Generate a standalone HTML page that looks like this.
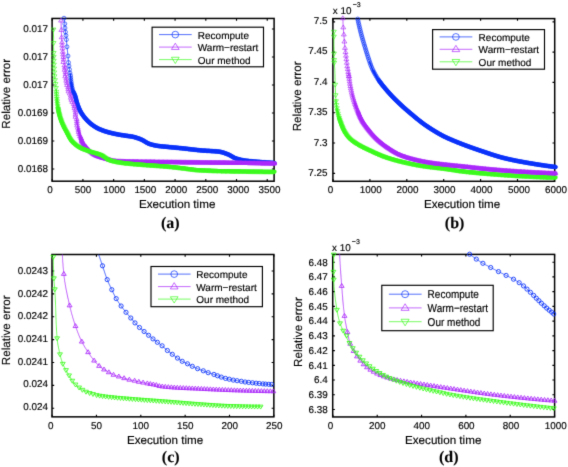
<!DOCTYPE html>
<html><head><meta charset="utf-8"><title>Figure</title>
<style>html,body{margin:0;padding:0;background:#fff}svg{display:block}text{font-family:"Liberation Sans",sans-serif;fill:#000;stroke:#000;stroke-width:0.15px;text-rendering:geometricPrecision}</style>
</head><body>
<svg width="568" height="467" viewBox="0 0 568 467">
<defs><filter id="soft" x="0" y="0" width="1" height="1" color-interpolation-filters="sRGB"><feConvolveMatrix order="3" kernelMatrix="0.0113 0.0838 0.0113 0.0838 0.619 0.0838 0.0113 0.0838 0.0113" edgeMode="duplicate" preserveAlpha="true"/></filter></defs>
<g filter="url(#soft)">
<rect width="568" height="467" fill="#fff"/>
<rect x="52.1" y="18.45" width="222.00000000000003" height="162.75" fill="none" stroke="#000" stroke-width="1.5"/>
<path d="M52.2 181.2v-2.2M52.2 18.45v2.2M82.92 181.2v-2.2M82.92 18.45v2.2M113.64 181.2v-2.2M113.64 18.45v2.2M144.36 181.2v-2.2M144.36 18.45v2.2M175.08 181.2v-2.2M175.08 18.45v2.2M205.8 181.2v-2.2M205.8 18.45v2.2M236.52 181.2v-2.2M236.52 18.45v2.2M267.24 181.2v-2.2M267.24 18.45v2.2M52.1 29h2.2M274.1 29h-2.2M52.1 57h2.2M274.1 57h-2.2M52.1 85h2.2M274.1 85h-2.2M52.1 113h2.2M274.1 113h-2.2M52.1 141h2.2M274.1 141h-2.2M52.1 169h2.2M274.1 169h-2.2" stroke="#000" stroke-width="1.15" fill="none"/>
<text x="49.90" y="193.30" font-size="9.9" text-anchor="middle">0</text>
<text x="82.92" y="193.30" font-size="9.9" text-anchor="middle">500</text>
<text x="114.34" y="193.30" font-size="9.9" text-anchor="middle">1000</text>
<text x="145.36" y="193.30" font-size="9.9" text-anchor="middle">1500</text>
<text x="176.28" y="193.30" font-size="9.9" text-anchor="middle">2000</text>
<text x="207.30" y="193.30" font-size="9.9" text-anchor="middle">2500</text>
<text x="238.32" y="193.30" font-size="9.9" text-anchor="middle">3000</text>
<text x="269.44" y="193.30" font-size="9.9" text-anchor="middle">3500</text>
<text x="48.0" y="32.1" font-size="9.9" text-anchor="end">0.017</text>
<text x="48.0" y="60.1" font-size="9.9" text-anchor="end">0.017</text>
<text x="48.0" y="88.1" font-size="9.9" text-anchor="end">0.017</text>
<text x="48.0" y="116.1" font-size="9.9" text-anchor="end">0.0169</text>
<text x="48.0" y="144.1" font-size="9.9" text-anchor="end">0.0169</text>
<text x="48.0" y="172.1" font-size="9.9" text-anchor="end">0.0168</text>
<path d="M64.0 18.2L64.2 19.2L64.4 20.2L64.5 21.2L64.6 22.2L64.8 23.2L64.8 24.2L64.9 25.2L64.9 26.2L65.0 27.2L65.0 28.2L65.1 29.2L65.2 30.2L65.4 31.2L65.5 32.2L65.7 33.2L65.8 34.2L66.0 35.2L66.1 36.2L66.2 37.2L66.3 38.2L66.4 39.2L66.5 40.2L66.5 41.2L66.6 42.2L66.7 43.2L66.8 44.2L66.9 45.2L66.9 46.3L67.0 47.3L67.1 48.3L67.3 49.3L67.4 50.3L67.5 51.3L67.6 52.3L67.7 53.3L67.8 54.3L67.9 55.3L68.0 56.3L68.1 57.3L68.2 58.3L68.2 59.3L68.3 60.3L68.4 61.3L68.5 62.3L68.6 63.3L68.7 64.3L68.9 65.3L69.0 66.3L69.2 67.3L69.3 68.3L69.5 69.3L69.6 70.3L69.7 71.3L69.9 72.3L70.1 73.3L70.3 74.3L70.5 75.3L70.6 76.2L70.7 77.3L70.8 78.3L70.8 79.3L70.9 80.3L71.1 81.3L71.2 82.3L71.3 83.3L71.5 84.3L71.7 85.3L71.8 86.3L72.0 87.3L72.2 88.3L72.5 89.2L72.7 90.2L73.0 91.1L73.4 92.0L73.9 93.0L74.3 93.9L74.7 94.8L75.1 95.7L75.4 96.7L75.6 97.7L75.9 98.7L76.1 99.6L76.4 100.6L76.6 101.6L76.9 102.6L77.2 103.5L77.5 104.5L77.8 105.4L78.2 106.4L78.6 107.3L79.0 108.3L79.4 109.2L79.8 110.1L80.2 111.0L80.7 111.9L81.2 112.7L81.8 113.6L82.3 114.5L82.9 115.3L83.5 116.1L84.1 116.9L84.7 117.7L85.4 118.4L86.1 119.2L86.7 120.0L87.4 120.7L88.2 121.4L88.9 122.1L89.7 122.8L90.4 123.4L91.2 124.1L92.0 124.7L92.8 125.3L93.6 125.9L94.5 126.4L95.3 127.0L96.2 127.5L97.1 128.0L98.0 128.5L98.9 128.9L99.8 129.3L100.7 129.7L101.6 130.0L102.6 130.4L103.5 130.7L104.5 131.1L105.5 131.4L106.4 131.7L107.4 132.0L108.4 132.3L109.4 132.5L110.3 132.8L111.3 133.0L112.3 133.3L113.3 133.5L114.2 133.7L115.2 133.9L116.2 134.1L117.2 134.3L118.2 134.5L119.2 134.7L120.2 134.8L121.2 135.0L122.2 135.2L123.2 135.3L124.2 135.5L125.2 135.6L126.2 135.7L127.2 135.9L128.2 136.0L129.2 136.2L130.2 136.3L131.2 136.5L132.2 136.6L133.1 136.8L134.1 137.1L135.1 137.3L136.1 137.6L137.0 137.9L138.0 138.3L138.9 138.6L139.9 139.0L140.8 139.3L141.7 139.7L142.6 140.2L143.5 140.7L144.4 141.2L145.3 141.8L146.1 142.3L147.0 142.8L147.9 143.3L148.8 143.7L149.7 144.0L150.7 144.3L151.6 144.6L152.6 144.8L153.6 145.1L154.6 145.3L155.6 145.5L156.6 145.7L157.6 145.9L158.6 146.0L159.6 146.1L160.6 146.2L161.6 146.3L162.6 146.4L163.6 146.5L164.6 146.6L165.6 146.7L166.6 146.8L167.6 146.9L168.6 147.0L169.6 147.1L170.6 147.2L171.6 147.3L172.6 147.4L173.6 147.5L174.6 147.6L175.6 147.7L176.6 147.8L177.6 147.9L178.6 148.0L179.6 148.1L180.7 148.2L181.7 148.3L182.7 148.4L183.7 148.5L184.7 148.6L185.7 148.7L186.7 148.8L187.7 148.9L188.7 149.0L189.7 149.2L190.7 149.3L191.7 149.4L192.7 149.5L193.7 149.6L194.7 149.7L195.7 149.8L196.7 150.0L197.7 150.1L198.7 150.2L199.7 150.3L200.7 150.4L201.7 150.4L202.7 150.5L203.7 150.6L204.7 150.7L205.7 150.7L206.7 150.8L207.7 150.9L208.8 150.9L209.8 151.0L210.8 151.0L211.8 151.1L212.8 151.1L213.8 151.2L214.8 151.3L215.8 151.4L216.8 151.4L217.8 151.5L218.8 151.7L219.8 151.8L220.8 152.0L221.7 152.2L222.7 152.5L223.7 152.8L224.7 153.1L225.6 153.5L226.6 153.8L227.5 154.2L228.4 154.5L229.3 155.0L230.2 155.5L231.1 156.0L232.0 156.5L232.9 157.0L233.8 157.5L234.7 157.9L235.6 158.3L236.5 158.6L237.5 158.9L238.4 159.2L239.4 159.5L240.4 159.7L241.4 159.9L242.4 160.1L243.4 160.3L244.4 160.5L245.4 160.6L246.4 160.8L247.4 160.9L248.4 161.0L249.4 161.1L250.4 161.2L251.4 161.3L252.4 161.4L253.4 161.5L254.4 161.6L255.4 161.6L256.4 161.7L257.4 161.8L258.4 161.9L259.4 162.0L260.4 162.0L261.4 162.1L262.4 162.2L263.4 162.3L264.4 162.3L265.4 162.4L266.5 162.5L267.5 162.6L268.5 162.6L269.5 162.7L270.5 162.8L271.5 162.8L272.5 162.9L273.5 162.9L274.5 163.0" fill="none" stroke="#0a32fa" stroke-width="0.75"/>
<path d="M70.2 74.1L70.3 74.4L70.4 74.8L70.4 75.1L70.5 75.5L70.5 75.8L70.6 76.1L70.6 76.5L70.6 76.8L70.7 77.2L70.7 77.5L70.7 77.9L70.7 78.2L70.8 78.6L70.8 78.9L70.8 79.3L70.9 79.6L70.9 80.0L70.9 80.3L71.0 80.6L71.0 81.0L71.1 81.3L71.1 81.7L71.2 82.0L71.2 82.4L71.3 82.7L71.3 83.1L71.4 83.4L71.4 83.8L71.5 84.1L71.5 84.5L71.6 84.8L71.6 85.1L71.7 85.5L71.7 85.8L71.8 86.2L71.9 86.5L71.9 86.9L72.0 87.2L72.1 87.5L72.1 87.9L72.2 88.2L72.3 88.6L72.4 88.9L72.5 89.2L72.5 89.6L72.6 89.9L72.7 90.2L72.8 90.5L72.9 90.9L73.1 91.2L73.2 91.5L73.3 91.8L73.5 92.1L73.6 92.5L73.8 92.8L74.0 93.1L74.1 93.4L74.3 93.7L74.4 94.0" fill="none" stroke="#0a32fa" stroke-width="1.26" stroke-linecap="round" stroke-linejoin="round"/>
<path d="M71.3 83.1L71.3 83.3L71.4 83.5L71.4 83.7L71.4 83.9L71.5 84.0L71.5 84.2L71.5 84.4L71.5 84.6L71.6 84.8L71.6 85.0L71.6 85.2L71.7 85.4L71.7 85.6L71.7 85.8L71.8 86.0L71.8 86.2L71.8 86.4L71.9 86.6L71.9 86.7L72.0 86.9L72.0 87.1L72.0 87.3L72.1 87.5L72.1 87.7L72.1 87.9L72.2 88.1L72.2 88.3L72.3 88.4L72.3 88.6L72.4 88.8L72.4 89.0L72.4 89.2L72.5 89.4L72.5 89.6L72.6 89.7L72.6 89.9L72.7 90.1L72.7 90.3L72.8 90.5L72.9 90.7L72.9 90.8L73.0 91.0L73.1 91.2L73.2 91.4L73.2 91.6L73.3 91.7L73.4 91.9L73.5 92.1L73.6 92.3L73.6 92.4L73.7 92.6L73.8 92.8L73.9 93.0L74.0 93.1L74.1 93.3L74.2 93.5L74.2 93.7L74.3 93.9L74.4 94.0" fill="none" stroke="#0a32fa" stroke-width="2.60" stroke-linecap="round" stroke-linejoin="round"/>
<path d="M73.4 92.0L73.7 92.5L73.9 93.1L74.2 93.6L74.4 94.1L74.7 94.6L74.9 95.1L75.1 95.7L75.2 96.2L75.4 96.8L75.5 97.3L75.7 97.9L75.8 98.4L76.0 99.0L76.1 99.5L76.2 100.1L76.4 100.6L76.5 101.2L76.7 101.7L76.8 102.3L77.0 102.8L77.1 103.4L77.3 103.9L77.5 104.4L77.7 105.0L77.9 105.5L78.1 106.1L78.3 106.6L78.5 107.1L78.7 107.6L78.9 108.2L79.1 108.7L79.4 109.2L79.6 109.7L79.9 110.2L80.1 110.7L80.4 111.2L80.6 111.7L80.9 112.2L81.2 112.7L81.5 113.2L81.8 113.7L82.1 114.2L82.5 114.6L82.8 115.1L83.1 115.6L83.5 116.0L83.8 116.5L84.2 116.9L84.5 117.4L84.9 117.8L85.2 118.2L85.6 118.7L86.0 119.1L86.4 119.5L86.7 119.9L87.1 120.4L87.5 120.8L87.9 121.2L88.4 121.6L88.8 122.0L89.2 122.4L89.6 122.7L90.0 123.1L90.5 123.5L90.9 123.8L91.4 124.2L91.8 124.5L92.3 124.9L92.7 125.2L93.2 125.5L93.6 125.9L94.1 126.2L94.6 126.5L95.1 126.8L95.6 127.1L96.1 127.4L96.6 127.7L97.1 128.0L97.6 128.2L98.1 128.5L98.6 128.7L99.1 129.0L99.6 129.2L100.1 129.4L100.6 129.6L101.2 129.8L101.7 130.1L102.2 130.3L102.7 130.5L103.3 130.6L103.8 130.8L104.4 131.0L104.9 131.2L105.5 131.4L106.0 131.6L106.6 131.7L107.1 131.9L107.6 132.1L108.2 132.2L108.7 132.4L109.3 132.5L109.8 132.7L110.4 132.8L110.9 132.9L111.5 133.1L112.0 133.2L112.6 133.3L113.1 133.5L113.7 133.6L114.3 133.7L114.8 133.8L115.4 133.9L115.9 134.0L116.5 134.2L117.1 134.3L117.6 134.4L118.2 134.5L118.7 134.6L119.3 134.7L119.9 134.8L120.4 134.9L121.0 135.0L121.5 135.1L122.1 135.1L122.7 135.2L123.2 135.3L123.8 135.4L124.3 135.5L124.9 135.6L125.5 135.6L126.0 135.7L126.6 135.8L127.2 135.9L127.7 136.0L128.3 136.1L128.8 136.1L129.4 136.2L130.0 136.3L130.5 136.4L131.1 136.5L131.7 136.5L132.2 136.6L132.8 136.8L133.3 136.9L133.9 137.0L134.4 137.1L135.0 137.3L135.5 137.5L136.1 137.6L136.6 137.8L137.2 138.0L137.7 138.2L138.2 138.3L138.8 138.5L139.3 138.7L139.8 138.9L140.4 139.2L140.9 139.4L141.4 139.6L141.9 139.8L142.4 140.1L142.9 140.3L143.4 140.6L143.9 140.9L144.4 141.2L144.9 141.5L145.4 141.9L145.9 142.2L146.4 142.5L146.9 142.7L147.4 143.0L147.9 143.3L148.4 143.5L148.9 143.7L149.4 143.9L149.9 144.1L150.5 144.2L151.0 144.4L151.6 144.6L152.1 144.7L152.7 144.9L153.2 145.0L153.8 145.1L154.3 145.2L154.9 145.4L155.5 145.5L156.0 145.6L156.6 145.7L157.2 145.8L157.7 145.9L158.3 146.0L158.8 146.0L159.4 146.1L160.0 146.2L160.5 146.2L161.1 146.3L161.7 146.4L162.2 146.4L162.8 146.5L163.4 146.5L163.9 146.6L164.5 146.6L165.1 146.7L165.6 146.7L166.2 146.8L166.8 146.8L167.3 146.9L167.9 146.9L168.5 147.0L169.0 147.1L169.6 147.1L170.2 147.2L170.7 147.2L171.3 147.3L171.9 147.3L172.4 147.4L173.0 147.4L173.6 147.5L174.1 147.5L174.7 147.6L175.2 147.6L175.8 147.7L176.4 147.7L176.9 147.8L177.5 147.9L178.1 147.9L178.6 148.0L179.2 148.0L179.8 148.1L180.3 148.1L180.9 148.2L181.5 148.2L182.0 148.3L182.6 148.4L183.2 148.4L183.7 148.5L184.3 148.5L184.9 148.6L185.4 148.7L186.0 148.7L186.6 148.8L187.1 148.9L187.7 148.9L188.3 149.0L188.8 149.1L189.4 149.1L189.9 149.2L190.5 149.3L191.1 149.3L191.6 149.4L192.2 149.5L192.8 149.5L193.3 149.6L193.9 149.6L194.5 149.7L195.0 149.8L195.6 149.8L196.2 149.9L196.7 150.0L197.3 150.0L197.9 150.1L198.4 150.1L199.0 150.2L199.6 150.2L200.1 150.3L200.7 150.4L201.2 150.4L201.8 150.5L202.4 150.5L202.9 150.6L203.5 150.6L204.1 150.6L204.7 150.7L205.2 150.7L205.8 150.7L206.4 150.8L206.9 150.8L207.5 150.8L208.1 150.9L208.6 150.9L209.2 150.9L209.8 151.0L210.4 151.0L210.9 151.0L211.5 151.1L212.1 151.1L212.6 151.1L213.2 151.2L213.8 151.2L214.3 151.2L214.9 151.3L215.5 151.3L216.0 151.4L216.6 151.4L217.2 151.5L217.7 151.5L218.3 151.6L218.8 151.7L219.4 151.7L219.9 151.8L220.5 151.9L221.0 152.0L221.6 152.2L222.2 152.3L222.7 152.5L223.3 152.6L223.8 152.8L224.3 153.0L224.9 153.2L225.4 153.4L226.0 153.6L226.5 153.8L227.0 154.0L227.6 154.2L228.1 154.4L228.6 154.6L229.1 154.9L229.6 155.1L230.1 155.4L230.6 155.7L231.1 156.0L231.6 156.3L232.1 156.6L232.6 156.8L233.1 157.1L233.6 157.4L234.1 157.7L234.6 157.9L235.1 158.1L235.7 158.3L236.2 158.5L236.7 158.7L237.3 158.9L237.8 159.0L238.3 159.2L238.9 159.3L239.4 159.5L240.0 159.6L240.6 159.8L241.1 159.9L241.7 160.0L242.2 160.1L242.8 160.2L243.4 160.3L243.9 160.4L244.5 160.5L245.0 160.6L245.6 160.7L246.2 160.7L246.7 160.8L247.3 160.9L247.8 160.9L248.4 161.0L249.0 161.1L249.5 161.1L250.1 161.2L250.7 161.2L251.2 161.3L251.8 161.3L252.4 161.4L252.9 161.4L253.5 161.5L254.1 161.5L254.6 161.6L255.2 161.6L255.8 161.7L256.4 161.7L256.9 161.8L257.5 161.8L258.1 161.8L258.6 161.9L259.2 161.9L259.8 162.0L260.3 162.0L260.9 162.1L261.5 162.1L262.0 162.2L262.6 162.2L263.2 162.2L263.7 162.3L264.3 162.3L264.9 162.4L265.4 162.4L266.0 162.5L266.6 162.5L267.1 162.5L267.7 162.6L268.3 162.6L268.8 162.7L269.4 162.7L270.0 162.7L270.5 162.8L271.1 162.8L271.7 162.8L272.2 162.9L272.8 162.9L273.4 162.9L273.9 163.0L274.5 163.0" fill="none" stroke="#0a32fa" stroke-width="4.20" stroke-linecap="round" stroke-linejoin="round"/>
<g fill="none" stroke="#0a32fa" stroke-width="0.65">
<circle cx="64.00" cy="18.20" r="1.95"/>
<circle cx="64.80" cy="23.80" r="1.95"/>
<circle cx="65.00" cy="28.00" r="1.95"/>
<circle cx="65.50" cy="32.00" r="1.95"/>
<circle cx="66.00" cy="35.50" r="1.95"/>
<circle cx="66.40" cy="39.60" r="1.95"/>
<circle cx="67.00" cy="46.80" r="1.95"/>
<circle cx="68.00" cy="56.00" r="1.95"/>
<circle cx="68.50" cy="62.50" r="1.95"/>
<circle cx="69.00" cy="66.00" r="1.95"/>
<circle cx="69.50" cy="69.50" r="1.95"/>
<circle cx="70.00" cy="73.00" r="1.95"/>
<circle cx="70.50" cy="75.50" r="1.95"/>
<circle cx="70.71" cy="77.79" r="1.95"/>
<circle cx="70.89" cy="79.78" r="1.95"/>
<circle cx="71.13" cy="81.77" r="1.95"/>
<circle cx="71.41" cy="83.76" r="1.95"/>
<circle cx="71.73" cy="85.75" r="1.95"/>
<circle cx="72.11" cy="87.72" r="1.95"/>
<circle cx="72.56" cy="89.64" r="1.95"/>
<circle cx="73.21" cy="91.51" r="1.95"/>
<circle cx="74.07" cy="93.33" r="1.95"/>
<circle cx="74.88" cy="95.17" r="1.95"/>
<circle cx="75.28" cy="96.40" r="1.95"/>
<circle cx="75.63" cy="97.65" r="1.95"/>
<circle cx="75.95" cy="98.92" r="1.95"/>
<circle cx="76.26" cy="100.19" r="1.95"/>
<circle cx="76.58" cy="101.45" r="1.95"/>
<circle cx="76.92" cy="102.70" r="1.95"/>
<circle cx="77.31" cy="103.94" r="1.95"/>
<circle cx="77.74" cy="105.17" r="1.95"/>
<circle cx="78.20" cy="106.39" r="1.95"/>
<circle cx="78.68" cy="107.61" r="1.95"/>
<circle cx="79.20" cy="108.81" r="1.95"/>
<circle cx="79.74" cy="109.98" r="1.95"/>
<circle cx="80.32" cy="111.14" r="1.95"/>
<circle cx="80.94" cy="112.27" r="1.95"/>
<circle cx="81.62" cy="113.38" r="1.95"/>
<circle cx="82.34" cy="114.48" r="1.95"/>
<circle cx="83.09" cy="115.55" r="1.95"/>
<circle cx="83.88" cy="116.59" r="1.95"/>
<circle cx="84.68" cy="117.60" r="1.95"/>
<circle cx="85.51" cy="118.59" r="1.95"/>
<circle cx="86.38" cy="119.56" r="1.95"/>
<circle cx="87.28" cy="120.52" r="1.95"/>
<circle cx="88.21" cy="121.45" r="1.95"/>
<circle cx="89.17" cy="122.34" r="1.95"/>
<circle cx="90.14" cy="123.20" r="1.95"/>
<circle cx="91.14" cy="124.01" r="1.95"/>
<circle cx="92.16" cy="124.80" r="1.95"/>
<circle cx="93.22" cy="125.57" r="1.95"/>
<circle cx="94.30" cy="126.31" r="1.95"/>
<circle cx="95.41" cy="127.02" r="1.95"/>
<circle cx="96.54" cy="127.69" r="1.95"/>
<circle cx="97.68" cy="128.30" r="1.95"/>
<circle cx="98.83" cy="128.85" r="1.95"/>
<circle cx="100.01" cy="129.37" r="1.95"/>
<circle cx="101.20" cy="129.86" r="1.95"/>
<circle cx="102.42" cy="130.33" r="1.95"/>
<circle cx="103.65" cy="130.78" r="1.95"/>
<circle cx="104.89" cy="131.20" r="1.95"/>
<circle cx="106.14" cy="131.60" r="1.95"/>
<circle cx="107.39" cy="131.98" r="1.95"/>
<circle cx="108.65" cy="132.34" r="1.95"/>
<circle cx="109.90" cy="132.67" r="1.95"/>
<circle cx="111.16" cy="132.99" r="1.95"/>
<circle cx="112.42" cy="133.29" r="1.95"/>
<circle cx="113.69" cy="133.58" r="1.95"/>
<circle cx="114.96" cy="133.85" r="1.95"/>
<circle cx="116.24" cy="134.11" r="1.95"/>
<circle cx="117.52" cy="134.35" r="1.95"/>
<circle cx="118.80" cy="134.59" r="1.95"/>
<circle cx="120.08" cy="134.81" r="1.95"/>
<circle cx="121.36" cy="135.03" r="1.95"/>
<circle cx="122.65" cy="135.23" r="1.95"/>
<circle cx="123.93" cy="135.42" r="1.95"/>
<circle cx="125.22" cy="135.61" r="1.95"/>
<circle cx="126.51" cy="135.80" r="1.95"/>
<circle cx="127.79" cy="135.99" r="1.95"/>
<circle cx="129.08" cy="136.16" r="1.95"/>
<circle cx="130.37" cy="136.34" r="1.95"/>
<circle cx="131.66" cy="136.54" r="1.95"/>
<circle cx="132.93" cy="136.79" r="1.95"/>
<circle cx="134.19" cy="137.09" r="1.95"/>
<circle cx="135.45" cy="137.43" r="1.95"/>
<circle cx="136.70" cy="137.82" r="1.95"/>
<circle cx="137.94" cy="138.24" r="1.95"/>
<circle cx="139.16" cy="138.69" r="1.95"/>
<circle cx="140.37" cy="139.15" r="1.95"/>
<circle cx="141.56" cy="139.64" r="1.95"/>
<circle cx="142.72" cy="140.23" r="1.95"/>
<circle cx="143.85" cy="140.89" r="1.95"/>
<circle cx="144.98" cy="141.59" r="1.95"/>
<circle cx="146.10" cy="142.28" r="1.95"/>
<circle cx="147.23" cy="142.94" r="1.95"/>
<circle cx="148.39" cy="143.51" r="1.95"/>
<circle cx="149.58" cy="143.96" r="1.95"/>
<circle cx="150.80" cy="144.34" r="1.95"/>
<circle cx="152.05" cy="144.69" r="1.95"/>
<circle cx="153.32" cy="145.01" r="1.95"/>
<circle cx="154.60" cy="145.30" r="1.95"/>
<circle cx="155.88" cy="145.56" r="1.95"/>
<circle cx="157.17" cy="145.79" r="1.95"/>
<circle cx="158.45" cy="145.98" r="1.95"/>
<circle cx="159.73" cy="146.14" r="1.95"/>
<circle cx="161.02" cy="146.29" r="1.95"/>
<circle cx="162.32" cy="146.42" r="1.95"/>
<circle cx="163.62" cy="146.55" r="1.95"/>
<circle cx="164.91" cy="146.66" r="1.95"/>
<circle cx="166.21" cy="146.78" r="1.95"/>
<circle cx="167.50" cy="146.91" r="1.95"/>
<circle cx="168.80" cy="147.04" r="1.95"/>
<circle cx="170.09" cy="147.16" r="1.95"/>
<circle cx="171.39" cy="147.28" r="1.95"/>
<circle cx="172.68" cy="147.40" r="1.95"/>
<circle cx="173.98" cy="147.52" r="1.95"/>
<circle cx="175.27" cy="147.64" r="1.95"/>
<circle cx="176.56" cy="147.76" r="1.95"/>
<circle cx="177.86" cy="147.88" r="1.95"/>
<circle cx="179.15" cy="148.01" r="1.95"/>
<circle cx="180.45" cy="148.13" r="1.95"/>
<circle cx="181.74" cy="148.27" r="1.95"/>
<circle cx="183.03" cy="148.40" r="1.95"/>
<circle cx="184.33" cy="148.54" r="1.95"/>
<circle cx="185.62" cy="148.69" r="1.95"/>
<circle cx="186.91" cy="148.83" r="1.95"/>
<circle cx="188.20" cy="148.98" r="1.95"/>
<circle cx="189.49" cy="149.13" r="1.95"/>
<circle cx="190.78" cy="149.28" r="1.95"/>
<circle cx="192.08" cy="149.44" r="1.95"/>
<circle cx="193.37" cy="149.58" r="1.95"/>
<circle cx="194.66" cy="149.73" r="1.95"/>
<circle cx="195.95" cy="149.87" r="1.95"/>
<circle cx="197.24" cy="150.01" r="1.95"/>
<circle cx="198.54" cy="150.15" r="1.95"/>
<circle cx="199.83" cy="150.28" r="1.95"/>
<circle cx="201.12" cy="150.40" r="1.95"/>
<circle cx="202.42" cy="150.51" r="1.95"/>
<circle cx="203.72" cy="150.61" r="1.95"/>
<circle cx="205.02" cy="150.70" r="1.95"/>
<circle cx="206.32" cy="150.78" r="1.95"/>
<circle cx="207.63" cy="150.85" r="1.95"/>
<circle cx="208.93" cy="150.92" r="1.95"/>
<circle cx="210.24" cy="150.99" r="1.95"/>
<circle cx="211.54" cy="151.06" r="1.95"/>
<circle cx="212.84" cy="151.14" r="1.95"/>
<circle cx="214.14" cy="151.23" r="1.95"/>
<circle cx="215.44" cy="151.32" r="1.95"/>
<circle cx="216.72" cy="151.43" r="1.95"/>
<circle cx="218.00" cy="151.56" r="1.95"/>
<circle cx="219.27" cy="151.71" r="1.95"/>
<circle cx="220.54" cy="151.92" r="1.95"/>
<circle cx="221.81" cy="152.22" r="1.95"/>
<circle cx="223.07" cy="152.58" r="1.95"/>
<circle cx="224.31" cy="152.99" r="1.95"/>
<circle cx="225.55" cy="153.43" r="1.95"/>
<circle cx="226.78" cy="153.89" r="1.95"/>
<circle cx="227.98" cy="154.35" r="1.95"/>
<circle cx="229.16" cy="154.89" r="1.95"/>
<circle cx="230.31" cy="155.51" r="1.95"/>
<circle cx="231.45" cy="156.17" r="1.95"/>
<circle cx="232.59" cy="156.84" r="1.95"/>
<circle cx="233.73" cy="157.47" r="1.95"/>
<circle cx="234.90" cy="158.03" r="1.95"/>
<circle cx="236.09" cy="158.50" r="1.95"/>
<circle cx="237.31" cy="158.88" r="1.95"/>
<circle cx="238.56" cy="159.24" r="1.95"/>
<circle cx="239.82" cy="159.57" r="1.95"/>
<circle cx="241.10" cy="159.87" r="1.95"/>
<circle cx="242.38" cy="160.14" r="1.95"/>
<circle cx="243.67" cy="160.37" r="1.95"/>
<circle cx="244.94" cy="160.56" r="1.95"/>
<circle cx="246.23" cy="160.73" r="1.95"/>
<circle cx="247.51" cy="160.89" r="1.95"/>
<circle cx="248.80" cy="161.04" r="1.95"/>
<circle cx="250.10" cy="161.17" r="1.95"/>
<circle cx="251.39" cy="161.29" r="1.95"/>
<circle cx="252.69" cy="161.41" r="1.95"/>
<circle cx="253.99" cy="161.52" r="1.95"/>
<circle cx="255.29" cy="161.63" r="1.95"/>
<circle cx="256.59" cy="161.73" r="1.95"/>
<circle cx="257.88" cy="161.83" r="1.95"/>
<circle cx="259.18" cy="161.93" r="1.95"/>
<circle cx="260.48" cy="162.04" r="1.95"/>
<circle cx="261.77" cy="162.14" r="1.95"/>
<circle cx="263.07" cy="162.24" r="1.95"/>
<circle cx="264.37" cy="162.34" r="1.95"/>
<circle cx="265.66" cy="162.43" r="1.95"/>
<circle cx="266.96" cy="162.52" r="1.95"/>
<circle cx="268.26" cy="162.61" r="1.95"/>
<circle cx="269.55" cy="162.70" r="1.95"/>
<circle cx="270.85" cy="162.78" r="1.95"/>
<circle cx="272.15" cy="162.86" r="1.95"/>
<circle cx="273.45" cy="162.94" r="1.95"/>
</g>
<path d="M61.0 20.6L61.0 21.7L61.1 22.8L61.1 23.8L61.1 24.9L61.2 26.0L61.2 27.1L61.2 28.2L61.3 29.2L61.3 30.3L61.3 31.4L61.4 32.5L61.4 33.6L61.5 34.6L61.5 35.7L61.6 36.8L61.6 37.9L61.7 39.0L61.8 40.0L61.9 41.1L62.0 42.2L62.1 43.3L62.1 44.3L62.2 45.4L62.3 46.5L62.4 47.6L62.5 48.6L62.6 49.7L62.7 50.8L62.8 51.9L62.9 52.9L63.0 54.0L63.2 55.1L63.3 56.2L63.4 57.2L63.6 58.3L63.7 59.4L63.8 60.5L63.9 61.5L64.1 62.6L64.2 63.7L64.3 64.8L64.5 65.8L64.6 66.9L64.7 68.0L64.9 69.0L65.0 70.1L65.2 71.2L65.3 72.3L65.4 73.3L65.6 74.4L65.7 75.5L65.9 76.5L66.0 77.6L66.2 78.7L66.4 79.7L66.5 80.8L66.7 81.9L66.9 82.9L67.1 84.0L67.4 85.1L67.6 86.1L67.8 87.2L68.1 88.2L68.4 89.3L68.6 90.3L68.9 91.3L69.3 92.4L69.6 93.4L70.0 94.4L70.3 95.4L70.7 96.5L71.0 97.5L71.4 98.5L71.7 99.5L72.0 100.6L72.3 101.6L72.6 102.6L73.0 103.7L73.3 104.7L73.6 105.8L73.8 106.8L74.1 107.8L74.4 108.9L74.6 109.9L74.9 111.0L75.1 112.0L75.3 113.1L75.5 114.2L75.8 115.2L76.0 116.3L76.2 117.3L76.4 118.4L76.6 119.5L76.7 120.5L76.9 121.6L77.0 122.7L77.2 123.7L77.4 124.8L77.6 125.9L77.8 126.9L78.0 128.0L78.2 129.1L78.4 130.1L78.7 131.2L79.0 132.2L79.2 133.3L79.5 134.3L79.8 135.3L80.1 136.4L80.4 137.4L80.8 138.5L81.1 139.5L81.5 140.5L82.0 141.4L82.5 142.4L83.0 143.3L83.6 144.2L84.3 145.1L84.9 146.0L85.6 146.8L86.3 147.6L87.1 148.4L87.8 149.2L88.5 150.0L89.3 150.8L90.1 151.6L90.9 152.3L91.8 153.0L92.6 153.7L93.5 154.3L94.4 154.8L95.3 155.3L96.3 155.8L97.3 156.2L98.3 156.5L99.3 156.9L100.4 157.2L101.4 157.6L102.5 157.9L103.5 158.1L104.6 158.4L105.6 158.7L106.7 159.0L107.7 159.3L108.8 159.6L109.8 159.9L110.9 160.2L111.9 160.4L113.0 160.6L114.1 160.8L115.1 161.0L116.2 161.1L117.3 161.2L118.3 161.2L119.4 161.3L120.5 161.3L121.5 161.3L122.6 161.4L123.7 161.4L124.7 161.4L125.8 161.5L126.9 161.5L128.0 161.5L129.0 161.6L130.1 161.6L131.2 161.6L132.3 161.6L133.4 161.7L134.4 161.7L135.5 161.7L136.6 161.7L137.7 161.7L138.8 161.8L139.8 161.8L140.9 161.8L142.0 161.8L143.1 161.8L144.2 161.8L145.3 161.8L146.4 161.9L147.4 161.9L148.5 161.9L149.6 161.9L150.7 161.9L151.8 161.9L152.9 161.9L154.0 161.9L155.0 162.0L156.1 162.0L157.2 162.0L158.3 162.0L159.4 162.0L160.5 162.0L161.5 162.0L162.6 162.0L163.7 162.1L164.8 162.1L165.9 162.1L167.0 162.1L168.0 162.1L169.1 162.1L170.2 162.1L171.3 162.2L172.4 162.2L173.4 162.2L174.5 162.2L175.6 162.2L176.7 162.2L177.8 162.2L178.8 162.2L179.9 162.3L181.0 162.3L182.1 162.3L183.2 162.3L184.2 162.3L185.3 162.3L186.4 162.3L187.5 162.3L188.6 162.3L189.6 162.4L190.7 162.4L191.8 162.4L192.9 162.4L194.0 162.4L195.0 162.4L196.1 162.4L197.2 162.4L198.3 162.4L199.4 162.4L200.4 162.5L201.5 162.5L202.6 162.5L203.7 162.5L204.8 162.5L205.8 162.5L206.9 162.5L208.0 162.5L209.1 162.5L210.2 162.6L211.3 162.6L212.3 162.6L213.4 162.6L214.5 162.6L215.6 162.6L216.7 162.6L217.7 162.6L218.8 162.6L219.9 162.7L221.0 162.7L222.1 162.7L223.1 162.7L224.2 162.7L225.3 162.7L226.4 162.7L227.5 162.8L228.5 162.8L229.6 162.8L230.7 162.8L231.8 162.8L232.9 162.8L233.9 162.8L235.0 162.9L236.1 162.9L237.2 162.9L238.3 162.9L239.3 162.9L240.4 162.9L241.5 163.0L242.6 163.0L243.7 163.0L244.7 163.0L245.8 163.0L246.9 163.0L248.0 163.1L249.1 163.1L250.1 163.1L251.2 163.1L252.3 163.1L253.4 163.1L254.5 163.2L255.6 163.2L256.6 163.2L257.7 163.2L258.8 163.2L259.9 163.2L261.0 163.3L262.0 163.3L263.1 163.3L264.2 163.3L265.3 163.3L266.4 163.4L267.4 163.4L268.5 163.4L269.6 163.4L270.7 163.4L271.8 163.4L272.8 163.5L273.9 163.5L275.0 163.5" fill="none" stroke="#aa28fa" stroke-width="0.75"/>
<path d="M76.6 120.0L76.7 120.4L76.8 120.7L76.8 121.1L76.9 121.4L76.9 121.7L77.0 122.1L77.0 122.4L77.1 122.8L77.1 123.1L77.2 123.5L77.2 123.8L77.3 124.2L77.3 124.5L77.4 124.9L77.4 125.2L77.5 125.5L77.6 125.9L77.6 126.2L77.7 126.6L77.8 126.9L77.8 127.3L77.9 127.6L78.0 127.9L78.0 128.3L78.1 128.6L78.2 129.0L78.3 129.3L78.3 129.6L78.4 130.0L78.5 130.3L78.6 130.7L78.7 131.0L78.7 131.3L78.8 131.7L78.9 132.0L79.0 132.4L79.1 132.7L79.2 133.0L79.3 133.4L79.4 133.7L79.4 134.0L79.5 134.4L79.6 134.7L79.7 135.1L79.8 135.4L79.9 135.7L80.0 136.1L80.1 136.4L80.2 136.8L80.3 137.1L80.4 137.4L80.5 137.8L80.6 138.1L80.7 138.4L80.9 138.8L81.0 139.1L81.1 139.4L81.2 139.7L81.3 140.1" fill="none" stroke="#aa28fa" stroke-width="1.26" stroke-linecap="round" stroke-linejoin="round"/>
<path d="M78.2 129.0L78.2 129.2L78.3 129.4L78.3 129.6L78.4 129.8L78.4 130.0L78.5 130.2L78.5 130.4L78.6 130.6L78.6 130.7L78.6 130.9L78.7 131.1L78.7 131.3L78.8 131.5L78.8 131.7L78.9 131.9L78.9 132.1L79.0 132.2L79.0 132.4L79.1 132.6L79.1 132.8L79.2 133.0L79.2 133.2L79.3 133.4L79.3 133.6L79.4 133.7L79.4 133.9L79.5 134.1L79.5 134.3L79.6 134.5L79.6 134.7L79.7 134.9L79.7 135.1L79.8 135.2L79.8 135.4L79.9 135.6L79.9 135.8L80.0 136.0L80.0 136.2L80.1 136.4L80.2 136.6L80.2 136.8L80.3 136.9L80.3 137.1L80.4 137.3L80.4 137.5L80.5 137.7L80.6 137.9L80.6 138.1L80.7 138.2L80.7 138.4L80.8 138.6L80.9 138.8L80.9 139.0L81.0 139.2L81.1 139.3L81.1 139.5L81.2 139.7L81.3 139.9L81.3 140.1" fill="none" stroke="#aa28fa" stroke-width="2.60" stroke-linecap="round" stroke-linejoin="round"/>
<path d="M80.6 138.0L80.8 138.5L80.9 139.0L81.1 139.5L81.3 140.0L81.5 140.4L81.7 140.9L81.9 141.3L82.1 141.8L82.4 142.2L82.6 142.6L82.9 143.1L83.1 143.5L83.4 143.9L83.7 144.4L84.0 144.8L84.3 145.2L84.7 145.6L85.0 146.0L85.3 146.4L85.6 146.8L86.0 147.2L86.3 147.6L86.6 148.0L87.0 148.4L87.3 148.7L87.7 149.1L88.0 149.5L88.4 149.9L88.7 150.2L89.1 150.6L89.5 151.0L89.8 151.3L90.2 151.7L90.6 152.1L91.0 152.4L91.4 152.7L91.8 153.1L92.2 153.4L92.6 153.7L93.0 154.0L93.4 154.3L93.9 154.5L94.3 154.8L94.7 155.0L95.1 155.2L95.6 155.4L96.0 155.7L96.5 155.9L97.0 156.0L97.5 156.2L97.9 156.4L98.4 156.6L98.9 156.8L99.4 156.9L99.9 157.1L100.4 157.2L100.9 157.4L101.4 157.5L101.9 157.7L102.4 157.8L102.9 158.0L103.4 158.1L103.9 158.2L104.3 158.4L104.8 158.5L105.3 158.7L105.8 158.8L106.3 159.0L106.8 159.1L107.3 159.2L107.8 159.4L108.3 159.5L108.8 159.6L109.3 159.8L109.8 159.9L110.3 160.0L110.8 160.2L111.3 160.3L111.8 160.4L112.3 160.5L112.8 160.6L113.3 160.7L113.8 160.8L114.3 160.9L114.8 160.9L115.3 161.0L115.8 161.1L116.3 161.1L116.8 161.2L117.3 161.2L117.8 161.2L118.3 161.2L118.8 161.2L119.3 161.3L119.9 161.3L120.4 161.3L120.9 161.3L121.4 161.3L121.9 161.4L122.4 161.4L122.9 161.4L123.4 161.4L123.9 161.4L124.4 161.4L124.9 161.4L125.4 161.5L125.9 161.5L126.4 161.5L126.9 161.5L127.4 161.5L128.0 161.5L128.5 161.5L129.0 161.6L129.5 161.6L130.0 161.6L130.5 161.6L131.0 161.6L131.5 161.6L132.0 161.6L132.5 161.6L133.0 161.7L133.6 161.7L134.1 161.7L134.6 161.7L135.1 161.7L135.6 161.7L136.1 161.7L136.6 161.7L137.1 161.7L137.6 161.7L138.2 161.7L138.7 161.8L139.2 161.8L139.7 161.8L140.2 161.8L140.7 161.8L141.2 161.8L141.7 161.8L142.2 161.8L142.8 161.8L143.3 161.8L143.8 161.8L144.3 161.8L144.8 161.8L145.3 161.8L145.8 161.9L146.3 161.9L146.9 161.9L147.4 161.9L147.9 161.9L148.4 161.9L148.9 161.9L149.4 161.9L149.9 161.9L150.4 161.9L151.0 161.9L151.5 161.9L152.0 161.9L152.5 161.9L153.0 161.9L153.5 161.9L154.0 161.9L154.5 162.0L155.1 162.0L155.6 162.0L156.1 162.0L156.6 162.0L157.1 162.0L157.6 162.0L158.1 162.0L158.6 162.0L159.2 162.0L159.7 162.0L160.2 162.0L160.7 162.0L161.2 162.0L161.7 162.0L162.2 162.0L162.7 162.0L163.2 162.0L163.8 162.1L164.3 162.1L164.8 162.1L165.3 162.1L165.8 162.1L166.3 162.1L166.8 162.1L167.3 162.1L167.8 162.1L168.4 162.1L168.9 162.1L169.4 162.1L169.9 162.1L170.4 162.1L170.9 162.1L171.4 162.2L171.9 162.2L172.4 162.2L172.9 162.2L173.5 162.2L174.0 162.2L174.5 162.2L175.0 162.2L175.5 162.2L176.0 162.2L176.5 162.2L177.0 162.2L177.5 162.2L178.0 162.2L178.6 162.2L179.1 162.2L179.6 162.2L180.1 162.3L180.6 162.3L181.1 162.3L181.6 162.3L182.1 162.3L182.6 162.3L183.2 162.3L183.7 162.3L184.2 162.3L184.7 162.3L185.2 162.3L185.7 162.3L186.2 162.3L186.7 162.3L187.2 162.3L187.7 162.3L188.3 162.3L188.8 162.3L189.3 162.3L189.8 162.4L190.3 162.4L190.8 162.4L191.3 162.4L191.8 162.4L192.3 162.4L192.8 162.4L193.4 162.4L193.9 162.4L194.4 162.4L194.9 162.4L195.4 162.4L195.9 162.4L196.4 162.4L196.9 162.4L197.4 162.4L197.9 162.4L198.5 162.4L199.0 162.4L199.5 162.4L200.0 162.5L200.5 162.5L201.0 162.5L201.5 162.5L202.0 162.5L202.5 162.5L203.1 162.5L203.6 162.5L204.1 162.5L204.6 162.5L205.1 162.5L205.6 162.5L206.1 162.5L206.6 162.5L207.1 162.5L207.6 162.5L208.2 162.5L208.7 162.5L209.2 162.5L209.7 162.5L210.2 162.6L210.7 162.6L211.2 162.6L211.7 162.6L212.2 162.6L212.7 162.6L213.3 162.6L213.8 162.6L214.3 162.6L214.8 162.6L215.3 162.6L215.8 162.6L216.3 162.6L216.8 162.6L217.3 162.6L217.9 162.6L218.4 162.6L218.9 162.6L219.4 162.7L219.9 162.7L220.4 162.7L220.9 162.7L221.4 162.7L221.9 162.7L222.4 162.7L223.0 162.7L223.5 162.7L224.0 162.7L224.5 162.7L225.0 162.7L225.5 162.7L226.0 162.7L226.5 162.7L227.0 162.8L227.5 162.8L228.1 162.8L228.6 162.8L229.1 162.8L229.6 162.8L230.1 162.8L230.6 162.8L231.1 162.8L231.6 162.8L232.1 162.8L232.6 162.8L233.2 162.8L233.7 162.8L234.2 162.8L234.7 162.9L235.2 162.9L235.7 162.9L236.2 162.9L236.7 162.9L237.2 162.9L237.8 162.9L238.3 162.9L238.8 162.9L239.3 162.9L239.8 162.9L240.3 162.9L240.8 162.9L241.3 163.0L241.8 163.0L242.3 163.0L242.9 163.0L243.4 163.0L243.9 163.0L244.4 163.0L244.9 163.0L245.4 163.0L245.9 163.0L246.4 163.0L246.9 163.0L247.4 163.0L248.0 163.1L248.5 163.1L249.0 163.1L249.5 163.1L250.0 163.1L250.5 163.1L251.0 163.1L251.5 163.1L252.0 163.1L252.5 163.1L253.1 163.1L253.6 163.1L254.1 163.1L254.6 163.2L255.1 163.2L255.6 163.2L256.1 163.2L256.6 163.2L257.1 163.2L257.7 163.2L258.2 163.2L258.7 163.2L259.2 163.2L259.7 163.2L260.2 163.2L260.7 163.3L261.2 163.3L261.7 163.3L262.2 163.3L262.8 163.3L263.3 163.3L263.8 163.3L264.3 163.3L264.8 163.3L265.3 163.3L265.8 163.3L266.3 163.3L266.8 163.4L267.3 163.4L267.9 163.4L268.4 163.4L268.9 163.4L269.4 163.4L269.9 163.4L270.4 163.4L270.9 163.4L271.4 163.4L271.9 163.4L272.4 163.5L273.0 163.5L273.5 163.5L274.0 163.5L274.5 163.5L275.0 163.5" fill="none" stroke="#aa28fa" stroke-width="4.20" stroke-linecap="round" stroke-linejoin="round"/>
<g fill="none" stroke="#aa28fa" stroke-width="0.65">
<path d="M58.59 22.06L63.41 22.06L61.00 18.13Z"/>
<path d="M58.88 31.46L63.71 31.46L61.30 27.53Z"/>
<path d="M59.19 38.76L64.02 38.76L61.60 34.83Z"/>
<path d="M59.59 43.86L64.42 43.86L62.00 39.93Z"/>
<path d="M59.79 46.86L64.62 46.86L62.20 42.93Z"/>
<path d="M60.09 49.86L64.92 49.86L62.50 45.93Z"/>
<path d="M60.38 53.26L65.22 53.26L62.80 49.33Z"/>
<path d="M60.69 55.96L65.52 55.96L63.10 52.03Z"/>
<path d="M60.98 58.46L65.81 58.46L63.40 54.53Z"/>
<path d="M61.29 60.96L66.12 60.96L63.70 57.03Z"/>
<path d="M60.93 63.46L65.76 63.46L63.34 59.53Z"/>
<path d="M61.95 66.90L66.78 66.90L64.36 62.97Z"/>
<path d="M62.49 69.08L67.32 69.08L64.90 65.16Z"/>
<path d="M62.25 71.27L67.08 71.27L64.66 67.34Z"/>
<path d="M63.09 73.45L67.92 73.45L65.51 69.52Z"/>
<path d="M63.26 75.63L68.09 75.63L65.67 71.70Z"/>
<path d="M62.76 77.81L67.59 77.81L65.17 73.88Z"/>
<path d="M63.83 79.99L68.66 79.99L66.24 76.06Z"/>
<path d="M63.77 82.16L68.60 82.16L66.18 78.23Z"/>
<path d="M64.39 84.32L69.22 84.32L66.80 80.39Z"/>
<path d="M64.65 86.48L69.48 86.48L67.06 82.55Z"/>
<path d="M65.70 88.63L70.53 88.63L68.12 84.70Z"/>
<path d="M65.87 90.76L70.70 90.76L68.29 86.83Z"/>
<path d="M66.07 92.87L70.90 92.87L68.48 88.95Z"/>
<path d="M67.30 94.96L72.13 94.96L69.72 91.03Z"/>
<path d="M68.37 97.04L73.20 97.04L70.78 93.11Z"/>
<path d="M68.41 99.13L73.24 99.13L70.83 95.20Z"/>
<path d="M68.95 101.23L73.78 101.23L71.37 97.30Z"/>
<path d="M69.84 103.33L74.67 103.33L72.25 99.40Z"/>
<path d="M71.24 105.44L76.07 105.44L73.66 101.51Z"/>
<path d="M71.90 107.55L76.73 107.55L74.32 103.62Z"/>
<path d="M72.03 109.68L76.86 109.68L74.45 105.75Z"/>
<path d="M72.87 111.82L77.70 111.82L75.28 107.89Z"/>
<path d="M73.27 113.96L78.10 113.96L75.68 110.04Z"/>
<path d="M73.07 116.12L77.90 116.12L75.48 112.19Z"/>
<path d="M73.09 118.28L77.92 118.28L75.51 114.35Z"/>
<path d="M74.27 120.44L79.10 120.44L76.69 116.51Z"/>
<path d="M74.49 122.61L79.32 122.61L76.90 118.69Z"/>
<path d="M74.54 124.79L79.37 124.79L76.95 120.86Z"/>
<path d="M74.70 126.96L79.53 126.96L77.11 123.03Z"/>
<path d="M75.37 129.12L80.20 129.12L77.78 125.19Z"/>
<path d="M75.92 131.27L80.75 131.27L78.33 127.35Z"/>
<path d="M76.16 133.41L80.99 133.41L78.57 129.49Z"/>
<path d="M76.75 135.54L81.58 135.54L79.17 131.61Z"/>
<path d="M77.58 137.68L82.41 137.68L80.00 133.75Z"/>
<path d="M78.81 139.80L83.64 139.80L81.22 135.88Z"/>
<path d="M79.19 141.85L84.02 141.85L81.61 137.92Z"/>
<path d="M79.29 143.00L84.12 143.00L81.71 139.07Z"/>
<path d="M79.90 144.12L84.73 144.12L82.31 140.19Z"/>
<path d="M80.83 145.23L85.66 145.23L83.25 141.30Z"/>
<path d="M81.24 146.31L86.07 146.31L83.66 142.38Z"/>
<path d="M82.05 147.36L86.88 147.36L84.46 143.43Z"/>
<path d="M83.32 148.38L88.15 148.38L85.74 144.45Z"/>
<path d="M83.58 149.37L88.41 149.37L85.99 145.44Z"/>
<path d="M84.99 150.32L89.82 150.32L87.41 146.39Z"/>
<path d="M85.71 151.28L90.54 151.28L88.13 147.35Z"/>
<path d="M86.83 152.23L91.66 152.23L89.24 148.30Z"/>
<path d="M87.79 153.16L92.62 153.16L90.20 149.23Z"/>
<path d="M88.78 154.04L93.61 154.04L91.20 150.12Z"/>
<path d="M89.80 154.87L94.63 154.87L92.22 150.94Z"/>
<path d="M90.85 155.62L95.68 155.62L93.27 151.69Z"/>
<path d="M91.93 156.27L96.76 156.27L94.35 152.35Z"/>
<path d="M93.04 156.84L97.87 156.84L95.46 152.91Z"/>
<path d="M94.22 157.36L99.05 157.36L96.63 153.43Z"/>
<path d="M95.43 157.83L100.26 157.83L97.85 153.91Z"/>
<path d="M96.68 158.27L101.51 158.27L99.09 154.35Z"/>
<path d="M97.94 158.68L102.77 158.68L100.35 154.75Z"/>
<path d="M99.20 159.06L104.03 159.06L101.62 155.14Z"/>
<path d="M100.46 159.42L105.29 159.42L102.87 155.49Z"/>
<path d="M101.70 159.78L106.53 159.78L104.12 155.85Z"/>
<path d="M102.96 160.14L107.79 160.14L105.37 156.21Z"/>
<path d="M104.22 160.50L109.05 160.50L106.63 156.57Z"/>
<path d="M105.48 160.85L110.31 160.85L107.90 156.93Z"/>
<path d="M106.75 161.20L111.58 161.20L109.16 157.27Z"/>
<path d="M108.02 161.52L112.85 161.52L110.44 157.59Z"/>
<path d="M109.30 161.82L114.13 161.82L111.71 157.89Z"/>
<path d="M110.58 162.08L115.41 162.08L112.99 158.16Z"/>
<path d="M111.86 162.31L116.69 162.31L114.27 158.38Z"/>
<path d="M113.14 162.49L117.97 162.49L115.55 158.56Z"/>
<path d="M114.42 162.61L119.25 162.61L116.84 158.68Z"/>
<path d="M115.70 162.67L120.53 162.67L118.12 158.75Z"/>
<path d="M116.99 162.72L121.82 162.72L119.40 158.80Z"/>
<path d="M118.27 162.77L123.10 162.77L120.69 158.84Z"/>
<path d="M119.56 162.81L124.39 162.81L121.97 158.89Z"/>
<path d="M120.85 162.86L125.68 162.86L123.26 158.93Z"/>
<path d="M122.14 162.90L126.97 162.90L124.55 158.97Z"/>
<path d="M123.43 162.93L128.26 162.93L125.84 159.01Z"/>
<path d="M124.72 162.97L129.55 162.97L127.14 159.04Z"/>
<path d="M126.02 163.00L130.85 163.00L128.43 159.07Z"/>
<path d="M127.31 163.03L132.14 163.03L129.73 159.11Z"/>
<path d="M128.61 163.06L133.44 163.06L131.02 159.14Z"/>
<path d="M129.91 163.09L134.74 163.09L132.32 159.17Z"/>
<path d="M131.21 163.12L136.04 163.12L133.62 159.19Z"/>
<path d="M132.51 163.15L137.34 163.15L134.92 159.22Z"/>
<path d="M133.81 163.17L138.64 163.17L136.22 159.24Z"/>
<path d="M135.11 163.19L139.94 163.19L137.52 159.26Z"/>
<path d="M136.41 163.21L141.24 163.21L138.83 159.29Z"/>
<path d="M137.71 163.23L142.54 163.23L140.13 159.31Z"/>
<path d="M139.02 163.25L143.85 163.25L141.43 159.33Z"/>
<path d="M140.32 163.27L145.15 163.27L142.74 159.34Z"/>
<path d="M141.63 163.29L146.46 163.29L144.04 159.36Z"/>
<path d="M142.93 163.31L147.76 163.31L145.35 159.38Z"/>
<path d="M144.24 163.32L149.07 163.32L146.65 159.39Z"/>
<path d="M145.54 163.34L150.37 163.34L147.96 159.41Z"/>
<path d="M146.85 163.35L151.68 163.35L149.26 159.42Z"/>
<path d="M148.15 163.37L152.98 163.37L150.57 159.44Z"/>
<path d="M149.46 163.38L154.29 163.38L151.87 159.45Z"/>
<path d="M150.76 163.40L155.59 163.40L153.18 159.47Z"/>
<path d="M152.07 163.41L156.90 163.41L154.48 159.48Z"/>
<path d="M153.37 163.42L158.20 163.42L155.79 159.50Z"/>
<path d="M154.68 163.44L159.51 163.44L157.09 159.51Z"/>
<path d="M155.98 163.45L160.81 163.45L158.40 159.52Z"/>
<path d="M157.29 163.47L162.12 163.47L159.70 159.54Z"/>
<path d="M158.59 163.48L163.42 163.48L161.01 159.55Z"/>
<path d="M159.89 163.49L164.72 163.49L162.31 159.57Z"/>
<path d="M161.20 163.51L166.03 163.51L163.61 159.58Z"/>
<path d="M162.50 163.53L167.33 163.53L164.91 159.60Z"/>
<path d="M163.80 163.54L168.63 163.54L166.22 159.61Z"/>
<path d="M165.10 163.56L169.93 163.56L167.52 159.63Z"/>
<path d="M166.40 163.58L171.23 163.58L168.82 159.65Z"/>
<path d="M167.70 163.59L172.53 163.59L170.11 159.67Z"/>
<path d="M169.00 163.61L173.83 163.61L171.41 159.68Z"/>
<path d="M170.30 163.63L175.13 163.63L172.71 159.70Z"/>
<path d="M171.60 163.64L176.43 163.64L174.01 159.71Z"/>
<path d="M172.90 163.66L177.73 163.66L175.31 159.73Z"/>
<path d="M174.20 163.67L179.03 163.67L176.61 159.75Z"/>
<path d="M175.50 163.69L180.33 163.69L177.91 159.76Z"/>
<path d="M176.80 163.70L181.63 163.70L179.21 159.77Z"/>
<path d="M178.10 163.72L182.93 163.72L180.51 159.79Z"/>
<path d="M179.40 163.73L184.23 163.73L181.81 159.80Z"/>
<path d="M180.70 163.74L185.53 163.74L183.11 159.82Z"/>
<path d="M182.00 163.76L186.83 163.76L184.41 159.83Z"/>
<path d="M183.30 163.77L188.13 163.77L185.71 159.84Z"/>
<path d="M184.60 163.78L189.43 163.78L187.01 159.86Z"/>
<path d="M185.90 163.80L190.73 163.80L188.31 159.87Z"/>
<path d="M187.20 163.81L192.03 163.81L189.61 159.88Z"/>
<path d="M188.50 163.82L193.33 163.82L190.91 159.90Z"/>
<path d="M189.80 163.84L194.63 163.84L192.21 159.91Z"/>
<path d="M191.10 163.85L195.93 163.85L193.51 159.92Z"/>
<path d="M192.40 163.86L197.23 163.86L194.81 159.93Z"/>
<path d="M193.70 163.87L198.53 163.87L196.11 159.95Z"/>
<path d="M195.00 163.89L199.83 163.89L197.41 159.96Z"/>
<path d="M196.30 163.90L201.13 163.90L198.71 159.97Z"/>
<path d="M197.60 163.91L202.43 163.91L200.01 159.98Z"/>
<path d="M198.90 163.92L203.73 163.92L201.31 160.00Z"/>
<path d="M200.20 163.94L205.03 163.94L202.61 160.01Z"/>
<path d="M201.50 163.95L206.33 163.95L203.91 160.02Z"/>
<path d="M202.80 163.96L207.63 163.96L205.21 160.03Z"/>
<path d="M204.10 163.97L208.93 163.97L206.51 160.05Z"/>
<path d="M205.40 163.99L210.23 163.99L207.81 160.06Z"/>
<path d="M206.70 164.00L211.53 164.00L209.11 160.07Z"/>
<path d="M208.00 164.01L212.83 164.01L210.41 160.09Z"/>
<path d="M209.30 164.03L214.13 164.03L211.71 160.10Z"/>
<path d="M210.60 164.04L215.43 164.04L213.01 160.11Z"/>
<path d="M211.90 164.06L216.73 164.06L214.31 160.13Z"/>
<path d="M213.20 164.07L218.03 164.07L215.61 160.14Z"/>
<path d="M214.50 164.08L219.33 164.08L216.91 160.16Z"/>
<path d="M215.80 164.10L220.63 164.10L218.21 160.17Z"/>
<path d="M217.10 164.12L221.93 164.12L219.51 160.19Z"/>
<path d="M218.40 164.13L223.23 164.13L220.81 160.20Z"/>
<path d="M219.70 164.15L224.53 164.15L222.11 160.22Z"/>
<path d="M221.00 164.16L225.83 164.16L223.41 160.24Z"/>
<path d="M222.30 164.18L227.13 164.18L224.71 160.25Z"/>
<path d="M223.60 164.20L228.43 164.20L226.01 160.27Z"/>
<path d="M224.90 164.21L229.73 164.21L227.31 160.29Z"/>
<path d="M226.20 164.23L231.03 164.23L228.61 160.30Z"/>
<path d="M227.50 164.25L232.33 164.25L229.91 160.32Z"/>
<path d="M228.80 164.27L233.63 164.27L231.21 160.34Z"/>
<path d="M230.10 164.28L234.93 164.28L232.51 160.36Z"/>
<path d="M231.40 164.30L236.23 164.30L233.81 160.37Z"/>
<path d="M232.70 164.32L237.53 164.32L235.11 160.39Z"/>
<path d="M234.00 164.34L238.83 164.34L236.41 160.41Z"/>
<path d="M235.30 164.36L240.13 164.36L237.71 160.43Z"/>
<path d="M236.60 164.38L241.43 164.38L239.01 160.45Z"/>
<path d="M237.90 164.40L242.73 164.40L240.31 160.47Z"/>
<path d="M239.20 164.41L244.03 164.41L241.61 160.49Z"/>
<path d="M240.50 164.43L245.33 164.43L242.91 160.51Z"/>
<path d="M241.79 164.45L246.62 164.45L244.21 160.53Z"/>
<path d="M243.09 164.47L247.92 164.47L245.51 160.55Z"/>
<path d="M244.39 164.49L249.22 164.49L246.81 160.56Z"/>
<path d="M245.69 164.51L250.52 164.51L248.11 160.58Z"/>
<path d="M246.99 164.53L251.82 164.53L249.41 160.60Z"/>
<path d="M248.29 164.55L253.12 164.55L250.71 160.63Z"/>
<path d="M249.59 164.57L254.42 164.57L252.01 160.65Z"/>
<path d="M250.89 164.59L255.72 164.59L253.31 160.67Z"/>
<path d="M252.19 164.61L257.02 164.61L254.61 160.69Z"/>
<path d="M253.49 164.64L258.32 164.64L255.91 160.71Z"/>
<path d="M254.79 164.66L259.62 164.66L257.21 160.73Z"/>
<path d="M256.09 164.68L260.92 164.68L258.51 160.75Z"/>
<path d="M257.39 164.70L262.22 164.70L259.81 160.77Z"/>
<path d="M258.69 164.72L263.52 164.72L261.11 160.79Z"/>
<path d="M259.99 164.74L264.82 164.74L262.41 160.81Z"/>
<path d="M261.29 164.76L266.12 164.76L263.71 160.84Z"/>
<path d="M262.59 164.79L267.42 164.79L265.01 160.86Z"/>
<path d="M263.89 164.81L268.72 164.81L266.31 160.88Z"/>
<path d="M265.19 164.83L270.02 164.83L267.61 160.90Z"/>
<path d="M266.49 164.85L271.32 164.85L268.91 160.92Z"/>
<path d="M267.79 164.87L272.62 164.87L270.21 160.95Z"/>
<path d="M269.09 164.90L273.92 164.90L271.51 160.97Z"/>
<path d="M270.39 164.92L275.22 164.92L272.81 160.99Z"/>
<path d="M271.69 164.94L276.52 164.94L274.11 161.01Z"/>
</g>
<path d="M53.5 29.5L53.5 30.6L53.5 31.7L53.5 32.7L53.5 33.8L53.5 34.9L53.5 36.0L53.6 37.1L53.6 38.1L53.6 39.2L53.6 40.3L53.6 41.4L53.6 42.5L53.6 43.6L53.6 44.6L53.6 45.7L53.6 46.8L53.6 47.9L53.7 49.0L53.7 50.0L53.7 51.1L53.7 52.2L53.7 53.3L53.7 54.4L53.7 55.4L53.7 56.5L53.8 57.6L53.8 58.7L53.8 59.8L53.8 60.9L53.8 61.9L53.9 63.0L53.9 64.1L54.0 65.2L54.0 66.3L54.1 67.3L54.1 68.4L54.1 69.5L54.2 70.6L54.2 71.7L54.3 72.7L54.3 73.8L54.4 74.9L54.5 76.0L54.6 77.0L54.8 78.1L54.9 79.2L55.0 80.3L55.2 81.3L55.3 82.4L55.4 83.5L55.6 84.6L55.7 85.6L55.8 86.7L56.0 87.8L56.1 88.8L56.2 89.9L56.3 91.0L56.4 92.1L56.4 93.2L56.5 94.2L56.6 95.3L56.6 96.4L56.7 97.5L56.8 98.6L56.9 99.6L57.0 100.7L57.1 101.8L57.3 102.9L57.4 103.9L57.5 105.0L57.7 106.1L57.8 107.2L58.0 108.2L58.1 109.3L58.3 110.3L58.5 111.4L58.8 112.5L59.0 113.5L59.3 114.6L59.6 115.6L59.8 116.7L60.1 117.7L60.5 118.7L60.8 119.8L61.1 120.8L61.5 121.8L61.9 122.8L62.3 123.8L62.8 124.8L63.2 125.8L63.7 126.8L64.1 127.7L64.6 128.7L65.1 129.6L65.7 130.6L66.2 131.5L66.7 132.5L67.2 133.4L67.7 134.4L68.2 135.4L68.7 136.4L69.2 137.4L69.7 138.3L70.3 139.2L70.9 140.1L71.5 140.9L72.2 141.7L73.0 142.5L73.8 143.2L74.6 144.0L75.5 144.7L76.4 145.4L77.3 146.0L78.2 146.6L79.1 147.2L80.0 147.7L80.9 148.1L81.9 148.6L82.9 149.0L83.9 149.4L84.9 149.8L86.0 150.1L87.0 150.5L88.0 150.8L89.1 151.2L90.1 151.5L91.1 151.9L92.2 152.2L93.2 152.5L94.3 152.8L95.3 153.1L96.4 153.4L97.4 153.7L98.4 154.0L99.4 154.4L100.4 154.8L101.4 155.2L102.3 155.7L103.3 156.3L104.2 157.0L105.1 157.6L106.0 158.3L106.9 158.9L107.8 159.4L108.7 159.9L109.7 160.2L110.7 160.5L111.7 160.8L112.8 161.1L113.8 161.4L114.9 161.6L116.0 161.8L117.0 162.0L118.1 162.2L119.2 162.4L120.3 162.6L121.4 162.7L122.4 162.9L123.5 163.0L124.6 163.1L125.6 163.3L126.7 163.4L127.8 163.5L128.9 163.6L129.9 163.7L131.0 163.8L132.1 163.9L133.2 164.0L134.3 164.1L135.3 164.2L136.4 164.3L137.5 164.3L138.6 164.4L139.7 164.5L140.7 164.6L141.8 164.7L142.9 164.8L144.0 164.9L145.0 165.0L146.1 165.0L147.2 165.1L148.3 165.2L149.4 165.3L150.4 165.4L151.5 165.4L152.6 165.5L153.7 165.6L154.8 165.6L155.8 165.7L156.9 165.8L158.0 165.9L159.1 165.9L160.1 166.0L161.2 166.1L162.3 166.2L163.4 166.3L164.5 166.3L165.5 166.4L166.6 166.5L167.7 166.6L168.8 166.7L169.8 166.8L170.9 166.9L172.0 167.1L173.1 167.2L174.1 167.3L175.2 167.4L176.3 167.5L177.4 167.7L178.4 167.8L179.5 167.9L180.6 168.0L181.7 168.2L182.7 168.3L183.8 168.4L184.9 168.6L186.0 168.7L187.0 168.9L188.1 169.0L189.2 169.2L190.2 169.3L191.3 169.4L192.4 169.6L193.5 169.7L194.5 169.8L195.6 169.9L196.7 170.0L197.8 170.1L198.8 170.2L199.9 170.2L201.0 170.3L202.1 170.3L203.2 170.4L204.2 170.4L205.3 170.5L206.4 170.5L207.5 170.6L208.6 170.6L209.6 170.7L210.7 170.7L211.8 170.8L212.9 170.8L214.0 170.8L215.0 170.9L216.1 170.9L217.2 170.9L218.3 171.0L219.4 171.0L220.4 171.0L221.5 171.1L222.6 171.1L223.7 171.1L224.8 171.1L225.9 171.2L226.9 171.2L228.0 171.2L229.1 171.2L230.2 171.2L231.3 171.3L232.3 171.3L233.4 171.3L234.5 171.3L235.6 171.4L236.7 171.4L237.7 171.4L238.8 171.4L239.9 171.4L241.0 171.5L242.1 171.5L243.1 171.5L244.2 171.5L245.3 171.5L246.4 171.5L247.5 171.6L248.5 171.6L249.6 171.6L250.7 171.6L251.8 171.6L252.9 171.6L254.0 171.7L255.0 171.7L256.1 171.7L257.2 171.7L258.3 171.7L259.4 171.7L260.4 171.7L261.5 171.7L262.6 171.7L263.7 171.8L264.8 171.8L265.8 171.8L266.9 171.8L268.0 171.8L269.1 171.8L270.2 171.8L271.3 171.8L272.3 171.8L273.4 171.8L274.5 171.8" fill="none" stroke="#3cfa1e" stroke-width="0.75"/>
<path d="M56.2 90.1L56.2 90.4L56.3 90.7L56.3 91.1L56.3 91.4L56.3 91.8L56.4 92.1L56.4 92.5L56.4 92.8L56.4 93.1L56.5 93.5L56.5 93.8L56.5 94.2L56.5 94.5L56.5 94.8L56.6 95.2L56.6 95.5L56.6 95.9L56.6 96.2L56.7 96.5L56.7 96.9L56.7 97.2L56.7 97.6L56.8 97.9L56.8 98.2L56.8 98.6L56.9 98.9L56.9 99.3L56.9 99.6L57.0 99.9L57.0 100.3L57.0 100.6L57.1 101.0L57.1 101.3L57.1 101.6L57.2 102.0L57.2 102.3L57.2 102.7L57.3 103.0L57.3 103.3L57.4 103.7L57.4 104.0L57.4 104.4L57.5 104.7L57.5 105.0L57.6 105.4L57.6 105.7L57.7 106.1L57.7 106.4L57.8 106.7L57.8 107.1L57.9 107.4L57.9 107.8L58.0 108.1L58.0 108.4L58.1 108.8L58.1 109.1L58.2 109.4L58.2 109.8L58.3 110.1" fill="none" stroke="#3cfa1e" stroke-width="1.26" stroke-linecap="round" stroke-linejoin="round"/>
<path d="M56.9 99.1L56.9 99.3L56.9 99.5L56.9 99.7L56.9 99.8L57.0 100.0L57.0 100.2L57.0 100.4L57.0 100.6L57.0 100.8L57.1 101.0L57.1 101.2L57.1 101.3L57.1 101.5L57.1 101.7L57.2 101.9L57.2 102.1L57.2 102.3L57.2 102.5L57.2 102.7L57.3 102.8L57.3 103.0L57.3 103.2L57.3 103.4L57.3 103.6L57.4 103.8L57.4 104.0L57.4 104.2L57.4 104.3L57.5 104.5L57.5 104.7L57.5 104.9L57.5 105.1L57.6 105.3L57.6 105.5L57.6 105.7L57.6 105.8L57.7 106.0L57.7 106.2L57.7 106.4L57.7 106.6L57.8 106.8L57.8 107.0L57.8 107.1L57.8 107.3L57.9 107.5L57.9 107.7L57.9 107.9L58.0 108.1L58.0 108.3L58.0 108.4L58.0 108.6L58.1 108.8L58.1 109.0L58.1 109.2L58.2 109.4L58.2 109.6L58.2 109.7L58.3 109.9L58.3 110.1" fill="none" stroke="#3cfa1e" stroke-width="2.60" stroke-linecap="round" stroke-linejoin="round"/>
<path d="M58.0 108.1L58.1 108.7L58.1 109.3L58.3 109.9L58.4 110.5L58.5 111.1L58.6 111.7L58.7 112.3L58.9 112.9L59.0 113.5L59.2 114.1L59.3 114.7L59.5 115.3L59.6 115.9L59.8 116.5L60.0 117.1L60.1 117.7L60.3 118.2L60.5 118.8L60.7 119.4L60.9 120.0L61.1 120.6L61.3 121.1L61.5 121.7L61.7 122.3L61.9 122.8L62.2 123.4L62.4 124.0L62.7 124.5L62.9 125.1L63.2 125.7L63.4 126.2L63.7 126.8L63.9 127.3L64.2 127.9L64.5 128.4L64.8 129.0L65.1 129.5L65.4 130.0L65.7 130.6L66.0 131.1L66.3 131.7L66.6 132.2L66.8 132.7L67.1 133.3L67.4 133.8L67.7 134.4L68.0 134.9L68.3 135.5L68.5 136.0L68.8 136.6L69.1 137.2L69.4 137.7L69.7 138.2L70.0 138.8L70.3 139.3L70.7 139.8L71.0 140.3L71.4 140.7L71.8 141.2L72.1 141.6L72.6 142.0L73.0 142.5L73.4 142.9L73.9 143.3L74.4 143.8L74.8 144.2L75.3 144.6L75.8 145.0L76.3 145.3L76.8 145.7L77.4 146.1L77.9 146.4L78.4 146.7L78.9 147.1L79.4 147.4L80.0 147.6L80.5 147.9L81.0 148.2L81.6 148.4L82.1 148.7L82.7 148.9L83.2 149.1L83.8 149.4L84.4 149.6L85.0 149.8L85.6 150.0L86.2 150.2L86.7 150.4L87.3 150.6L87.9 150.8L88.5 151.0L89.1 151.2L89.7 151.4L90.3 151.6L90.8 151.8L91.4 152.0L92.0 152.2L92.6 152.3L93.2 152.5L93.8 152.7L94.4 152.8L95.0 153.0L95.6 153.2L96.2 153.3L96.8 153.5L97.4 153.7L97.9 153.9L98.5 154.0L99.1 154.2L99.7 154.5L100.2 154.7L100.8 154.9L101.3 155.1L101.9 155.4L102.4 155.7L102.9 156.1L103.4 156.4L103.9 156.8L104.5 157.2L105.0 157.5L105.5 157.9L106.0 158.3L106.5 158.6L107.0 159.0L107.5 159.3L108.1 159.6L108.6 159.8L109.1 160.0L109.7 160.2L110.3 160.4L110.8 160.6L111.4 160.7L112.0 160.9L112.6 161.1L113.2 161.2L113.8 161.3L114.4 161.5L115.0 161.6L115.6 161.7L116.2 161.9L116.8 162.0L117.4 162.1L118.0 162.2L118.7 162.3L119.3 162.4L119.9 162.5L120.5 162.6L121.1 162.7L121.7 162.8L122.3 162.8L122.9 162.9L123.5 163.0L124.1 163.1L124.7 163.1L125.3 163.2L126.0 163.3L126.6 163.4L127.2 163.4L127.8 163.5L128.4 163.5L129.0 163.6L129.6 163.7L130.2 163.7L130.8 163.8L131.4 163.8L132.0 163.9L132.7 163.9L133.3 164.0L133.9 164.1L134.5 164.1L135.1 164.2L135.7 164.2L136.3 164.3L136.9 164.3L137.6 164.4L138.2 164.4L138.8 164.4L139.4 164.5L140.0 164.5L140.6 164.6L141.2 164.6L141.8 164.7L142.4 164.7L143.1 164.8L143.7 164.8L144.3 164.9L144.9 164.9L145.5 165.0L146.1 165.0L146.7 165.1L147.3 165.1L147.9 165.2L148.6 165.2L149.2 165.3L149.8 165.3L150.4 165.3L151.0 165.4L151.6 165.4L152.2 165.5L152.8 165.5L153.4 165.6L154.1 165.6L154.7 165.6L155.3 165.7L155.9 165.7L156.5 165.8L157.1 165.8L157.7 165.8L158.3 165.9L158.9 165.9L159.6 166.0L160.2 166.0L160.8 166.1L161.4 166.1L162.0 166.2L162.6 166.2L163.2 166.3L163.8 166.3L164.4 166.3L165.1 166.4L165.7 166.4L166.3 166.5L166.9 166.6L167.5 166.6L168.1 166.7L168.7 166.7L169.3 166.8L169.9 166.8L170.5 166.9L171.2 167.0L171.8 167.0L172.4 167.1L173.0 167.2L173.6 167.2L174.2 167.3L174.8 167.4L175.4 167.4L176.0 167.5L176.6 167.6L177.2 167.7L177.9 167.7L178.5 167.8L179.1 167.9L179.7 167.9L180.3 168.0L180.9 168.1L181.5 168.1L182.1 168.2L182.7 168.3L183.3 168.4L183.9 168.4L184.5 168.5L185.2 168.6L185.8 168.7L186.4 168.8L187.0 168.9L187.6 168.9L188.2 169.0L188.8 169.1L189.4 169.2L190.0 169.3L190.6 169.4L191.2 169.4L191.8 169.5L192.5 169.6L193.1 169.7L193.7 169.7L194.3 169.8L194.9 169.8L195.5 169.9L196.1 170.0L196.7 170.0L197.3 170.1L197.9 170.1L198.5 170.1L199.2 170.2L199.8 170.2L200.4 170.2L201.0 170.3L201.6 170.3L202.2 170.3L202.8 170.4L203.4 170.4L204.0 170.4L204.7 170.5L205.3 170.5L205.9 170.5L206.5 170.6L207.1 170.6L207.7 170.6L208.3 170.6L208.9 170.7L209.6 170.7L210.2 170.7L210.8 170.7L211.4 170.8L212.0 170.8L212.6 170.8L213.2 170.8L213.8 170.8L214.5 170.9L215.1 170.9L215.7 170.9L216.3 170.9L216.9 170.9L217.5 171.0L218.1 171.0L218.7 171.0L219.4 171.0L220.0 171.0L220.6 171.0L221.2 171.0L221.8 171.1L222.4 171.1L223.0 171.1L223.6 171.1L224.3 171.1L224.9 171.1L225.5 171.1L226.1 171.2L226.7 171.2L227.3 171.2L227.9 171.2L228.5 171.2L229.2 171.2L229.8 171.2L230.4 171.2L231.0 171.3L231.6 171.3L232.2 171.3L232.8 171.3L233.4 171.3L234.1 171.3L234.7 171.3L235.3 171.3L235.9 171.4L236.5 171.4L237.1 171.4L237.7 171.4L238.3 171.4L239.0 171.4L239.6 171.4L240.2 171.4L240.8 171.5L241.4 171.5L242.0 171.5L242.6 171.5L243.2 171.5L243.9 171.5L244.5 171.5L245.1 171.5L245.7 171.5L246.3 171.5L246.9 171.6L247.5 171.6L248.2 171.6L248.8 171.6L249.4 171.6L250.0 171.6L250.6 171.6L251.2 171.6L251.8 171.6L252.4 171.6L253.1 171.6L253.7 171.7L254.3 171.7L254.9 171.7L255.5 171.7L256.1 171.7L256.7 171.7L257.3 171.7L258.0 171.7L258.6 171.7L259.2 171.7L259.8 171.7L260.4 171.7L261.0 171.7L261.6 171.7L262.2 171.7L262.9 171.8L263.5 171.8L264.1 171.8L264.7 171.8L265.3 171.8L265.9 171.8L266.5 171.8L267.1 171.8L267.8 171.8L268.4 171.8L269.0 171.8L269.6 171.8L270.2 171.8L270.8 171.8L271.4 171.8L272.0 171.8L272.7 171.8L273.3 171.8L273.9 171.8L274.5 171.8" fill="none" stroke="#3cfa1e" stroke-width="4.20" stroke-linecap="round" stroke-linejoin="round"/>
<g fill="none" stroke="#3cfa1e" stroke-width="0.65">
<path d="M51.09 28.04L55.91 28.04L53.50 31.97Z"/>
<path d="M51.19 41.54L56.02 41.54L53.60 45.47Z"/>
<path d="M51.29 51.44L56.12 51.44L53.70 55.37Z"/>
<path d="M51.33 55.34L56.16 55.34L53.74 59.27Z"/>
<path d="M51.38 59.24L56.21 59.24L53.80 63.17Z"/>
<path d="M51.51 63.14L56.34 63.14L53.93 67.07Z"/>
<path d="M51.69 67.03L56.52 67.03L54.10 70.96Z"/>
<path d="M51.85 70.93L56.68 70.93L54.27 74.86Z"/>
<path d="M52.12 74.82L56.95 74.82L54.53 78.75Z"/>
<path d="M52.60 78.69L57.43 78.69L55.02 82.62Z"/>
<path d="M53.09 82.56L57.92 82.56L55.51 86.49Z"/>
<path d="M53.57 86.43L58.40 86.43L55.99 90.36Z"/>
<path d="M53.93 90.31L58.76 90.31L56.34 94.24Z"/>
<path d="M54.09 92.71L58.92 92.71L56.50 96.64Z"/>
<path d="M54.25 95.11L59.08 95.11L56.66 99.03Z"/>
<path d="M54.44 97.50L59.27 97.50L56.86 101.42Z"/>
<path d="M54.68 99.89L59.51 99.89L57.10 103.82Z"/>
<path d="M54.95 102.28L59.78 102.28L57.36 106.21Z"/>
<path d="M55.26 104.66L60.09 104.66L57.67 108.59Z"/>
<path d="M55.60 107.03L60.43 107.03L58.02 110.96Z"/>
<path d="M55.81 108.31L60.64 108.31L58.23 112.24Z"/>
<path d="M56.05 109.58L60.88 109.58L58.46 113.51Z"/>
<path d="M56.32 110.86L61.15 110.86L58.73 114.79Z"/>
<path d="M56.61 112.13L61.44 112.13L59.02 116.06Z"/>
<path d="M56.93 113.39L61.76 113.39L59.34 117.32Z"/>
<path d="M57.27 114.65L62.10 114.65L59.69 118.58Z"/>
<path d="M57.63 115.91L62.46 115.91L60.05 119.83Z"/>
<path d="M58.01 117.15L62.84 117.15L60.42 121.08Z"/>
<path d="M58.40 118.38L63.23 118.38L60.81 122.31Z"/>
<path d="M58.82 119.61L63.65 119.61L61.24 123.53Z"/>
<path d="M59.29 120.82L64.12 120.82L61.70 124.75Z"/>
<path d="M59.79 122.03L64.62 122.03L62.20 125.95Z"/>
<path d="M60.31 123.22L65.14 123.22L62.72 127.15Z"/>
<path d="M60.85 124.41L65.68 124.41L63.26 128.34Z"/>
<path d="M61.39 125.58L66.22 125.58L63.81 129.51Z"/>
<path d="M61.97 126.75L66.80 126.75L64.39 130.67Z"/>
<path d="M62.58 127.90L67.41 127.90L64.99 131.82Z"/>
<path d="M63.20 129.04L68.03 129.04L65.62 132.97Z"/>
<path d="M63.83 130.18L68.66 130.18L66.25 134.11Z"/>
<path d="M64.46 131.32L69.29 131.32L66.88 135.24Z"/>
<path d="M65.08 132.47L69.91 132.47L67.49 136.40Z"/>
<path d="M65.67 133.66L70.50 133.66L68.08 137.58Z"/>
<path d="M66.26 134.85L71.09 134.85L68.68 138.77Z"/>
<path d="M66.87 136.02L71.70 136.02L69.28 139.95Z"/>
<path d="M67.50 137.16L72.33 137.16L69.92 141.08Z"/>
<path d="M68.19 138.23L73.02 138.23L70.60 142.16Z"/>
<path d="M68.93 139.23L73.76 139.23L71.35 143.15Z"/>
<path d="M69.76 140.18L74.59 140.18L72.18 144.11Z"/>
<path d="M70.66 141.11L75.49 141.11L73.08 145.04Z"/>
<path d="M71.63 142.02L76.46 142.02L74.04 145.95Z"/>
<path d="M72.64 142.89L77.47 142.89L75.06 146.82Z"/>
<path d="M73.70 143.72L78.53 143.72L76.11 147.65Z"/>
<path d="M74.78 144.50L79.61 144.50L77.19 148.42Z"/>
<path d="M75.88 145.22L80.71 145.22L78.29 149.14Z"/>
<path d="M76.98 145.87L81.81 145.87L79.39 149.80Z"/>
<path d="M78.09 146.46L82.92 146.46L80.50 150.39Z"/>
<path d="M79.24 147.01L84.07 147.01L81.65 150.93Z"/>
<path d="M80.43 147.51L85.26 147.51L82.84 151.44Z"/>
<path d="M81.64 147.99L86.47 147.99L84.06 151.91Z"/>
<path d="M82.88 148.44L87.71 148.44L85.29 152.36Z"/>
<path d="M84.12 148.87L88.95 148.87L86.54 152.80Z"/>
<path d="M85.38 149.29L90.21 149.29L87.79 153.22Z"/>
<path d="M86.62 149.71L91.45 149.71L89.04 153.64Z"/>
<path d="M87.86 150.13L92.69 150.13L90.27 154.06Z"/>
<path d="M89.09 150.54L93.92 150.54L91.51 154.47Z"/>
<path d="M90.35 150.92L95.18 150.92L92.76 154.84Z"/>
<path d="M91.61 151.27L96.44 151.27L94.02 155.20Z"/>
<path d="M92.87 151.63L97.70 151.63L95.29 155.55Z"/>
<path d="M94.13 151.98L98.96 151.98L96.55 155.91Z"/>
<path d="M95.38 152.36L100.21 152.36L97.79 156.28Z"/>
<path d="M96.61 152.76L101.44 152.76L99.02 156.69Z"/>
<path d="M97.81 153.21L102.64 153.21L100.22 157.13Z"/>
<path d="M98.98 153.72L103.81 153.72L101.39 157.65Z"/>
<path d="M100.10 154.36L104.93 154.36L102.52 158.29Z"/>
<path d="M101.20 155.10L106.03 155.10L103.61 159.03Z"/>
<path d="M102.28 155.89L107.11 155.89L104.69 159.81Z"/>
<path d="M103.36 156.67L108.19 156.67L105.77 160.60Z"/>
<path d="M104.44 157.42L109.27 157.42L106.86 161.35Z"/>
<path d="M105.55 158.07L110.38 158.07L107.97 162.00Z"/>
<path d="M106.70 158.58L111.53 158.58L109.12 162.51Z"/>
<path d="M107.90 158.96L112.73 158.96L110.31 162.89Z"/>
<path d="M109.12 159.32L113.95 159.32L111.53 163.25Z"/>
<path d="M110.37 159.65L115.20 159.65L112.78 163.58Z"/>
<path d="M111.64 159.95L116.47 159.95L114.05 163.88Z"/>
<path d="M112.92 160.23L117.75 160.23L115.33 164.16Z"/>
<path d="M114.21 160.48L119.04 160.48L116.63 164.41Z"/>
<path d="M115.51 160.72L120.34 160.72L117.93 164.65Z"/>
<path d="M116.82 160.93L121.65 160.93L119.23 164.86Z"/>
<path d="M118.11 161.13L122.94 161.13L120.53 165.06Z"/>
<path d="M119.40 161.32L124.23 161.32L121.82 165.24Z"/>
<path d="M120.69 161.49L125.52 161.49L123.10 165.42Z"/>
<path d="M121.97 161.65L126.80 161.65L124.39 165.58Z"/>
<path d="M123.26 161.80L128.09 161.80L125.68 165.73Z"/>
<path d="M124.55 161.94L129.38 161.94L126.97 165.87Z"/>
<path d="M125.84 162.08L130.67 162.08L128.26 166.00Z"/>
<path d="M127.14 162.20L131.97 162.20L129.55 166.13Z"/>
<path d="M128.43 162.33L133.26 162.33L130.85 166.25Z"/>
<path d="M129.73 162.44L134.56 162.44L132.14 166.37Z"/>
<path d="M131.03 162.56L135.86 162.56L133.44 166.48Z"/>
<path d="M132.32 162.66L137.15 162.66L134.74 166.59Z"/>
<path d="M133.62 162.77L138.45 162.77L136.04 166.70Z"/>
<path d="M134.92 162.88L139.75 162.88L137.33 166.80Z"/>
<path d="M136.22 162.98L141.05 162.98L138.63 166.91Z"/>
<path d="M137.52 163.08L142.35 163.08L139.93 167.01Z"/>
<path d="M138.81 163.19L143.64 163.19L141.23 167.12Z"/>
<path d="M140.11 163.29L144.94 163.29L142.52 167.22Z"/>
<path d="M141.40 163.40L146.23 163.40L143.82 167.33Z"/>
<path d="M142.70 163.50L147.53 163.50L145.12 167.43Z"/>
<path d="M144.00 163.60L148.83 163.60L146.41 167.53Z"/>
<path d="M145.29 163.70L150.12 163.70L147.71 167.63Z"/>
<path d="M146.59 163.79L151.42 163.79L149.00 167.72Z"/>
<path d="M147.89 163.88L152.72 163.88L150.30 167.81Z"/>
<path d="M149.18 163.97L154.01 163.97L151.60 167.90Z"/>
<path d="M150.48 164.06L155.31 164.06L152.90 167.99Z"/>
<path d="M151.78 164.15L156.61 164.15L154.19 168.08Z"/>
<path d="M153.08 164.24L157.91 164.24L155.49 168.17Z"/>
<path d="M154.37 164.33L159.20 164.33L156.79 168.25Z"/>
<path d="M155.67 164.42L160.50 164.42L158.09 168.34Z"/>
<path d="M156.97 164.51L161.80 164.51L159.38 168.44Z"/>
<path d="M158.26 164.60L163.09 164.60L160.68 168.53Z"/>
<path d="M159.56 164.70L164.39 164.70L161.98 168.62Z"/>
<path d="M160.86 164.80L165.69 164.80L163.27 168.72Z"/>
<path d="M162.15 164.90L166.98 164.90L164.57 168.83Z"/>
<path d="M163.45 165.01L168.28 165.01L165.86 168.94Z"/>
<path d="M164.74 165.12L169.57 165.12L167.16 169.05Z"/>
<path d="M166.04 165.24L170.87 165.24L168.45 169.17Z"/>
<path d="M167.33 165.37L172.16 165.37L169.74 169.29Z"/>
<path d="M168.62 165.50L173.45 165.50L171.04 169.43Z"/>
<path d="M169.91 165.64L174.74 165.64L172.33 169.57Z"/>
<path d="M171.21 165.78L176.04 165.78L173.62 169.71Z"/>
<path d="M172.50 165.93L177.33 165.93L174.91 169.85Z"/>
<path d="M173.79 166.08L178.62 166.08L176.21 170.00Z"/>
<path d="M175.08 166.23L179.91 166.23L177.50 170.15Z"/>
<path d="M176.37 166.38L181.20 166.38L178.79 170.30Z"/>
<path d="M177.67 166.53L182.50 166.53L180.08 170.45Z"/>
<path d="M178.96 166.67L183.79 166.67L181.37 170.60Z"/>
<path d="M180.25 166.83L185.08 166.83L182.66 170.76Z"/>
<path d="M181.54 166.99L186.37 166.99L183.95 170.92Z"/>
<path d="M182.83 167.16L187.66 167.16L185.24 171.09Z"/>
<path d="M184.12 167.34L188.95 167.34L186.53 171.27Z"/>
<path d="M185.41 167.52L190.24 167.52L187.82 171.45Z"/>
<path d="M186.70 167.69L191.53 167.69L189.11 171.62Z"/>
<path d="M187.99 167.87L192.82 167.87L190.40 171.79Z"/>
<path d="M189.28 168.03L194.11 168.03L191.69 171.96Z"/>
<path d="M190.57 168.19L195.40 168.19L192.98 172.11Z"/>
<path d="M191.86 168.33L196.69 168.33L194.28 172.26Z"/>
<path d="M193.15 168.45L197.98 168.45L195.57 172.38Z"/>
<path d="M194.45 168.56L199.28 168.56L196.86 172.49Z"/>
<path d="M195.74 168.65L200.57 168.65L198.16 172.58Z"/>
<path d="M197.04 168.73L201.87 168.73L199.45 172.66Z"/>
<path d="M198.33 168.80L203.16 168.80L200.75 172.73Z"/>
<path d="M199.63 168.87L204.46 168.87L202.04 172.80Z"/>
<path d="M200.93 168.94L205.76 168.94L203.34 172.87Z"/>
<path d="M202.22 169.00L207.05 169.00L204.64 172.93Z"/>
<path d="M203.52 169.07L208.35 169.07L205.94 172.99Z"/>
<path d="M204.82 169.13L209.65 169.13L207.24 173.05Z"/>
<path d="M206.12 169.18L210.95 169.18L208.54 173.11Z"/>
<path d="M207.42 169.23L212.25 169.23L209.83 173.16Z"/>
<path d="M208.72 169.28L213.55 169.28L211.13 173.21Z"/>
<path d="M210.02 169.33L214.85 169.33L212.43 173.26Z"/>
<path d="M211.32 169.38L216.15 169.38L213.74 173.30Z"/>
<path d="M212.62 169.42L217.45 169.42L215.04 173.35Z"/>
<path d="M213.92 169.46L218.75 169.46L216.34 173.39Z"/>
<path d="M215.22 169.50L220.05 169.50L217.64 173.43Z"/>
<path d="M216.52 169.53L221.35 169.53L218.94 173.46Z"/>
<path d="M217.82 169.57L222.65 169.57L220.24 173.50Z"/>
<path d="M219.12 169.60L223.95 169.60L221.54 173.53Z"/>
<path d="M220.42 169.63L225.25 169.63L222.84 173.56Z"/>
<path d="M221.72 169.66L226.55 169.66L224.14 173.59Z"/>
<path d="M223.02 169.69L227.85 169.69L225.44 173.61Z"/>
<path d="M224.32 169.71L229.15 169.71L226.73 173.64Z"/>
<path d="M225.62 169.74L230.45 169.74L228.03 173.67Z"/>
<path d="M226.92 169.77L231.75 169.77L229.33 173.70Z"/>
<path d="M228.22 169.79L233.05 169.79L230.63 173.72Z"/>
<path d="M229.52 169.82L234.35 169.82L231.93 173.75Z"/>
<path d="M230.82 169.85L235.65 169.85L233.23 173.78Z"/>
<path d="M232.12 169.87L236.95 169.87L234.53 173.80Z"/>
<path d="M233.42 169.90L238.25 169.90L235.83 173.83Z"/>
<path d="M234.72 169.92L239.55 169.92L237.13 173.85Z"/>
<path d="M236.02 169.95L240.85 169.95L238.43 173.88Z"/>
<path d="M237.32 169.97L242.15 169.97L239.73 173.90Z"/>
<path d="M238.61 170.00L243.44 170.00L241.03 173.92Z"/>
<path d="M239.91 170.02L244.74 170.02L242.33 173.95Z"/>
<path d="M241.21 170.04L246.04 170.04L243.63 173.97Z"/>
<path d="M242.51 170.06L247.34 170.06L244.93 173.99Z"/>
<path d="M243.81 170.09L248.64 170.09L246.23 174.01Z"/>
<path d="M245.11 170.11L249.94 170.11L247.53 174.03Z"/>
<path d="M246.41 170.13L251.24 170.13L248.83 174.06Z"/>
<path d="M247.71 170.15L252.54 170.15L250.13 174.07Z"/>
<path d="M249.01 170.17L253.84 170.17L251.43 174.09Z"/>
<path d="M250.31 170.18L255.14 170.18L252.73 174.11Z"/>
<path d="M251.61 170.20L256.44 170.20L254.03 174.13Z"/>
<path d="M252.91 170.22L257.74 170.22L255.33 174.14Z"/>
<path d="M254.21 170.23L259.04 170.23L256.63 174.16Z"/>
<path d="M255.51 170.25L260.34 170.25L257.93 174.17Z"/>
<path d="M256.81 170.26L261.64 170.26L259.23 174.19Z"/>
<path d="M258.11 170.27L262.94 170.27L260.53 174.20Z"/>
<path d="M259.41 170.28L264.24 170.28L261.83 174.21Z"/>
<path d="M260.71 170.30L265.54 170.30L263.13 174.22Z"/>
<path d="M262.01 170.31L266.84 170.31L264.43 174.23Z"/>
<path d="M263.31 170.31L268.14 170.31L265.73 174.24Z"/>
<path d="M264.61 170.32L269.44 170.32L267.03 174.25Z"/>
<path d="M265.91 170.33L270.74 170.33L268.33 174.26Z"/>
<path d="M267.21 170.33L272.04 170.33L269.63 174.26Z"/>
<path d="M268.52 170.34L273.35 170.34L270.93 174.26Z"/>
<path d="M269.82 170.34L274.65 170.34L272.23 174.27Z"/>
<path d="M271.12 170.34L275.95 170.34L273.53 174.27Z"/>
</g>
<rect x="152.1" y="27.2" width="111.4" height="39.599999999999994" fill="#fff" stroke="#000" stroke-width="1.15"/>
<path d="M159 34.6H191.7" stroke="#0a32fa" stroke-width="0.7"/>
<g fill="none" stroke="#0a32fa" stroke-width="0.7"><circle cx="175.30" cy="34.60" r="3.35"/></g>
<text transform="translate(197.8 38.60) scale(1 1)" font-size="10.0">Recompute</text>
<path d="M159 47.1H191.7" stroke="#aa28fa" stroke-width="0.7"/>
<g fill="none" stroke="#aa28fa" stroke-width="0.7"><path d="M171.45 49.43L179.15 49.43L175.30 43.16Z"/></g>
<text transform="translate(197.8 51.10) scale(1 1)" font-size="10.0">Warm−restart</text>
<path d="M159 59.6H191.7" stroke="#3cfa1e" stroke-width="0.7"/>
<g fill="none" stroke="#3cfa1e" stroke-width="0.7"><path d="M171.45 57.27L179.15 57.27L175.30 63.54Z"/></g>
<text transform="translate(197.8 63.60) scale(1 1)" font-size="10.0">Our method</text>
<text transform="translate(10.2 93.8) rotate(-90)" font-size="11.65" text-anchor="middle">Relative error</text>
<text x="177.2" y="208.3" font-size="11.65" text-anchor="middle">Execution time</text>
<text x="170.3" y="227.8" font-size="16" font-weight="bold" style="font-family:'Liberation Serif',serif;stroke-width:0.1px" text-anchor="middle">(a)</text>
<rect x="332.9" y="18.6" width="221.80000000000007" height="162.70000000000002" fill="none" stroke="#000" stroke-width="1.5"/>
<path d="M333.0 181.3v-2.2M333.0 18.6v2.2M369.9 181.3v-2.2M369.9 18.6v2.2M406.8 181.3v-2.2M406.8 18.6v2.2M443.7 181.3v-2.2M443.7 18.6v2.2M480.6 181.3v-2.2M480.6 18.6v2.2M517.5 181.3v-2.2M517.5 18.6v2.2M554.4 181.3v-2.2M554.4 18.6v2.2M332.9 21.8h2.2M554.7 21.8h-2.2M332.9 52.1h2.2M554.7 52.1h-2.2M332.9 82.4h2.2M554.7 82.4h-2.2M332.9 112.7h2.2M554.7 112.7h-2.2M332.9 143h2.2M554.7 143h-2.2M332.9 173.3h2.2M554.7 173.3h-2.2" stroke="#000" stroke-width="1.15" fill="none"/>
<text x="330.50" y="193.30" font-size="9.9" text-anchor="middle">0</text>
<text x="370.70" y="193.30" font-size="9.9" text-anchor="middle">1000</text>
<text x="407.50" y="193.30" font-size="9.9" text-anchor="middle">2000</text>
<text x="444.60" y="193.30" font-size="9.9" text-anchor="middle">3000</text>
<text x="481.60" y="193.30" font-size="9.9" text-anchor="middle">4000</text>
<text x="518.90" y="193.30" font-size="9.9" text-anchor="middle">5000</text>
<text x="556.10" y="193.30" font-size="9.9" text-anchor="middle">6000</text>
<text x="327.5" y="23.900000000000002" font-size="9.9" text-anchor="end">7.5</text>
<text x="327.5" y="54.4" font-size="9.9" text-anchor="end">7.45</text>
<text x="327.5" y="84.89999999999999" font-size="9.9" text-anchor="end">7.4</text>
<text x="327.5" y="115.39999999999999" font-size="9.9" text-anchor="end">7.35</text>
<text x="327.5" y="145.9" font-size="9.9" text-anchor="end">7.3</text>
<text x="327.5" y="176.4" font-size="9.9" text-anchor="end">7.25</text>
<text x="332.8" y="13.7" font-size="9.9">x 10<tspan dx="1.2" dy="-6.5" font-size="7">−3</tspan></text>
<path d="M357.7 19.0L357.9 19.9L358.1 20.8L358.3 21.6L358.4 22.5L358.6 23.4L358.8 24.3L359.0 25.1L359.2 26.0L359.4 26.9L359.6 27.8L359.9 28.6L360.1 29.5L360.3 30.4L360.5 31.2L360.7 32.1L360.9 33.0L361.2 33.8L361.4 34.7L361.6 35.6L361.9 36.4L362.1 37.3L362.3 38.2L362.6 39.0L362.8 39.9L363.1 40.8L363.3 41.6L363.6 42.5L363.8 43.3L364.1 44.2L364.4 45.0L364.6 45.9L364.9 46.8L365.1 47.6L365.4 48.5L365.7 49.3L365.9 50.2L366.2 51.1L366.4 51.9L366.7 52.8L367.0 53.6L367.2 54.5L367.5 55.3L367.8 56.2L368.1 57.0L368.3 57.9L368.6 58.7L368.9 59.6L369.2 60.5L369.5 61.3L369.7 62.2L370.0 63.0L370.3 63.9L370.6 64.7L370.9 65.5L371.3 66.4L371.6 67.2L371.9 68.0L372.3 68.8L372.7 69.6L373.1 70.5L373.5 71.3L373.9 72.1L374.3 72.9L374.7 73.6L375.2 74.4L375.6 75.2L376.1 76.0L376.6 76.8L377.0 77.5L377.5 78.3L378.0 79.0L378.5 79.8L379.0 80.5L379.5 81.2L380.0 82.0L380.6 82.7L381.1 83.4L381.7 84.1L382.2 84.8L382.8 85.5L383.3 86.2L383.9 86.9L384.5 87.6L385.0 88.3L385.6 89.0L386.2 89.7L386.8 90.4L387.4 91.0L388.0 91.7L388.6 92.4L389.2 93.0L389.8 93.7L390.4 94.4L391.0 95.0L391.6 95.7L392.2 96.3L392.8 97.0L393.4 97.6L394.1 98.3L394.7 98.9L395.3 99.5L396.0 100.2L396.6 100.8L397.2 101.4L397.9 102.0L398.5 102.7L399.2 103.3L399.8 103.9L400.5 104.5L401.2 105.1L401.8 105.7L402.5 106.3L403.1 106.9L403.8 107.5L404.5 108.1L405.1 108.7L405.8 109.3L406.5 109.9L407.2 110.5L407.9 111.1L408.5 111.7L409.2 112.2L409.9 112.8L410.6 113.4L411.3 114.0L412.0 114.6L412.7 115.1L413.3 115.7L414.0 116.3L414.7 116.9L415.4 117.4L416.1 118.0L416.8 118.6L417.5 119.1L418.2 119.7L418.9 120.3L419.6 120.8L420.3 121.4L421.0 121.9L421.7 122.5L422.4 123.0L423.1 123.5L423.9 124.1L424.6 124.6L425.3 125.1L426.1 125.6L426.8 126.1L427.6 126.6L428.3 127.1L429.0 127.6L429.8 128.1L430.6 128.6L431.3 129.1L432.1 129.6L432.8 130.0L433.6 130.5L434.4 131.0L435.1 131.4L435.9 131.9L436.7 132.4L437.4 132.8L438.2 133.3L439.0 133.7L439.8 134.2L440.6 134.6L441.3 135.0L442.1 135.4L442.9 135.9L443.7 136.3L444.5 136.7L445.3 137.0L446.1 137.4L446.9 137.8L447.8 138.2L448.6 138.6L449.4 138.9L450.2 139.3L451.0 139.6L451.9 140.0L452.7 140.3L453.5 140.7L454.4 141.0L455.2 141.4L456.0 141.7L456.9 142.0L457.7 142.4L458.5 142.7L459.4 143.0L460.2 143.3L461.0 143.7L461.9 144.0L462.7 144.3L463.5 144.6L464.4 145.0L465.2 145.3L466.0 145.6L466.9 145.9L467.7 146.2L468.6 146.5L469.4 146.8L470.3 147.1L471.1 147.4L471.9 147.7L472.8 148.0L473.6 148.3L474.5 148.6L475.3 148.9L476.2 149.2L477.0 149.5L477.9 149.8L478.7 150.1L479.6 150.4L480.4 150.7L481.3 151.0L482.1 151.2L483.0 151.5L483.8 151.8L484.7 152.1L485.5 152.4L486.4 152.7L487.2 153.0L488.1 153.2L488.9 153.5L489.8 153.8L490.6 154.1L491.5 154.4L492.3 154.7L493.2 154.9L494.0 155.2L494.9 155.5L495.8 155.7L496.6 156.0L497.5 156.3L498.3 156.5L499.2 156.8L500.1 157.0L500.9 157.2L501.8 157.5L502.6 157.7L503.5 157.9L504.4 158.1L505.2 158.4L506.1 158.6L507.0 158.8L507.9 159.0L508.7 159.2L509.6 159.4L510.5 159.6L511.4 159.7L512.2 159.9L513.1 160.1L514.0 160.3L514.9 160.5L515.8 160.7L516.6 160.8L517.5 161.0L518.4 161.2L519.3 161.3L520.2 161.5L521.0 161.7L521.9 161.8L522.8 162.0L523.7 162.2L524.6 162.3L525.5 162.5L526.3 162.6L527.2 162.8L528.1 162.9L529.0 163.1L529.9 163.2L530.8 163.4L531.6 163.5L532.5 163.7L533.4 163.8L534.3 164.0L535.2 164.1L536.1 164.3L536.9 164.4L537.8 164.5L538.7 164.7L539.6 164.8L540.5 164.9L541.4 165.1L542.3 165.2L543.1 165.3L544.0 165.5L544.9 165.6L545.8 165.7L546.7 165.9L547.6 166.0L548.5 166.1L549.4 166.2L550.3 166.3L551.1 166.5L552.0 166.6L552.9 166.7L553.8 166.8L554.7 166.9L555.6 167.0" fill="none" stroke="#0a32fa" stroke-width="0.75"/>
<path d="M369.7 62.0L369.8 62.4L369.9 62.8L370.1 63.1L370.2 63.5L370.3 63.9L370.4 64.2L370.6 64.6L370.7 64.9L370.8 65.3L371.0 65.7L371.1 66.0L371.3 66.4L371.4 66.7L371.5 67.1L371.7 67.4L371.8 67.8L372.0 68.1L372.1 68.5L372.3 68.8L372.5 69.2L372.6 69.5L372.8 69.9L372.9 70.2L373.1 70.5L373.3 70.9L373.5 71.2L373.6 71.6L373.8 71.9L374.0 72.3L374.2 72.6L374.4 72.9L374.5 73.3L374.7 73.6L374.9 73.9L375.1 74.3L375.3 74.6L375.5 74.9L375.7 75.3L375.9 75.6L376.1 75.9L376.3 76.3L376.5 76.6L376.7 76.9L376.9 77.3L377.1 77.6L377.3 77.9L377.5 78.2L377.7 78.6L377.9 78.9L378.1 79.2L378.3 79.5L378.5 79.8L378.7 80.2L378.9 80.5L379.2 80.8L379.4 81.1L379.6 81.4L379.8 81.7L380.1 82.0" fill="none" stroke="#0a32fa" stroke-width="1.26" stroke-linecap="round" stroke-linejoin="round"/>
<path d="M373.4 71.0L373.5 71.2L373.6 71.4L373.7 71.6L373.8 71.8L373.9 72.0L374.0 72.2L374.1 72.4L374.2 72.6L374.3 72.8L374.4 73.0L374.5 73.2L374.6 73.4L374.7 73.5L374.8 73.7L374.9 73.9L375.0 74.1L375.1 74.3L375.2 74.5L375.3 74.7L375.4 74.9L375.6 75.1L375.7 75.3L375.8 75.5L375.9 75.6L376.0 75.8L376.1 76.0L376.2 76.2L376.3 76.4L376.4 76.6L376.6 76.8L376.7 77.0L376.8 77.1L376.9 77.3L377.0 77.5L377.1 77.7L377.2 77.9L377.4 78.1L377.5 78.3L377.6 78.4L377.7 78.6L377.8 78.8L377.9 79.0L378.1 79.2L378.2 79.4L378.3 79.5L378.4 79.7L378.5 79.9L378.7 80.1L378.8 80.3L378.9 80.4L379.0 80.6L379.2 80.8L379.3 81.0L379.4 81.1L379.6 81.3L379.7 81.5L379.8 81.7L379.9 81.9L380.1 82.0" fill="none" stroke="#0a32fa" stroke-width="2.60" stroke-linecap="round" stroke-linejoin="round"/>
<path d="M378.7 80.1L378.9 80.5L379.2 80.9L379.5 81.3L379.8 81.7L380.1 82.1L380.5 82.5L380.8 82.9L381.1 83.4L381.4 83.8L381.7 84.2L382.0 84.6L382.3 85.0L382.6 85.4L382.9 85.8L383.3 86.2L383.6 86.5L383.9 86.9L384.2 87.3L384.6 87.7L384.9 88.1L385.2 88.5L385.5 88.9L385.9 89.3L386.2 89.7L386.5 90.1L386.9 90.5L387.2 90.8L387.5 91.2L387.9 91.6L388.2 92.0L388.5 92.4L388.9 92.8L389.2 93.1L389.6 93.5L389.9 93.9L390.3 94.3L390.6 94.6L390.9 95.0L391.3 95.4L391.6 95.8L392.0 96.1L392.3 96.5L392.7 96.9L393.0 97.2L393.4 97.6L393.7 98.0L394.1 98.3L394.5 98.7L394.8 99.0L395.2 99.4L395.5 99.8L395.9 100.1L396.3 100.5L396.6 100.8L397.0 101.2L397.4 101.5L397.7 101.9L398.1 102.2L398.5 102.6L398.8 103.0L399.2 103.3L399.6 103.7L400.0 104.0L400.3 104.3L400.7 104.7L401.1 105.0L401.4 105.4L401.8 105.7L402.2 106.1L402.6 106.4L402.9 106.8L403.3 107.1L403.7 107.4L404.1 107.8L404.5 108.1L404.8 108.5L405.2 108.8L405.6 109.1L406.0 109.5L406.4 109.8L406.8 110.1L407.1 110.5L407.5 110.8L407.9 111.1L408.3 111.5L408.7 111.8L409.1 112.1L409.5 112.5L409.9 112.8L410.2 113.1L410.6 113.4L411.0 113.8L411.4 114.1L411.8 114.4L412.2 114.7L412.6 115.1L413.0 115.4L413.4 115.7L413.8 116.1L414.2 116.4L414.5 116.7L414.9 117.0L415.3 117.4L415.7 117.7L416.1 118.0L416.5 118.3L416.9 118.7L417.3 119.0L417.7 119.3L418.1 119.6L418.5 119.9L418.9 120.3L419.3 120.6L419.7 120.9L420.1 121.2L420.5 121.5L420.9 121.8L421.3 122.1L421.7 122.5L422.1 122.8L422.5 123.1L422.9 123.4L423.3 123.7L423.7 124.0L424.1 124.3L424.6 124.6L425.0 124.8L425.4 125.1L425.8 125.4L426.2 125.7L426.7 126.0L427.1 126.3L427.5 126.6L427.9 126.9L428.3 127.1L428.8 127.4L429.2 127.7L429.6 128.0L430.0 128.3L430.5 128.5L430.9 128.8L431.3 129.1L431.8 129.4L432.2 129.6L432.6 129.9L433.1 130.2L433.5 130.4L433.9 130.7L434.4 131.0L434.8 131.2L435.2 131.5L435.7 131.8L436.1 132.0L436.5 132.3L437.0 132.5L437.4 132.8L437.9 133.1L438.3 133.3L438.7 133.6L439.2 133.8L439.6 134.1L440.1 134.3L440.5 134.6L441.0 134.8L441.4 135.1L441.9 135.3L442.3 135.5L442.8 135.8L443.2 136.0L443.7 136.2L444.1 136.5L444.6 136.7L445.0 136.9L445.5 137.1L446.0 137.3L446.4 137.6L446.9 137.8L447.3 138.0L447.8 138.2L448.3 138.4L448.7 138.6L449.2 138.8L449.7 139.0L450.1 139.2L450.6 139.4L451.1 139.6L451.5 139.8L452.0 140.0L452.5 140.2L452.9 140.4L453.4 140.6L453.9 140.8L454.4 141.0L454.8 141.2L455.3 141.4L455.8 141.6L456.2 141.8L456.7 142.0L457.2 142.2L457.7 142.3L458.1 142.5L458.6 142.7L459.1 142.9L459.6 143.1L460.0 143.3L460.5 143.5L461.0 143.7L461.5 143.8L461.9 144.0L462.4 144.2L462.9 144.4L463.4 144.6L463.8 144.8L464.3 144.9L464.8 145.1L465.3 145.3L465.7 145.5L466.2 145.7L466.7 145.8L467.2 146.0L467.6 146.2L468.1 146.4L468.6 146.5L469.1 146.7L469.6 146.9L470.0 147.1L470.5 147.2L471.0 147.4L471.5 147.6L472.0 147.7L472.4 147.9L472.9 148.1L473.4 148.3L473.9 148.4L474.4 148.6L474.8 148.8L475.3 148.9L475.8 149.1L476.3 149.3L476.8 149.4L477.2 149.6L477.7 149.8L478.2 149.9L478.7 150.1L479.2 150.2L479.7 150.4L480.1 150.6L480.6 150.7L481.1 150.9L481.6 151.1L482.1 151.2L482.6 151.4L483.0 151.5L483.5 151.7L484.0 151.9L484.5 152.0L485.0 152.2L485.5 152.4L485.9 152.5L486.4 152.7L486.9 152.8L487.4 153.0L487.9 153.2L488.3 153.3L488.8 153.5L489.3 153.7L489.8 153.8L490.3 154.0L490.8 154.1L491.3 154.3L491.7 154.5L492.2 154.6L492.7 154.8L493.2 154.9L493.7 155.1L494.2 155.2L494.7 155.4L495.1 155.5L495.6 155.7L496.1 155.9L496.6 156.0L497.1 156.1L497.6 156.3L498.1 156.4L498.5 156.6L499.0 156.7L499.5 156.9L500.0 157.0L500.5 157.1L501.0 157.3L501.5 157.4L502.0 157.5L502.5 157.7L503.0 157.8L503.5 157.9L503.9 158.0L504.4 158.2L504.9 158.3L505.4 158.4L505.9 158.5L506.4 158.6L506.9 158.7L507.4 158.9L507.9 159.0L508.4 159.1L508.9 159.2L509.4 159.3L509.9 159.4L510.4 159.5L510.9 159.6L511.4 159.8L511.9 159.9L512.4 160.0L512.9 160.1L513.4 160.2L513.9 160.3L514.4 160.4L514.9 160.5L515.4 160.6L515.9 160.7L516.4 160.8L516.9 160.9L517.4 161.0L517.9 161.1L518.4 161.2L518.9 161.3L519.4 161.4L519.9 161.5L520.4 161.6L520.9 161.6L521.4 161.7L521.9 161.8L522.4 161.9L522.9 162.0L523.4 162.1L523.9 162.2L524.4 162.3L524.9 162.4L525.4 162.5L525.9 162.5L526.4 162.6L526.9 162.7L527.4 162.8L527.9 162.9L528.4 163.0L528.9 163.1L529.4 163.2L529.9 163.2L530.4 163.3L530.9 163.4L531.4 163.5L531.9 163.6L532.4 163.7L532.9 163.7L533.4 163.8L533.9 163.9L534.4 164.0L534.9 164.1L535.4 164.2L535.9 164.2L536.4 164.3L536.9 164.4L537.4 164.5L537.9 164.6L538.4 164.6L538.9 164.7L539.4 164.8L539.9 164.9L540.5 164.9L541.0 165.0L541.5 165.1L542.0 165.2L542.5 165.2L543.0 165.3L543.5 165.4L544.0 165.5L544.5 165.5L545.0 165.6L545.5 165.7L546.0 165.8L546.5 165.8L547.0 165.9L547.5 166.0L548.0 166.0L548.5 166.1L549.0 166.2L549.5 166.2L550.0 166.3L550.5 166.4L551.0 166.4L551.6 166.5L552.1 166.6L552.6 166.6L553.1 166.7L553.6 166.8L554.1 166.8L554.6 166.9L555.1 166.9L555.6 167.0" fill="none" stroke="#0a32fa" stroke-width="4.20" stroke-linecap="round" stroke-linejoin="round"/>
<g fill="none" stroke="#0a32fa" stroke-width="0.65">
<circle cx="357.70" cy="19.00" r="1.95"/>
<circle cx="358.11" cy="20.96" r="1.95"/>
<circle cx="358.54" cy="22.91" r="1.95"/>
<circle cx="358.97" cy="24.86" r="1.95"/>
<circle cx="359.43" cy="26.81" r="1.95"/>
<circle cx="359.89" cy="28.76" r="1.95"/>
<circle cx="360.37" cy="30.70" r="1.95"/>
<circle cx="360.86" cy="32.64" r="1.95"/>
<circle cx="361.36" cy="34.58" r="1.95"/>
<circle cx="361.87" cy="36.51" r="1.95"/>
<circle cx="362.41" cy="38.43" r="1.95"/>
<circle cx="362.96" cy="40.36" r="1.95"/>
<circle cx="363.53" cy="42.27" r="1.95"/>
<circle cx="364.10" cy="44.19" r="1.95"/>
<circle cx="364.68" cy="46.11" r="1.95"/>
<circle cx="365.26" cy="48.02" r="1.95"/>
<circle cx="365.83" cy="49.94" r="1.95"/>
<circle cx="366.42" cy="51.85" r="1.95"/>
<circle cx="367.01" cy="53.76" r="1.95"/>
<circle cx="367.61" cy="55.67" r="1.95"/>
<circle cx="368.22" cy="57.57" r="1.95"/>
<circle cx="368.85" cy="59.47" r="1.95"/>
<circle cx="369.47" cy="61.38" r="1.95"/>
<circle cx="370.12" cy="63.28" r="1.95"/>
<circle cx="370.79" cy="65.16" r="1.95"/>
<circle cx="371.52" cy="67.02" r="1.95"/>
<circle cx="372.30" cy="68.84" r="1.95"/>
<circle cx="373.16" cy="70.65" r="1.95"/>
<circle cx="374.08" cy="72.43" r="1.95"/>
<circle cx="375.05" cy="74.19" r="1.95"/>
<circle cx="376.06" cy="75.93" r="1.95"/>
<circle cx="377.09" cy="77.64" r="1.95"/>
<circle cx="378.16" cy="79.33" r="1.95"/>
<circle cx="379.30" cy="80.97" r="1.95"/>
<circle cx="380.13" cy="82.11" r="1.95"/>
<circle cx="380.97" cy="83.22" r="1.95"/>
<circle cx="381.82" cy="84.33" r="1.95"/>
<circle cx="382.69" cy="85.43" r="1.95"/>
<circle cx="383.56" cy="86.52" r="1.95"/>
<circle cx="384.45" cy="87.60" r="1.95"/>
<circle cx="385.35" cy="88.68" r="1.95"/>
<circle cx="386.26" cy="89.75" r="1.95"/>
<circle cx="387.18" cy="90.81" r="1.95"/>
<circle cx="388.10" cy="91.87" r="1.95"/>
<circle cx="389.03" cy="92.91" r="1.95"/>
<circle cx="389.97" cy="93.95" r="1.95"/>
<circle cx="390.92" cy="94.98" r="1.95"/>
<circle cx="391.87" cy="96.00" r="1.95"/>
<circle cx="392.83" cy="97.02" r="1.95"/>
<circle cx="393.81" cy="98.02" r="1.95"/>
<circle cx="394.79" cy="99.01" r="1.95"/>
<circle cx="395.79" cy="100.00" r="1.95"/>
<circle cx="396.79" cy="100.98" r="1.95"/>
<circle cx="397.80" cy="101.96" r="1.95"/>
<circle cx="398.81" cy="102.92" r="1.95"/>
<circle cx="399.83" cy="103.89" r="1.95"/>
<circle cx="400.86" cy="104.84" r="1.95"/>
<circle cx="401.88" cy="105.79" r="1.95"/>
<circle cx="402.91" cy="106.74" r="1.95"/>
<circle cx="403.95" cy="107.67" r="1.95"/>
<circle cx="405.00" cy="108.60" r="1.95"/>
<circle cx="406.05" cy="109.53" r="1.95"/>
<circle cx="407.11" cy="110.44" r="1.95"/>
<circle cx="408.17" cy="111.36" r="1.95"/>
<circle cx="409.24" cy="112.26" r="1.95"/>
<circle cx="410.31" cy="113.17" r="1.95"/>
<circle cx="411.38" cy="114.07" r="1.95"/>
<circle cx="412.46" cy="114.97" r="1.95"/>
<circle cx="413.53" cy="115.86" r="1.95"/>
<circle cx="414.61" cy="116.76" r="1.95"/>
<circle cx="415.69" cy="117.66" r="1.95"/>
<circle cx="416.77" cy="118.55" r="1.95"/>
<circle cx="417.85" cy="119.43" r="1.95"/>
<circle cx="418.95" cy="120.31" r="1.95"/>
<circle cx="420.04" cy="121.18" r="1.95"/>
<circle cx="421.15" cy="122.04" r="1.95"/>
<circle cx="422.26" cy="122.88" r="1.95"/>
<circle cx="423.39" cy="123.71" r="1.95"/>
<circle cx="424.52" cy="124.53" r="1.95"/>
<circle cx="425.67" cy="125.33" r="1.95"/>
<circle cx="426.82" cy="126.12" r="1.95"/>
<circle cx="427.99" cy="126.91" r="1.95"/>
<circle cx="429.16" cy="127.68" r="1.95"/>
<circle cx="430.33" cy="128.45" r="1.95"/>
<circle cx="431.51" cy="129.20" r="1.95"/>
<circle cx="432.70" cy="129.94" r="1.95"/>
<circle cx="433.89" cy="130.68" r="1.95"/>
<circle cx="435.08" cy="131.40" r="1.95"/>
<circle cx="436.28" cy="132.13" r="1.95"/>
<circle cx="437.49" cy="132.84" r="1.95"/>
<circle cx="438.70" cy="133.55" r="1.95"/>
<circle cx="439.92" cy="134.24" r="1.95"/>
<circle cx="441.15" cy="134.92" r="1.95"/>
<circle cx="442.39" cy="135.58" r="1.95"/>
<circle cx="443.63" cy="136.22" r="1.95"/>
<circle cx="444.88" cy="136.83" r="1.95"/>
<circle cx="446.14" cy="137.43" r="1.95"/>
<circle cx="447.41" cy="138.02" r="1.95"/>
<circle cx="448.68" cy="138.60" r="1.95"/>
<circle cx="449.96" cy="139.16" r="1.95"/>
<circle cx="451.25" cy="139.72" r="1.95"/>
<circle cx="452.54" cy="140.27" r="1.95"/>
<circle cx="453.84" cy="140.80" r="1.95"/>
<circle cx="455.13" cy="141.33" r="1.95"/>
<circle cx="456.44" cy="141.86" r="1.95"/>
<circle cx="457.74" cy="142.38" r="1.95"/>
<circle cx="459.04" cy="142.89" r="1.95"/>
<circle cx="460.35" cy="143.40" r="1.95"/>
<circle cx="461.65" cy="143.91" r="1.95"/>
<circle cx="462.95" cy="144.42" r="1.95"/>
<circle cx="464.26" cy="144.92" r="1.95"/>
<circle cx="465.57" cy="145.41" r="1.95"/>
<circle cx="466.88" cy="145.90" r="1.95"/>
<circle cx="468.20" cy="146.38" r="1.95"/>
<circle cx="469.51" cy="146.86" r="1.95"/>
<circle cx="470.83" cy="147.34" r="1.95"/>
<circle cx="472.15" cy="147.81" r="1.95"/>
<circle cx="473.47" cy="148.28" r="1.95"/>
<circle cx="474.79" cy="148.74" r="1.95"/>
<circle cx="476.11" cy="149.20" r="1.95"/>
<circle cx="477.44" cy="149.66" r="1.95"/>
<circle cx="478.76" cy="150.11" r="1.95"/>
<circle cx="480.09" cy="150.56" r="1.95"/>
<circle cx="481.42" cy="151.00" r="1.95"/>
<circle cx="482.74" cy="151.45" r="1.95"/>
<circle cx="484.07" cy="151.89" r="1.95"/>
<circle cx="485.40" cy="152.34" r="1.95"/>
<circle cx="486.73" cy="152.79" r="1.95"/>
<circle cx="488.06" cy="153.24" r="1.95"/>
<circle cx="489.39" cy="153.68" r="1.95"/>
<circle cx="490.72" cy="154.13" r="1.95"/>
<circle cx="492.05" cy="154.56" r="1.95"/>
<circle cx="493.38" cy="154.99" r="1.95"/>
<circle cx="494.72" cy="155.42" r="1.95"/>
<circle cx="496.06" cy="155.83" r="1.95"/>
<circle cx="497.40" cy="156.24" r="1.95"/>
<circle cx="498.74" cy="156.64" r="1.95"/>
<circle cx="500.08" cy="157.02" r="1.95"/>
<circle cx="501.43" cy="157.39" r="1.95"/>
<circle cx="502.78" cy="157.74" r="1.95"/>
<circle cx="504.13" cy="158.08" r="1.95"/>
<circle cx="505.49" cy="158.41" r="1.95"/>
<circle cx="506.85" cy="158.74" r="1.95"/>
<circle cx="508.21" cy="159.05" r="1.95"/>
<circle cx="509.58" cy="159.36" r="1.95"/>
<circle cx="510.95" cy="159.66" r="1.95"/>
<circle cx="512.32" cy="159.95" r="1.95"/>
<circle cx="513.69" cy="160.24" r="1.95"/>
<circle cx="515.07" cy="160.52" r="1.95"/>
<circle cx="516.44" cy="160.80" r="1.95"/>
<circle cx="517.82" cy="161.06" r="1.95"/>
<circle cx="519.19" cy="161.33" r="1.95"/>
<circle cx="520.57" cy="161.59" r="1.95"/>
<circle cx="521.95" cy="161.84" r="1.95"/>
<circle cx="523.33" cy="162.09" r="1.95"/>
<circle cx="524.70" cy="162.34" r="1.95"/>
<circle cx="526.08" cy="162.58" r="1.95"/>
<circle cx="527.46" cy="162.82" r="1.95"/>
<circle cx="528.84" cy="163.06" r="1.95"/>
<circle cx="530.22" cy="163.29" r="1.95"/>
<circle cx="531.60" cy="163.52" r="1.95"/>
<circle cx="532.98" cy="163.75" r="1.95"/>
<circle cx="534.36" cy="163.98" r="1.95"/>
<circle cx="535.74" cy="164.20" r="1.95"/>
<circle cx="537.12" cy="164.43" r="1.95"/>
<circle cx="538.50" cy="164.64" r="1.95"/>
<circle cx="539.89" cy="164.86" r="1.95"/>
<circle cx="541.27" cy="165.07" r="1.95"/>
<circle cx="542.66" cy="165.27" r="1.95"/>
<circle cx="544.04" cy="165.48" r="1.95"/>
<circle cx="545.43" cy="165.68" r="1.95"/>
<circle cx="546.82" cy="165.87" r="1.95"/>
<circle cx="548.20" cy="166.06" r="1.95"/>
<circle cx="549.59" cy="166.25" r="1.95"/>
<circle cx="550.98" cy="166.43" r="1.95"/>
<circle cx="552.37" cy="166.61" r="1.95"/>
<circle cx="553.76" cy="166.78" r="1.95"/>
<circle cx="555.16" cy="166.95" r="1.95"/>
</g>
<path d="M333.9 31.7L333.9 32.8L333.9 33.9L333.9 34.9L333.9 36.0L333.9 37.1L333.9 38.2L333.9 39.2L333.9 40.3L333.9 41.4L333.9 42.5L333.9 43.6L333.9 44.6L333.9 45.7L333.9 46.8L334.0 47.9L334.0 48.9L334.0 50.0L334.0 51.1L334.0 52.2L334.0 53.3L334.0 54.3L334.0 55.4L334.0 56.5L334.1 57.6L334.1 58.6L334.1 59.7L334.1 60.8L334.2 61.9L334.2 63.0L334.3 64.0L334.4 65.1L334.5 66.2L334.6 67.3L334.7 68.3L334.8 69.4L334.8 70.5L334.9 71.5L334.9 72.6L334.9 73.7L335.0 74.8L335.0 75.9L335.0 76.9L335.0 78.0L335.1 79.1L335.1 80.2L335.1 81.2L335.2 82.3L335.2 83.4L335.2 84.5L335.3 85.6L335.3 86.6L335.3 87.7L335.4 88.8L335.4 89.9L335.5 90.9L335.5 92.0L335.5 93.1L335.6 94.2L335.6 95.3L335.7 96.3L335.7 97.4L335.8 98.5L335.9 99.6L335.9 100.6L336.0 101.7L336.1 102.8L336.2 103.8L336.3 104.9L336.5 106.0L336.7 107.1L336.8 108.1L337.0 109.2L337.2 110.3L337.4 111.3L337.7 112.4L337.9 113.4L338.1 114.5L338.4 115.5L338.6 116.6L338.9 117.6L339.3 118.6L339.6 119.6L340.0 120.7L340.3 121.7L340.7 122.7L341.0 123.7L341.4 124.7L341.8 125.8L342.2 126.8L342.6 127.8L343.0 128.8L343.5 129.7L343.9 130.7L344.5 131.6L345.0 132.6L345.6 133.5L346.2 134.4L346.8 135.3L347.5 136.2L348.2 137.0L348.9 137.8L349.6 138.5L350.4 139.2L351.2 139.9L352.0 140.6L352.9 141.2L353.8 141.9L354.7 142.5L355.7 143.1L356.6 143.7L357.5 144.2L358.4 144.8L359.3 145.3L360.3 145.8L361.2 146.3L362.2 146.8L363.1 147.3L364.1 147.8L365.1 148.3L366.1 148.7L367.0 149.2L368.0 149.6L369.0 150.1L370.0 150.6L371.0 151.0L371.9 151.5L372.9 151.9L373.9 152.4L374.9 152.8L375.9 153.3L376.9 153.7L377.8 154.2L378.8 154.6L379.8 155.0L380.8 155.4L381.8 155.8L382.8 156.2L383.8 156.6L384.8 156.9L385.9 157.3L386.9 157.6L387.9 158.0L388.9 158.3L390.0 158.6L391.0 158.9L392.0 159.3L393.1 159.6L394.1 159.9L395.1 160.1L396.2 160.4L397.2 160.7L398.3 161.0L399.3 161.2L400.4 161.5L401.4 161.8L402.5 162.0L403.5 162.3L404.5 162.5L405.6 162.7L406.6 163.0L407.7 163.2L408.8 163.4L409.8 163.7L410.9 163.9L411.9 164.1L413.0 164.3L414.0 164.5L415.1 164.7L416.2 164.9L417.2 165.1L418.3 165.3L419.3 165.5L420.4 165.7L421.5 165.8L422.5 166.0L423.6 166.2L424.7 166.3L425.7 166.5L426.8 166.6L427.9 166.8L428.9 166.9L430.0 167.0L431.1 167.2L432.1 167.3L433.2 167.4L434.3 167.5L435.4 167.7L436.4 167.8L437.5 167.9L438.6 168.0L439.6 168.2L440.7 168.3L441.8 168.4L442.9 168.5L443.9 168.7L445.0 168.8L446.1 169.0L447.1 169.1L448.2 169.3L449.3 169.4L450.3 169.6L451.4 169.8L452.5 169.9L453.5 170.1L454.6 170.3L455.7 170.4L456.7 170.6L457.8 170.8L458.9 170.9L459.9 171.1L461.0 171.2L462.1 171.3L463.1 171.4L464.2 171.6L465.3 171.7L466.3 171.8L467.4 171.9L468.5 172.0L469.6 172.1L470.6 172.2L471.7 172.4L472.8 172.5L473.8 172.6L474.9 172.7L476.0 172.8L477.1 172.9L478.1 173.0L479.2 173.1L480.3 173.2L481.4 173.3L482.4 173.4L483.5 173.4L484.6 173.5L485.7 173.6L486.7 173.7L487.8 173.8L488.9 173.9L490.0 174.0L491.0 174.1L492.1 174.1L493.2 174.2L494.3 174.3L495.3 174.4L496.4 174.5L497.5 174.6L498.6 174.6L499.6 174.7L500.7 174.8L501.8 174.9L502.9 175.0L503.9 175.0L505.0 175.1L506.1 175.2L507.2 175.3L508.2 175.3L509.3 175.4L510.4 175.5L511.5 175.5L512.5 175.6L513.6 175.7L514.7 175.7L515.8 175.8L516.8 175.9L517.9 175.9L519.0 176.0L520.1 176.1L521.1 176.1L522.2 176.2L523.3 176.2L524.4 176.3L525.4 176.3L526.5 176.4L527.6 176.5L528.7 176.5L529.8 176.6L530.8 176.6L531.9 176.7L533.0 176.7L534.1 176.8L535.1 176.8L536.2 176.9L537.3 176.9L538.4 177.0L539.4 177.0L540.5 177.1L541.6 177.1L542.7 177.1L543.7 177.2L544.8 177.2L545.9 177.3L547.0 177.3L548.1 177.4L549.1 177.4L550.2 177.4L551.3 177.5L552.4 177.5L553.4 177.5L554.5 177.6L555.6 177.6" fill="none" stroke="#3cfa1e" stroke-width="0.75"/>
<path d="M335.9 100.0L335.9 100.3L335.9 100.7L336.0 101.0L336.0 101.4L336.0 101.7L336.0 102.1L336.1 102.4L336.1 102.8L336.1 103.1L336.2 103.4L336.2 103.8L336.2 104.1L336.3 104.5L336.3 104.8L336.4 105.2L336.4 105.5L336.5 105.8L336.5 106.2L336.6 106.5L336.6 106.9L336.7 107.2L336.7 107.6L336.8 107.9L336.9 108.2L336.9 108.6L337.0 108.9L337.0 109.3L337.1 109.6L337.2 110.0L337.2 110.3L337.3 110.6L337.4 111.0L337.4 111.3L337.5 111.7L337.6 112.0L337.7 112.3L337.7 112.7L337.8 113.0L337.9 113.3L337.9 113.7L338.0 114.0L338.1 114.4L338.2 114.7L338.2 115.0L338.3 115.4L338.4 115.7L338.5 116.0L338.6 116.4L338.7 116.7L338.8 117.0L338.9 117.4L339.0 117.7L339.1 118.0L339.2 118.4L339.3 118.7L339.4 119.0L339.5 119.3L339.6 119.7L339.7 120.0" fill="none" stroke="#3cfa1e" stroke-width="1.26" stroke-linecap="round" stroke-linejoin="round"/>
<path d="M337.0 109.1L337.0 109.3L337.1 109.4L337.1 109.6L337.1 109.8L337.2 110.0L337.2 110.2L337.3 110.4L337.3 110.6L337.3 110.8L337.4 111.0L337.4 111.1L337.4 111.3L337.5 111.5L337.5 111.7L337.6 111.9L337.6 112.1L337.6 112.3L337.7 112.4L337.7 112.6L337.8 112.8L337.8 113.0L337.8 113.2L337.9 113.4L337.9 113.6L338.0 113.8L338.0 113.9L338.0 114.1L338.1 114.3L338.1 114.5L338.2 114.7L338.2 114.9L338.3 115.1L338.3 115.2L338.3 115.4L338.4 115.6L338.4 115.8L338.5 116.0L338.5 116.2L338.6 116.3L338.6 116.5L338.7 116.7L338.7 116.9L338.8 117.1L338.8 117.3L338.9 117.4L339.0 117.6L339.0 117.8L339.1 118.0L339.1 118.2L339.2 118.4L339.2 118.5L339.3 118.7L339.4 118.9L339.4 119.1L339.5 119.3L339.5 119.5L339.6 119.6L339.7 119.8L339.7 120.0" fill="none" stroke="#3cfa1e" stroke-width="2.60" stroke-linecap="round" stroke-linejoin="round"/>
<path d="M339.1 118.1L339.3 118.6L339.5 119.2L339.6 119.7L339.8 120.3L340.0 120.9L340.2 121.4L340.4 122.0L340.6 122.5L340.8 123.1L341.0 123.7L341.2 124.2L341.4 124.8L341.6 125.3L341.8 125.9L342.0 126.4L342.3 127.0L342.5 127.5L342.7 128.1L342.9 128.6L343.2 129.2L343.4 129.7L343.7 130.2L344.0 130.7L344.2 131.2L344.5 131.8L344.8 132.3L345.1 132.8L345.5 133.3L345.8 133.8L346.1 134.3L346.5 134.8L346.8 135.3L347.2 135.8L347.5 136.2L347.9 136.7L348.3 137.1L348.7 137.6L349.1 138.0L349.5 138.4L349.9 138.8L350.3 139.2L350.8 139.6L351.2 139.9L351.7 140.3L352.1 140.7L352.6 141.0L353.1 141.4L353.6 141.7L354.1 142.1L354.6 142.4L355.1 142.7L355.6 143.1L356.1 143.4L356.6 143.7L357.1 144.0L357.6 144.3L358.1 144.6L358.6 144.9L359.1 145.2L359.6 145.5L360.1 145.8L360.7 146.0L361.2 146.3L361.7 146.6L362.2 146.9L362.8 147.1L363.3 147.4L363.8 147.7L364.4 147.9L364.9 148.2L365.4 148.4L366.0 148.7L366.5 148.9L367.0 149.2L367.6 149.4L368.1 149.7L368.7 149.9L369.2 150.2L369.7 150.4L370.3 150.7L370.8 150.9L371.3 151.2L371.9 151.4L372.4 151.7L372.9 151.9L373.5 152.2L374.0 152.4L374.5 152.7L375.1 152.9L375.6 153.2L376.2 153.4L376.7 153.6L377.2 153.9L377.8 154.1L378.3 154.4L378.9 154.6L379.4 154.8L380.0 155.1L380.5 155.3L381.1 155.5L381.6 155.7L382.2 155.9L382.7 156.2L383.3 156.4L383.8 156.6L384.4 156.8L384.9 157.0L385.5 157.2L386.0 157.3L386.6 157.5L387.1 157.7L387.7 157.9L388.3 158.1L388.8 158.3L389.4 158.4L389.9 158.6L390.5 158.8L391.1 159.0L391.6 159.1L392.2 159.3L392.8 159.5L393.3 159.6L393.9 159.8L394.5 160.0L395.1 160.1L395.6 160.3L396.2 160.4L396.8 160.6L397.3 160.7L397.9 160.9L398.5 161.0L399.1 161.2L399.6 161.3L400.2 161.5L400.8 161.6L401.4 161.7L401.9 161.9L402.5 162.0L403.1 162.2L403.6 162.3L404.2 162.4L404.8 162.6L405.4 162.7L405.9 162.8L406.5 162.9L407.1 163.1L407.7 163.2L408.3 163.3L408.8 163.4L409.4 163.6L410.0 163.7L410.6 163.8L411.1 163.9L411.7 164.1L412.3 164.2L412.9 164.3L413.5 164.4L414.0 164.5L414.6 164.6L415.2 164.7L415.8 164.8L416.4 165.0L416.9 165.1L417.5 165.2L418.1 165.3L418.7 165.4L419.3 165.5L419.9 165.6L420.4 165.7L421.0 165.8L421.6 165.9L422.2 166.0L422.8 166.0L423.3 166.1L423.9 166.2L424.5 166.3L425.1 166.4L425.7 166.5L426.3 166.6L426.8 166.6L427.4 166.7L428.0 166.8L428.6 166.9L429.2 166.9L429.8 167.0L430.4 167.1L430.9 167.2L431.5 167.2L432.1 167.3L432.7 167.4L433.3 167.4L433.9 167.5L434.5 167.6L435.1 167.6L435.6 167.7L436.2 167.8L436.8 167.8L437.4 167.9L438.0 168.0L438.6 168.0L439.2 168.1L439.8 168.2L440.3 168.2L440.9 168.3L441.5 168.4L442.1 168.4L442.7 168.5L443.3 168.6L443.9 168.7L444.4 168.7L445.0 168.8L445.6 168.9L446.2 169.0L446.8 169.1L447.4 169.1L448.0 169.2L448.5 169.3L449.1 169.4L449.7 169.5L450.3 169.6L450.9 169.7L451.5 169.8L452.0 169.9L452.6 170.0L453.2 170.0L453.8 170.1L454.4 170.2L455.0 170.3L455.5 170.4L456.1 170.5L456.7 170.6L457.3 170.7L457.9 170.8L458.5 170.9L459.0 170.9L459.6 171.0L460.2 171.1L460.8 171.2L461.4 171.2L462.0 171.3L462.5 171.4L463.1 171.4L463.7 171.5L464.3 171.6L464.9 171.6L465.5 171.7L466.1 171.8L466.7 171.8L467.2 171.9L467.8 172.0L468.4 172.0L469.0 172.1L469.6 172.1L470.2 172.2L470.8 172.3L471.4 172.3L471.9 172.4L472.5 172.4L473.1 172.5L473.7 172.6L474.3 172.6L474.9 172.7L475.5 172.7L476.1 172.8L476.6 172.8L477.2 172.9L477.8 172.9L478.4 173.0L479.0 173.1L479.6 173.1L480.2 173.2L480.8 173.2L481.3 173.3L481.9 173.3L482.5 173.4L483.1 173.4L483.7 173.5L484.3 173.5L484.9 173.6L485.5 173.6L486.1 173.7L486.6 173.7L487.2 173.8L487.8 173.8L488.4 173.9L489.0 173.9L489.6 173.9L490.2 174.0L490.8 174.0L491.4 174.1L491.9 174.1L492.5 174.2L493.1 174.2L493.7 174.3L494.3 174.3L494.9 174.4L495.5 174.4L496.1 174.5L496.6 174.5L497.2 174.5L497.8 174.6L498.4 174.6L499.0 174.7L499.6 174.7L500.2 174.8L500.8 174.8L501.4 174.8L501.9 174.9L502.5 174.9L503.1 175.0L503.7 175.0L504.3 175.1L504.9 175.1L505.5 175.1L506.1 175.2L506.7 175.2L507.2 175.3L507.8 175.3L508.4 175.3L509.0 175.4L509.6 175.4L510.2 175.5L510.8 175.5L511.4 175.5L512.0 175.6L512.6 175.6L513.1 175.6L513.7 175.7L514.3 175.7L514.9 175.8L515.5 175.8L516.1 175.8L516.7 175.9L517.3 175.9L517.9 175.9L518.4 176.0L519.0 176.0L519.6 176.0L520.2 176.1L520.8 176.1L521.4 176.1L522.0 176.2L522.6 176.2L523.2 176.2L523.7 176.3L524.3 176.3L524.9 176.3L525.5 176.4L526.1 176.4L526.7 176.4L527.3 176.4L527.9 176.5L528.5 176.5L529.1 176.5L529.6 176.6L530.2 176.6L530.8 176.6L531.4 176.6L532.0 176.7L532.6 176.7L533.2 176.7L533.8 176.8L534.4 176.8L535.0 176.8L535.5 176.8L536.1 176.9L536.7 176.9L537.3 176.9L537.9 176.9L538.5 177.0L539.1 177.0L539.7 177.0L540.3 177.0L540.8 177.1L541.4 177.1L542.0 177.1L542.6 177.1L543.2 177.2L543.8 177.2L544.4 177.2L545.0 177.2L545.6 177.3L546.2 177.3L546.7 177.3L547.3 177.3L547.9 177.3L548.5 177.4L549.1 177.4L549.7 177.4L550.3 177.4L550.9 177.4L551.5 177.5L552.1 177.5L552.6 177.5L553.2 177.5L553.8 177.5L554.4 177.6L555.0 177.6L555.6 177.6" fill="none" stroke="#3cfa1e" stroke-width="4.20" stroke-linecap="round" stroke-linejoin="round"/>
<g fill="none" stroke="#3cfa1e" stroke-width="0.65">
<path d="M331.48 30.24L336.31 30.24L333.90 34.17Z"/>
<path d="M331.48 35.14L336.31 35.14L333.90 39.07Z"/>
<path d="M331.58 52.14L336.42 52.14L334.00 56.07Z"/>
<path d="M331.69 58.54L336.52 58.54L334.10 62.47Z"/>
<path d="M331.78 61.34L336.62 61.34L334.20 65.27Z"/>
<path d="M332.78 83.24L337.62 83.24L335.20 87.17Z"/>
<path d="M333.19 93.74L338.02 93.74L335.60 97.67Z"/>
<path d="M333.58 99.74L338.42 99.74L336.00 103.67Z"/>
<path d="M333.94 103.56L338.77 103.56L336.36 107.49Z"/>
<path d="M334.43 106.73L339.26 106.73L336.85 110.66Z"/>
<path d="M334.97 109.57L339.80 109.57L337.38 113.50Z"/>
<path d="M335.50 112.11L340.33 112.11L337.92 116.04Z"/>
<path d="M336.03 114.38L340.86 114.38L338.45 118.31Z"/>
<path d="M336.62 116.42L341.45 116.42L339.03 120.35Z"/>
<path d="M337.21 118.24L342.04 118.24L339.62 122.17Z"/>
<path d="M337.77 119.88L342.60 119.88L340.19 123.81Z"/>
<path d="M338.29 121.36L343.12 121.36L340.71 125.29Z"/>
<path d="M338.77 122.70L343.60 122.70L341.18 126.63Z"/>
<path d="M339.26 124.02L344.09 124.02L341.67 127.95Z"/>
<path d="M339.76 125.34L344.59 125.34L342.18 129.27Z"/>
<path d="M340.30 126.64L345.13 126.64L342.72 130.57Z"/>
<path d="M340.87 127.91L345.70 127.91L343.29 131.84Z"/>
<path d="M341.49 129.15L346.32 129.15L343.90 133.08Z"/>
<path d="M342.16 130.37L346.99 130.37L344.57 134.30Z"/>
<path d="M342.89 131.58L347.72 131.58L345.30 135.51Z"/>
<path d="M343.66 132.78L348.49 132.78L346.08 136.71Z"/>
<path d="M344.49 133.94L349.32 133.94L346.91 137.87Z"/>
<path d="M345.36 135.05L350.19 135.05L347.77 138.98Z"/>
<path d="M346.26 136.09L351.09 136.09L348.68 140.02Z"/>
<path d="M347.21 137.06L352.04 137.06L349.62 140.99Z"/>
<path d="M348.22 137.99L353.05 137.99L350.64 141.92Z"/>
<path d="M349.30 138.88L354.13 138.88L351.72 142.81Z"/>
<path d="M350.43 139.73L355.26 139.73L352.85 143.66Z"/>
<path d="M351.60 140.55L356.43 140.55L354.01 144.48Z"/>
<path d="M352.79 141.34L357.62 141.34L355.20 145.27Z"/>
<path d="M353.98 142.10L358.81 142.10L356.40 146.03Z"/>
<path d="M355.17 142.83L360.00 142.83L357.59 146.76Z"/>
<path d="M356.36 143.54L361.19 143.54L358.78 147.47Z"/>
<path d="M357.58 144.23L362.41 144.23L359.99 148.15Z"/>
<path d="M358.81 144.89L363.64 144.89L361.22 148.82Z"/>
<path d="M360.05 145.53L364.88 145.53L362.47 149.46Z"/>
<path d="M361.31 146.16L366.14 146.16L363.72 150.08Z"/>
<path d="M362.58 146.77L367.41 146.77L364.99 150.70Z"/>
<path d="M363.85 147.37L368.68 147.37L366.26 151.30Z"/>
<path d="M365.12 147.96L369.95 147.96L367.54 151.89Z"/>
<path d="M366.40 148.55L371.23 148.55L368.81 152.48Z"/>
<path d="M367.67 149.14L372.50 149.14L370.08 153.07Z"/>
<path d="M368.94 149.73L373.77 149.73L371.35 153.66Z"/>
<path d="M370.21 150.32L375.04 150.32L372.62 154.25Z"/>
<path d="M371.48 150.91L376.31 150.91L373.90 154.84Z"/>
<path d="M372.76 151.50L377.59 151.50L375.17 155.43Z"/>
<path d="M374.04 152.08L378.87 152.08L376.45 156.01Z"/>
<path d="M375.32 152.65L380.15 152.65L377.73 156.58Z"/>
<path d="M376.61 153.21L381.44 153.21L379.02 157.13Z"/>
<path d="M377.90 153.75L382.73 153.75L380.31 157.68Z"/>
<path d="M379.19 154.28L384.02 154.28L381.61 158.20Z"/>
<path d="M380.50 154.78L385.33 154.78L382.91 158.71Z"/>
<path d="M381.81 155.27L386.64 155.27L384.22 159.19Z"/>
<path d="M383.12 155.73L387.95 155.73L385.53 159.65Z"/>
<path d="M384.44 156.17L389.27 156.17L386.86 160.10Z"/>
<path d="M385.77 156.61L390.60 156.61L388.18 160.54Z"/>
<path d="M387.10 157.03L391.93 157.03L389.52 160.96Z"/>
<path d="M388.44 157.44L393.27 157.44L390.86 161.37Z"/>
<path d="M389.79 157.85L394.62 157.85L392.20 161.77Z"/>
<path d="M391.13 158.24L395.96 158.24L393.55 162.17Z"/>
<path d="M392.49 158.62L397.32 158.62L394.90 162.55Z"/>
<path d="M393.84 158.99L398.67 158.99L396.25 162.92Z"/>
<path d="M395.20 159.35L400.03 159.35L397.61 163.28Z"/>
<path d="M396.55 159.70L401.38 159.70L398.97 163.63Z"/>
<path d="M397.91 160.04L402.74 160.04L400.33 163.97Z"/>
<path d="M399.27 160.37L404.10 160.37L401.69 164.29Z"/>
<path d="M400.63 160.69L405.46 160.69L403.05 164.62Z"/>
<path d="M401.99 161.00L406.82 161.00L404.41 164.93Z"/>
<path d="M403.36 161.31L408.19 161.31L405.77 165.24Z"/>
<path d="M404.72 161.62L409.55 161.62L407.14 165.55Z"/>
<path d="M406.09 161.92L410.92 161.92L408.51 165.85Z"/>
<path d="M407.46 162.21L412.29 162.21L409.88 166.14Z"/>
<path d="M408.83 162.50L413.66 162.50L411.25 166.43Z"/>
<path d="M410.21 162.78L415.04 162.78L412.62 166.70Z"/>
<path d="M411.58 163.05L416.41 163.05L414.00 166.98Z"/>
<path d="M412.96 163.31L417.79 163.31L415.38 167.24Z"/>
<path d="M414.34 163.57L419.17 163.57L416.75 167.50Z"/>
<path d="M415.72 163.82L420.55 163.82L418.13 167.75Z"/>
<path d="M417.10 164.06L421.93 164.06L419.51 167.99Z"/>
<path d="M418.48 164.29L423.31 164.29L420.89 168.22Z"/>
<path d="M419.86 164.51L424.69 164.51L422.27 168.44Z"/>
<path d="M421.24 164.73L426.07 164.73L423.65 168.65Z"/>
<path d="M422.62 164.93L427.45 164.93L425.04 168.86Z"/>
<path d="M424.01 165.12L428.84 165.12L426.42 169.05Z"/>
<path d="M425.39 165.31L430.22 165.31L427.81 169.23Z"/>
<path d="M426.78 165.48L431.61 165.48L429.20 169.41Z"/>
<path d="M428.17 165.65L433.00 165.65L430.59 169.58Z"/>
<path d="M429.56 165.82L434.39 165.82L431.98 169.75Z"/>
<path d="M430.95 165.98L435.78 165.98L433.37 169.91Z"/>
<path d="M432.35 166.14L437.18 166.14L434.76 170.07Z"/>
<path d="M433.74 166.30L438.57 166.30L436.15 170.23Z"/>
<path d="M435.13 166.46L439.96 166.46L437.54 170.39Z"/>
<path d="M436.52 166.62L441.35 166.62L438.94 170.55Z"/>
<path d="M437.91 166.78L442.74 166.78L440.33 170.71Z"/>
<path d="M439.30 166.94L444.13 166.94L441.72 170.87Z"/>
<path d="M440.70 167.11L445.53 167.11L443.11 171.04Z"/>
<path d="M442.08 167.29L446.91 167.29L444.50 171.22Z"/>
<path d="M443.47 167.47L448.30 167.47L445.89 171.40Z"/>
<path d="M444.86 167.66L449.69 167.66L447.27 171.59Z"/>
<path d="M446.24 167.87L451.07 167.87L448.66 171.80Z"/>
<path d="M447.63 168.08L452.46 168.08L450.04 172.01Z"/>
<path d="M449.01 168.30L453.84 168.30L451.43 172.23Z"/>
<path d="M450.39 168.52L455.22 168.52L452.81 172.45Z"/>
<path d="M451.78 168.75L456.61 168.75L454.19 172.67Z"/>
<path d="M453.16 168.96L457.99 168.96L455.58 172.89Z"/>
<path d="M454.55 169.18L459.38 169.18L456.96 173.10Z"/>
<path d="M455.93 169.38L460.76 169.38L458.34 173.31Z"/>
<path d="M457.32 169.57L462.15 169.57L459.73 173.50Z"/>
<path d="M458.70 169.74L463.53 169.74L461.12 173.67Z"/>
<path d="M460.09 169.91L464.92 169.91L462.51 173.84Z"/>
<path d="M461.48 170.07L466.31 170.07L463.90 174.00Z"/>
<path d="M462.87 170.22L467.70 170.22L465.29 174.15Z"/>
<path d="M464.26 170.38L469.09 170.38L466.68 174.30Z"/>
<path d="M465.66 170.53L470.49 170.53L468.07 174.45Z"/>
<path d="M467.05 170.67L471.88 170.67L469.46 174.60Z"/>
<path d="M468.44 170.81L473.27 170.81L470.86 174.74Z"/>
<path d="M469.83 170.95L474.66 170.95L472.25 174.88Z"/>
<path d="M471.23 171.09L476.06 171.09L473.64 175.02Z"/>
<path d="M472.62 171.23L477.45 171.23L475.04 175.15Z"/>
<path d="M474.02 171.36L478.85 171.36L476.43 175.28Z"/>
<path d="M475.41 171.49L480.24 171.49L477.83 175.41Z"/>
<path d="M476.81 171.61L481.64 171.61L479.22 175.54Z"/>
<path d="M478.20 171.74L483.03 171.74L480.62 175.66Z"/>
<path d="M479.60 171.86L484.43 171.86L482.01 175.79Z"/>
<path d="M480.99 171.98L485.82 171.98L483.41 175.91Z"/>
<path d="M482.39 172.10L487.22 172.10L484.80 176.02Z"/>
<path d="M483.78 172.21L488.61 172.21L486.20 176.14Z"/>
<path d="M485.18 172.33L490.01 172.33L487.59 176.26Z"/>
<path d="M486.57 172.44L491.40 172.44L488.99 176.37Z"/>
<path d="M487.97 172.55L492.80 172.55L490.39 176.48Z"/>
<path d="M489.37 172.66L494.20 172.66L491.78 176.59Z"/>
<path d="M490.76 172.77L495.59 172.77L493.18 176.70Z"/>
<path d="M492.16 172.88L496.99 172.88L494.57 176.81Z"/>
<path d="M493.55 172.99L498.38 172.99L495.97 176.91Z"/>
<path d="M494.95 173.09L499.78 173.09L497.36 177.02Z"/>
<path d="M496.34 173.20L501.17 173.20L498.76 177.12Z"/>
<path d="M497.74 173.30L502.57 173.30L500.16 177.23Z"/>
<path d="M499.14 173.40L503.97 173.40L501.55 177.33Z"/>
<path d="M500.53 173.50L505.36 173.50L502.95 177.43Z"/>
<path d="M501.93 173.60L506.76 173.60L504.34 177.53Z"/>
<path d="M503.33 173.70L508.16 173.70L505.74 177.63Z"/>
<path d="M504.72 173.80L509.55 173.80L507.14 177.72Z"/>
<path d="M506.12 173.89L510.95 173.89L508.54 177.82Z"/>
<path d="M507.52 173.98L512.35 173.98L509.93 177.91Z"/>
<path d="M508.92 174.07L513.75 174.07L511.33 178.00Z"/>
<path d="M510.31 174.16L515.14 174.16L512.73 178.09Z"/>
<path d="M511.71 174.25L516.54 174.25L514.12 178.18Z"/>
<path d="M513.11 174.34L517.94 174.34L515.52 178.27Z"/>
<path d="M514.50 174.42L519.33 174.42L516.92 178.35Z"/>
<path d="M515.90 174.50L520.73 174.50L518.32 178.43Z"/>
<path d="M517.30 174.58L522.13 174.58L519.72 178.51Z"/>
<path d="M518.70 174.66L523.53 174.66L521.11 178.59Z"/>
<path d="M520.10 174.74L524.93 174.74L522.51 178.67Z"/>
<path d="M521.49 174.81L526.32 174.81L523.91 178.74Z"/>
<path d="M522.89 174.88L527.72 174.88L525.31 178.81Z"/>
<path d="M524.29 174.95L529.12 174.95L526.70 178.88Z"/>
<path d="M525.69 175.02L530.52 175.02L528.10 178.95Z"/>
<path d="M527.09 175.09L531.92 175.09L529.50 179.02Z"/>
<path d="M528.48 175.16L533.31 175.16L530.90 179.09Z"/>
<path d="M529.88 175.23L534.71 175.23L532.30 179.15Z"/>
<path d="M531.28 175.29L536.11 175.29L533.70 179.22Z"/>
<path d="M532.68 175.36L537.51 175.36L535.09 179.28Z"/>
<path d="M534.08 175.42L538.91 175.42L536.49 179.35Z"/>
<path d="M535.48 175.48L540.31 175.48L537.89 179.41Z"/>
<path d="M536.87 175.54L541.70 175.54L539.29 179.47Z"/>
<path d="M538.27 175.60L543.10 175.60L540.69 179.53Z"/>
<path d="M539.67 175.66L544.50 175.66L542.09 179.59Z"/>
<path d="M541.07 175.72L545.90 175.72L543.49 179.64Z"/>
<path d="M542.47 175.77L547.30 175.77L544.89 179.70Z"/>
<path d="M543.87 175.83L548.70 175.83L546.28 179.75Z"/>
<path d="M545.27 175.88L550.10 175.88L547.68 179.81Z"/>
<path d="M546.67 175.93L551.50 175.93L549.08 179.86Z"/>
<path d="M548.07 175.98L552.90 175.98L550.48 179.91Z"/>
<path d="M549.47 176.02L554.30 176.02L551.88 179.95Z"/>
<path d="M550.87 176.07L555.70 176.07L553.28 180.00Z"/>
<path d="M552.27 176.11L557.10 176.11L554.68 180.04Z"/>
</g>
<path d="M342.8 18.2L342.9 19.3L342.9 20.3L343.0 21.4L343.0 22.4L343.0 23.5L343.1 24.5L343.2 25.6L343.2 26.6L343.3 27.7L343.4 28.7L343.4 29.8L343.5 30.8L343.6 31.9L343.7 32.9L343.8 34.0L343.9 35.0L344.0 36.1L344.0 37.1L344.1 38.1L344.2 39.2L344.3 40.2L344.4 41.3L344.5 42.3L344.5 43.4L344.6 44.4L344.7 45.5L344.8 46.5L344.9 47.6L345.0 48.6L345.2 49.6L345.3 50.7L345.5 51.7L345.6 52.8L345.7 53.8L345.8 54.8L346.0 55.9L346.1 56.9L346.2 58.0L346.3 59.0L346.5 60.1L346.6 61.1L346.7 62.1L346.8 63.2L347.0 64.2L347.1 65.3L347.2 66.3L347.4 67.3L347.6 68.4L347.8 69.4L348.0 70.4L348.1 71.5L348.3 72.5L348.5 73.5L348.7 74.6L348.8 75.6L349.0 76.7L349.1 77.7L349.3 78.7L349.4 79.8L349.5 80.8L349.7 81.9L349.8 82.9L350.0 83.9L350.2 85.0L350.4 86.0L350.6 87.0L350.8 88.1L351.0 89.1L351.2 90.1L351.4 91.2L351.6 92.2L351.9 93.2L352.1 94.2L352.4 95.2L352.6 96.3L352.9 97.3L353.2 98.3L353.5 99.3L353.8 100.3L354.1 101.3L354.5 102.3L354.8 103.3L355.2 104.3L355.5 105.3L355.9 106.3L356.2 107.2L356.6 108.2L357.0 109.2L357.3 110.2L357.7 111.2L358.1 112.2L358.5 113.1L358.9 114.1L359.3 115.1L359.7 116.1L360.2 117.0L360.6 118.0L361.1 118.9L361.5 119.8L362.0 120.7L362.6 121.6L363.1 122.5L363.7 123.4L364.3 124.3L364.9 125.1L365.5 126.0L366.1 126.8L366.8 127.7L367.4 128.5L368.1 129.3L368.7 130.2L369.4 131.0L370.0 131.8L370.7 132.6L371.4 133.4L372.1 134.2L372.8 135.0L373.5 135.8L374.2 136.6L374.9 137.3L375.6 138.1L376.4 138.8L377.1 139.5L377.9 140.2L378.7 140.9L379.5 141.6L380.3 142.3L381.1 143.0L381.9 143.6L382.8 144.3L383.6 144.9L384.4 145.5L385.3 146.2L386.2 146.8L387.0 147.4L387.9 148.0L388.7 148.5L389.6 149.1L390.5 149.7L391.4 150.3L392.3 150.8L393.2 151.4L394.1 151.9L395.0 152.5L395.9 153.0L396.9 153.5L397.8 153.9L398.7 154.4L399.7 154.8L400.6 155.2L401.6 155.6L402.6 156.0L403.6 156.3L404.6 156.7L405.6 157.0L406.6 157.4L407.6 157.7L408.6 158.0L409.6 158.3L410.6 158.6L411.6 158.8L412.6 159.1L413.6 159.4L414.7 159.6L415.7 159.9L416.7 160.1L417.7 160.4L418.8 160.6L419.8 160.8L420.8 161.1L421.8 161.3L422.9 161.5L423.9 161.7L424.9 161.9L426.0 162.1L427.0 162.2L428.0 162.4L429.1 162.6L430.1 162.7L431.1 162.9L432.2 163.0L433.2 163.2L434.3 163.3L435.3 163.5L436.3 163.6L437.4 163.7L438.4 163.9L439.5 164.0L440.5 164.1L441.6 164.2L442.6 164.4L443.6 164.5L444.7 164.6L445.7 164.7L446.8 164.8L447.8 165.0L448.9 165.1L449.9 165.2L451.0 165.3L452.0 165.4L453.0 165.5L454.1 165.6L455.1 165.7L456.2 165.8L457.2 165.9L458.3 166.0L459.3 166.1L460.4 166.2L461.4 166.3L462.4 166.4L463.5 166.5L464.5 166.7L465.6 166.8L466.6 166.9L467.7 167.0L468.7 167.1L469.8 167.2L470.8 167.3L471.8 167.5L472.9 167.6L473.9 167.7L475.0 167.8L476.0 167.9L477.1 168.0L478.1 168.1L479.1 168.3L480.2 168.4L481.2 168.5L482.3 168.6L483.3 168.7L484.4 168.8L485.4 168.9L486.5 169.0L487.5 169.1L488.5 169.2L489.6 169.3L490.6 169.4L491.7 169.5L492.7 169.6L493.8 169.7L494.8 169.8L495.9 169.9L496.9 169.9L498.0 170.0L499.0 170.1L500.0 170.2L501.1 170.3L502.1 170.4L503.2 170.4L504.2 170.5L505.3 170.6L506.3 170.7L507.4 170.8L508.4 170.8L509.5 170.9L510.5 171.0L511.6 171.1L512.6 171.1L513.7 171.2L514.7 171.3L515.8 171.4L516.8 171.4L517.9 171.5L518.9 171.6L519.9 171.6L521.0 171.7L522.0 171.8L523.1 171.8L524.1 171.9L525.2 171.9L526.2 172.0L527.3 172.1L528.3 172.1L529.4 172.2L530.4 172.2L531.5 172.3L532.5 172.3L533.6 172.4L534.6 172.5L535.7 172.5L536.7 172.6L537.8 172.6L538.8 172.7L539.9 172.7L540.9 172.8L542.0 172.8L543.0 172.9L544.1 172.9L545.1 173.0L546.2 173.0L547.2 173.1L548.3 173.1L549.3 173.2L550.4 173.2L551.4 173.2L552.5 173.3L553.5 173.3L554.6 173.4L555.6 173.4" fill="none" stroke="#aa28fa" stroke-width="0.75"/>
<path d="M352.1 94.0L352.1 94.4L352.2 94.7L352.3 95.0L352.4 95.4L352.5 95.7L352.6 96.1L352.7 96.4L352.8 96.8L352.9 97.1L353.0 97.5L353.1 97.8L353.2 98.2L353.3 98.5L353.4 98.8L353.5 99.2L353.6 99.5L353.7 99.9L353.8 100.2L353.9 100.6L354.0 100.9L354.1 101.2L354.2 101.6L354.3 101.9L354.5 102.3L354.6 102.6L354.7 102.9L354.8 103.3L354.9 103.6L355.0 104.0L355.2 104.3L355.3 104.6L355.4 105.0L355.5 105.3L355.6 105.7L355.8 106.0L355.9 106.3L356.0 106.7L356.1 107.0L356.3 107.3L356.4 107.7L356.5 108.0L356.6 108.3L356.8 108.7L356.9 109.0L357.0 109.3L357.1 109.7L357.3 110.0L357.4 110.4L357.5 110.7L357.6 111.0L357.8 111.4L357.9 111.7L358.0 112.0L358.2 112.4L358.3 112.7L358.4 113.0L358.6 113.4L358.7 113.7L358.8 114.0" fill="none" stroke="#aa28fa" stroke-width="1.26" stroke-linecap="round" stroke-linejoin="round"/>
<path d="M354.7 103.0L354.8 103.2L354.9 103.4L354.9 103.6L355.0 103.8L355.0 104.0L355.1 104.2L355.2 104.4L355.2 104.5L355.3 104.7L355.4 104.9L355.4 105.1L355.5 105.3L355.6 105.5L355.6 105.7L355.7 105.9L355.8 106.0L355.8 106.2L355.9 106.4L356.0 106.6L356.1 106.8L356.1 107.0L356.2 107.2L356.3 107.3L356.3 107.5L356.4 107.7L356.5 107.9L356.5 108.1L356.6 108.3L356.7 108.5L356.7 108.6L356.8 108.8L356.9 109.0L356.9 109.2L357.0 109.4L357.1 109.6L357.2 109.8L357.2 110.0L357.3 110.1L357.4 110.3L357.4 110.5L357.5 110.7L357.6 110.9L357.7 111.1L357.7 111.3L357.8 111.4L357.9 111.6L357.9 111.8L358.0 112.0L358.1 112.2L358.2 112.4L358.2 112.6L358.3 112.7L358.4 112.9L358.5 113.1L358.5 113.3L358.6 113.5L358.7 113.7L358.8 113.9L358.8 114.0" fill="none" stroke="#aa28fa" stroke-width="2.60" stroke-linecap="round" stroke-linejoin="round"/>
<path d="M358.1 112.1L358.3 112.6L358.5 113.1L358.7 113.6L358.9 114.1L359.1 114.6L359.3 115.1L359.5 115.6L359.8 116.2L360.0 116.7L360.2 117.1L360.4 117.6L360.7 118.1L360.9 118.6L361.2 119.1L361.4 119.6L361.7 120.1L361.9 120.5L362.2 121.0L362.5 121.5L362.8 121.9L363.0 122.4L363.3 122.9L363.6 123.3L363.9 123.8L364.3 124.2L364.6 124.7L364.9 125.1L365.2 125.6L365.5 126.0L365.9 126.5L366.2 126.9L366.5 127.3L366.9 127.8L367.2 128.2L367.5 128.7L367.9 129.1L368.2 129.5L368.5 129.9L368.9 130.4L369.2 130.8L369.6 131.2L369.9 131.7L370.3 132.1L370.6 132.5L371.0 132.9L371.3 133.3L371.7 133.8L372.0 134.2L372.4 134.6L372.8 135.0L373.1 135.4L373.5 135.8L373.9 136.2L374.2 136.6L374.6 137.0L375.0 137.4L375.4 137.8L375.8 138.2L376.2 138.6L376.6 139.0L376.9 139.3L377.3 139.7L377.7 140.1L378.1 140.4L378.6 140.8L379.0 141.2L379.4 141.5L379.8 141.9L380.2 142.2L380.6 142.6L381.1 142.9L381.5 143.3L381.9 143.6L382.4 144.0L382.8 144.3L383.2 144.6L383.7 145.0L384.1 145.3L384.6 145.6L385.0 145.9L385.4 146.3L385.9 146.6L386.3 146.9L386.8 147.2L387.2 147.5L387.7 147.8L388.1 148.1L388.6 148.4L389.0 148.7L389.5 149.0L390.0 149.3L390.4 149.7L390.9 150.0L391.3 150.2L391.8 150.5L392.3 150.8L392.7 151.1L393.2 151.4L393.7 151.7L394.2 152.0L394.6 152.3L395.1 152.5L395.6 152.8L396.1 153.1L396.6 153.3L397.1 153.6L397.5 153.8L398.0 154.1L398.5 154.3L399.0 154.5L399.5 154.7L400.0 154.9L400.5 155.2L401.0 155.4L401.5 155.6L402.0 155.8L402.5 156.0L403.0 156.1L403.6 156.3L404.1 156.5L404.6 156.7L405.1 156.9L405.6 157.0L406.2 157.2L406.7 157.4L407.2 157.6L407.7 157.7L408.3 157.9L408.8 158.0L409.3 158.2L409.8 158.3L410.4 158.5L410.9 158.6L411.4 158.8L412.0 158.9L412.5 159.1L413.0 159.2L413.5 159.3L414.1 159.5L414.6 159.6L415.1 159.7L415.7 159.9L416.2 160.0L416.7 160.1L417.3 160.3L417.8 160.4L418.3 160.5L418.9 160.6L419.4 160.7L419.9 160.9L420.5 161.0L421.0 161.1L421.5 161.2L422.1 161.3L422.6 161.4L423.2 161.5L423.7 161.6L424.2 161.7L424.8 161.8L425.3 161.9L425.9 162.0L426.4 162.1L426.9 162.2L427.5 162.3L428.0 162.4L428.5 162.5L429.1 162.6L429.6 162.7L430.2 162.7L430.7 162.8L431.2 162.9L431.8 163.0L432.3 163.1L432.9 163.1L433.4 163.2L434.0 163.3L434.5 163.4L435.0 163.4L435.6 163.5L436.1 163.6L436.7 163.6L437.2 163.7L437.8 163.8L438.3 163.8L438.8 163.9L439.4 164.0L439.9 164.0L440.5 164.1L441.0 164.2L441.6 164.2L442.1 164.3L442.7 164.4L443.2 164.4L443.7 164.5L444.3 164.6L444.8 164.6L445.4 164.7L445.9 164.7L446.5 164.8L447.0 164.9L447.6 164.9L448.1 165.0L448.6 165.0L449.2 165.1L449.7 165.2L450.3 165.2L450.8 165.3L451.4 165.3L451.9 165.4L452.5 165.4L453.0 165.5L453.5 165.6L454.1 165.6L454.6 165.7L455.2 165.7L455.7 165.8L456.3 165.8L456.8 165.9L457.4 165.9L457.9 166.0L458.4 166.0L459.0 166.1L459.5 166.1L460.1 166.2L460.6 166.3L461.2 166.3L461.7 166.4L462.3 166.4L462.8 166.5L463.4 166.5L463.9 166.6L464.4 166.7L465.0 166.7L465.5 166.8L466.1 166.8L466.6 166.9L467.2 166.9L467.7 167.0L468.3 167.1L468.8 167.1L469.3 167.2L469.9 167.2L470.4 167.3L471.0 167.4L471.5 167.4L472.1 167.5L472.6 167.5L473.1 167.6L473.7 167.7L474.2 167.7L474.8 167.8L475.3 167.8L475.9 167.9L476.4 168.0L477.0 168.0L477.5 168.1L478.0 168.1L478.6 168.2L479.1 168.3L479.7 168.3L480.2 168.4L480.8 168.4L481.3 168.5L481.9 168.5L482.4 168.6L482.9 168.7L483.5 168.7L484.0 168.8L484.6 168.8L485.1 168.9L485.7 168.9L486.2 169.0L486.8 169.0L487.3 169.1L487.9 169.1L488.4 169.2L488.9 169.3L489.5 169.3L490.0 169.4L490.6 169.4L491.1 169.5L491.7 169.5L492.2 169.5L492.8 169.6L493.3 169.6L493.8 169.7L494.4 169.7L494.9 169.8L495.5 169.8L496.0 169.9L496.6 169.9L497.1 170.0L497.7 170.0L498.2 170.1L498.8 170.1L499.3 170.1L499.8 170.2L500.4 170.2L500.9 170.3L501.5 170.3L502.0 170.4L502.6 170.4L503.1 170.4L503.7 170.5L504.2 170.5L504.8 170.6L505.3 170.6L505.9 170.7L506.4 170.7L506.9 170.7L507.5 170.8L508.0 170.8L508.6 170.9L509.1 170.9L509.7 170.9L510.2 171.0L510.8 171.0L511.3 171.1L511.9 171.1L512.4 171.1L513.0 171.2L513.5 171.2L514.0 171.2L514.6 171.3L515.1 171.3L515.7 171.4L516.2 171.4L516.8 171.4L517.3 171.5L517.9 171.5L518.4 171.5L519.0 171.6L519.5 171.6L520.1 171.6L520.6 171.7L521.1 171.7L521.7 171.7L522.2 171.8L522.8 171.8L523.3 171.8L523.9 171.9L524.4 171.9L525.0 171.9L525.5 172.0L526.1 172.0L526.6 172.0L527.2 172.1L527.7 172.1L528.3 172.1L528.8 172.1L529.3 172.2L529.9 172.2L530.4 172.2L531.0 172.3L531.5 172.3L532.1 172.3L532.6 172.4L533.2 172.4L533.7 172.4L534.3 172.4L534.8 172.5L535.4 172.5L535.9 172.5L536.5 172.6L537.0 172.6L537.5 172.6L538.1 172.6L538.6 172.7L539.2 172.7L539.7 172.7L540.3 172.7L540.8 172.8L541.4 172.8L541.9 172.8L542.5 172.9L543.0 172.9L543.6 172.9L544.1 172.9L544.7 173.0L545.2 173.0L545.8 173.0L546.3 173.0L546.8 173.0L547.4 173.1L547.9 173.1L548.5 173.1L549.0 173.1L549.6 173.2L550.1 173.2L550.7 173.2L551.2 173.2L551.8 173.3L552.3 173.3L552.9 173.3L553.4 173.3L554.0 173.3L554.5 173.4L555.1 173.4L555.6 173.4" fill="none" stroke="#aa28fa" stroke-width="4.20" stroke-linecap="round" stroke-linejoin="round"/>
<g fill="none" stroke="#aa28fa" stroke-width="0.65">
<path d="M340.43 19.70L345.26 19.70L342.84 15.77Z"/>
<path d="M340.85 28.89L345.68 28.89L343.27 24.96Z"/>
<path d="M341.42 35.95L346.25 35.95L343.83 32.03Z"/>
<path d="M341.98 43.02L346.81 43.02L344.40 39.09Z"/>
<path d="M342.55 49.38L347.38 49.38L344.96 45.45Z"/>
<path d="M343.11 53.62L347.94 53.62L345.53 49.69Z"/>
<path d="M343.54 57.15L348.37 57.15L345.95 53.23Z"/>
<path d="M343.96 60.69L348.79 60.69L346.37 56.76Z"/>
<path d="M344.38 64.22L349.21 64.22L346.80 60.29Z"/>
<path d="M344.81 67.76L349.64 67.76L347.22 63.83Z"/>
<path d="M345.37 70.58L350.20 70.58L347.79 66.65Z"/>
<path d="M345.80 73.41L350.63 73.41L348.21 69.48Z"/>
<path d="M346.22 75.53L351.05 75.53L348.64 71.60Z"/>
<path d="M346.50 77.65L351.33 77.65L348.92 73.72Z"/>
<path d="M346.52 77.74L351.35 77.74L348.93 73.81Z"/>
<path d="M346.86 80.31L351.69 80.31L349.27 76.38Z"/>
<path d="M347.19 82.80L352.02 82.80L349.60 78.87Z"/>
<path d="M347.56 85.21L352.39 85.21L349.97 81.28Z"/>
<path d="M347.96 87.55L352.79 87.55L350.38 83.62Z"/>
<path d="M348.39 89.81L353.22 89.81L350.81 85.88Z"/>
<path d="M348.85 91.99L353.68 91.99L351.26 88.07Z"/>
<path d="M349.32 94.11L354.15 94.11L351.73 90.18Z"/>
<path d="M349.81 96.14L354.64 96.14L352.22 92.22Z"/>
<path d="M350.32 98.11L355.15 98.11L352.73 94.18Z"/>
<path d="M350.86 100.01L355.69 100.01L353.28 96.09Z"/>
<path d="M351.43 101.85L356.26 101.85L353.85 97.93Z"/>
<path d="M352.01 103.63L356.84 103.63L354.43 99.71Z"/>
<path d="M352.60 105.36L357.43 105.36L355.02 101.43Z"/>
<path d="M353.19 107.02L358.02 107.02L355.61 103.09Z"/>
<path d="M353.78 108.63L358.61 108.63L356.19 104.70Z"/>
<path d="M354.36 110.19L359.19 110.19L356.77 106.26Z"/>
<path d="M354.93 111.71L359.76 111.71L357.34 107.78Z"/>
<path d="M355.50 113.18L360.33 113.18L357.91 109.25Z"/>
<path d="M356.07 114.61L360.90 114.61L358.48 110.68Z"/>
<path d="M356.64 115.99L361.47 115.99L359.06 112.06Z"/>
<path d="M357.22 117.32L362.05 117.32L359.63 113.39Z"/>
<path d="M357.80 118.60L362.63 118.60L360.21 114.67Z"/>
<path d="M358.40 119.86L363.23 119.86L360.82 115.93Z"/>
<path d="M359.03 121.10L363.86 121.10L361.45 117.17Z"/>
<path d="M359.69 122.31L364.52 122.31L362.11 118.38Z"/>
<path d="M360.40 123.50L365.23 123.50L362.81 119.58Z"/>
<path d="M361.15 124.68L365.98 124.68L363.57 120.75Z"/>
<path d="M361.94 125.84L366.77 125.84L364.36 121.92Z"/>
<path d="M362.76 126.99L367.59 126.99L365.18 123.06Z"/>
<path d="M363.60 128.12L368.43 128.12L366.02 124.20Z"/>
<path d="M364.45 129.25L369.28 129.25L366.87 125.32Z"/>
<path d="M365.31 130.35L370.14 130.35L367.73 126.43Z"/>
<path d="M366.17 131.45L371.00 131.45L368.59 127.53Z"/>
<path d="M367.04 132.55L371.87 132.55L369.46 128.62Z"/>
<path d="M367.93 133.64L372.76 133.64L370.35 129.71Z"/>
<path d="M368.83 134.72L373.66 134.72L371.25 130.79Z"/>
<path d="M369.75 135.79L374.58 135.79L372.16 131.86Z"/>
<path d="M370.68 136.84L375.51 136.84L373.10 132.91Z"/>
<path d="M371.63 137.87L376.46 137.87L374.05 133.95Z"/>
<path d="M372.60 138.89L377.43 138.89L375.01 134.96Z"/>
<path d="M373.58 139.87L378.41 139.87L376.00 135.95Z"/>
<path d="M374.58 140.83L379.41 140.83L377.00 136.91Z"/>
<path d="M375.61 141.78L380.44 141.78L378.02 137.85Z"/>
<path d="M376.65 142.70L381.48 142.70L379.07 138.78Z"/>
<path d="M377.72 143.62L382.55 143.62L380.13 139.69Z"/>
<path d="M378.81 144.51L383.64 144.51L381.22 140.59Z"/>
<path d="M379.91 145.39L384.74 145.39L382.32 141.46Z"/>
<path d="M381.02 146.25L385.85 146.25L383.44 142.32Z"/>
<path d="M382.15 147.09L386.98 147.09L384.56 143.17Z"/>
<path d="M383.28 147.91L388.11 147.91L385.70 143.99Z"/>
<path d="M384.43 148.71L389.26 148.71L386.84 144.79Z"/>
<path d="M385.58 149.50L390.41 149.50L387.99 145.57Z"/>
<path d="M386.74 150.28L391.57 150.28L389.16 146.35Z"/>
<path d="M387.91 151.05L392.74 151.05L390.33 147.13Z"/>
<path d="M389.10 151.82L393.93 151.82L391.52 147.89Z"/>
<path d="M390.30 152.57L395.13 152.57L392.71 148.64Z"/>
<path d="M391.51 153.29L396.34 153.29L393.92 149.37Z"/>
<path d="M392.73 154.00L397.56 154.00L395.15 150.07Z"/>
<path d="M393.96 154.67L398.79 154.67L396.38 150.74Z"/>
<path d="M395.21 155.31L400.04 155.31L397.62 151.38Z"/>
<path d="M396.46 155.91L401.29 155.91L398.88 151.98Z"/>
<path d="M397.73 156.46L402.56 156.46L400.14 152.53Z"/>
<path d="M399.01 156.98L403.84 156.98L401.42 153.06Z"/>
<path d="M400.31 157.48L405.14 157.48L402.72 153.56Z"/>
<path d="M401.62 157.96L406.45 157.96L404.04 154.03Z"/>
<path d="M402.95 158.42L407.78 158.42L405.37 154.49Z"/>
<path d="M404.29 158.86L409.12 158.86L406.71 154.93Z"/>
<path d="M405.64 159.28L410.47 159.28L408.05 155.35Z"/>
<path d="M406.99 159.68L411.82 159.68L409.40 155.75Z"/>
<path d="M408.34 160.06L413.17 160.06L410.76 156.13Z"/>
<path d="M409.69 160.43L414.52 160.43L412.11 156.50Z"/>
<path d="M411.04 160.78L415.87 160.78L413.46 156.85Z"/>
<path d="M412.40 161.13L417.23 161.13L414.81 157.20Z"/>
<path d="M413.76 161.46L418.59 161.46L416.17 157.53Z"/>
<path d="M415.12 161.78L419.95 161.78L417.53 157.86Z"/>
<path d="M416.49 162.10L421.32 162.10L418.90 158.17Z"/>
<path d="M417.86 162.40L422.69 162.40L420.27 158.47Z"/>
<path d="M419.23 162.69L424.06 162.69L421.64 158.76Z"/>
<path d="M420.60 162.96L425.43 162.96L423.02 159.04Z"/>
<path d="M421.98 163.23L426.81 163.23L424.40 159.30Z"/>
<path d="M423.36 163.48L428.19 163.48L425.77 159.55Z"/>
<path d="M424.74 163.72L429.57 163.72L427.15 159.79Z"/>
<path d="M426.11 163.94L430.94 163.94L428.53 160.01Z"/>
<path d="M427.50 164.16L432.33 164.16L429.91 160.23Z"/>
<path d="M428.88 164.36L433.71 164.36L431.29 160.44Z"/>
<path d="M430.26 164.56L435.09 164.56L432.68 160.64Z"/>
<path d="M431.65 164.76L436.48 164.76L434.07 160.83Z"/>
<path d="M433.04 164.94L437.87 164.94L435.45 161.01Z"/>
<path d="M434.43 165.12L439.26 165.12L436.84 161.19Z"/>
<path d="M435.82 165.30L440.65 165.30L438.23 161.37Z"/>
<path d="M437.21 165.47L442.04 165.47L439.62 161.54Z"/>
<path d="M438.60 165.63L443.43 165.63L441.02 161.71Z"/>
<path d="M439.99 165.80L444.82 165.80L442.41 161.87Z"/>
<path d="M441.38 165.96L446.21 165.96L443.80 162.03Z"/>
<path d="M442.78 166.12L447.61 166.12L445.19 162.19Z"/>
<path d="M444.17 166.28L449.00 166.28L446.58 162.35Z"/>
<path d="M445.56 166.43L450.39 166.43L447.97 162.51Z"/>
<path d="M446.95 166.58L451.78 166.58L449.36 162.66Z"/>
<path d="M448.34 166.73L453.17 166.73L450.76 162.80Z"/>
<path d="M449.73 166.87L454.56 166.87L452.15 162.94Z"/>
<path d="M451.13 167.01L455.96 167.01L453.54 163.08Z"/>
<path d="M452.52 167.15L457.35 167.15L454.94 163.22Z"/>
<path d="M453.92 167.28L458.75 167.28L456.33 163.35Z"/>
<path d="M455.31 167.42L460.14 167.42L457.72 163.49Z"/>
<path d="M456.70 167.56L461.53 167.56L459.12 163.63Z"/>
<path d="M458.09 167.70L462.92 167.70L460.51 163.77Z"/>
<path d="M459.49 167.84L464.32 167.84L461.90 163.91Z"/>
<path d="M460.88 167.99L465.71 167.99L463.29 164.06Z"/>
<path d="M462.27 168.14L467.10 168.14L464.69 164.21Z"/>
<path d="M463.66 168.28L468.49 168.28L466.08 164.36Z"/>
<path d="M465.06 168.44L469.89 168.44L467.47 164.51Z"/>
<path d="M466.45 168.59L471.28 168.59L468.86 164.66Z"/>
<path d="M467.84 168.74L472.67 168.74L470.26 164.81Z"/>
<path d="M469.23 168.89L474.06 168.89L471.65 164.97Z"/>
<path d="M470.62 169.05L475.45 169.05L473.04 165.12Z"/>
<path d="M472.02 169.20L476.85 169.20L474.43 165.27Z"/>
<path d="M473.41 169.35L478.24 169.35L475.82 165.43Z"/>
<path d="M474.80 169.51L479.63 169.51L477.21 165.58Z"/>
<path d="M476.19 169.66L481.02 169.66L478.61 165.73Z"/>
<path d="M477.58 169.81L482.41 169.81L480.00 165.88Z"/>
<path d="M478.98 169.95L483.81 169.95L481.39 166.03Z"/>
<path d="M480.37 170.10L485.20 170.10L482.78 166.17Z"/>
<path d="M481.76 170.24L486.59 170.24L484.18 166.32Z"/>
<path d="M483.15 170.38L487.98 170.38L485.57 166.46Z"/>
<path d="M484.55 170.52L489.38 170.52L486.96 166.59Z"/>
<path d="M485.94 170.66L490.77 170.66L488.36 166.73Z"/>
<path d="M487.33 170.79L492.16 170.79L489.75 166.86Z"/>
<path d="M488.73 170.91L493.56 170.91L491.14 166.99Z"/>
<path d="M490.12 171.04L494.95 171.04L492.54 167.11Z"/>
<path d="M491.52 171.15L496.35 171.15L493.93 167.23Z"/>
<path d="M492.91 171.27L497.74 171.27L495.33 167.34Z"/>
<path d="M494.31 171.39L499.14 171.39L496.72 167.46Z"/>
<path d="M495.70 171.50L500.53 171.50L498.12 167.57Z"/>
<path d="M497.10 171.62L501.93 171.62L499.51 167.69Z"/>
<path d="M498.49 171.73L503.32 171.73L500.91 167.80Z"/>
<path d="M499.89 171.84L504.72 171.84L502.30 167.91Z"/>
<path d="M501.28 171.95L506.11 171.95L503.70 168.02Z"/>
<path d="M502.68 172.05L507.51 172.05L505.09 168.12Z"/>
<path d="M504.08 172.16L508.91 172.16L506.49 168.23Z"/>
<path d="M505.47 172.26L510.30 172.26L507.89 168.33Z"/>
<path d="M506.87 172.36L511.70 172.36L509.28 168.44Z"/>
<path d="M508.27 172.46L513.10 172.46L510.68 168.54Z"/>
<path d="M509.66 172.56L514.49 172.56L512.08 168.63Z"/>
<path d="M511.06 172.66L515.89 172.66L513.47 168.73Z"/>
<path d="M512.46 172.75L517.29 172.75L514.87 168.83Z"/>
<path d="M513.85 172.85L518.68 172.85L516.27 168.92Z"/>
<path d="M515.25 172.94L520.08 172.94L517.67 169.01Z"/>
<path d="M516.65 173.03L521.48 173.03L519.06 169.10Z"/>
<path d="M518.04 173.12L522.87 173.12L520.46 169.19Z"/>
<path d="M519.44 173.20L524.27 173.20L521.86 169.27Z"/>
<path d="M520.84 173.29L525.67 173.29L523.25 169.36Z"/>
<path d="M522.24 173.37L527.07 173.37L524.65 169.44Z"/>
<path d="M523.63 173.45L528.46 173.45L526.05 169.52Z"/>
<path d="M525.03 173.53L529.86 173.53L527.45 169.60Z"/>
<path d="M526.43 173.61L531.26 173.61L528.84 169.68Z"/>
<path d="M527.83 173.68L532.66 173.68L530.24 169.75Z"/>
<path d="M529.22 173.76L534.05 173.76L531.64 169.83Z"/>
<path d="M530.62 173.83L535.45 173.83L533.04 169.91Z"/>
<path d="M532.02 173.91L536.85 173.91L534.44 169.98Z"/>
<path d="M533.42 173.98L538.25 173.98L535.83 170.05Z"/>
<path d="M534.82 174.05L539.65 174.05L537.23 170.12Z"/>
<path d="M536.22 174.12L541.05 174.12L538.63 170.19Z"/>
<path d="M537.61 174.19L542.44 174.19L540.03 170.26Z"/>
<path d="M539.01 174.26L543.84 174.26L541.43 170.33Z"/>
<path d="M540.41 174.33L545.24 174.33L542.83 170.40Z"/>
<path d="M541.81 174.39L546.64 174.39L544.22 170.46Z"/>
<path d="M543.21 174.45L548.04 174.45L545.62 170.53Z"/>
<path d="M544.61 174.52L549.44 174.52L547.02 170.59Z"/>
<path d="M546.01 174.58L550.84 174.58L548.42 170.65Z"/>
<path d="M547.40 174.63L552.23 174.63L549.82 170.71Z"/>
<path d="M548.80 174.69L553.63 174.69L551.22 170.76Z"/>
<path d="M550.20 174.75L555.03 174.75L552.62 170.82Z"/>
<path d="M551.60 174.80L556.43 174.80L554.02 170.87Z"/>
<path d="M553.00 174.85L557.83 174.85L555.42 170.92Z"/>
</g>
<rect x="432.6" y="29.6" width="111.89999999999998" height="39.6" fill="#fff" stroke="#000" stroke-width="1.15"/>
<path d="M439.6 36.9H472.3" stroke="#0a32fa" stroke-width="0.7"/>
<g fill="none" stroke="#0a32fa" stroke-width="0.7"><circle cx="455.90" cy="36.90" r="3.35"/></g>
<text transform="translate(478.6 40.90) scale(1 1)" font-size="10.0">Recompute</text>
<path d="M439.6 49.3H472.3" stroke="#aa28fa" stroke-width="0.7"/>
<g fill="none" stroke="#aa28fa" stroke-width="0.7"><path d="M452.05 51.63L459.75 51.63L455.90 45.36Z"/></g>
<text transform="translate(478.6 53.30) scale(1 1)" font-size="10.0">Warm−restart</text>
<path d="M439.6 61.8H472.3" stroke="#3cfa1e" stroke-width="0.7"/>
<g fill="none" stroke="#3cfa1e" stroke-width="0.7"><path d="M452.05 59.47L459.75 59.47L455.90 65.74Z"/></g>
<text transform="translate(478.6 65.80) scale(1 1)" font-size="10.0">Our method</text>
<text transform="translate(301.3 96.4) rotate(-90)" font-size="11.65" text-anchor="middle">Relative error</text>
<text x="462.1" y="208.3" font-size="11.65" text-anchor="middle">Execution time</text>
<text x="454.6" y="227.8" font-size="16" font-weight="bold" style="font-family:'Liberation Serif',serif;stroke-width:0.1px" text-anchor="middle">(b)</text>
<rect x="52.0" y="254.5" width="221.85000000000002" height="162.35000000000002" fill="none" stroke="#000" stroke-width="1.5"/>
<path d="M52.1 416.85v-2.2M52.1 254.5v2.2M96.45 416.85v-2.2M96.45 254.5v2.2M140.8 416.85v-2.2M140.8 254.5v2.2M185.15 416.85v-2.2M185.15 254.5v2.2M229.5 416.85v-2.2M229.5 254.5v2.2M273.85 416.85v-2.2M273.85 254.5v2.2M52.0 271.0h2.2M273.85 271.0h-2.2M52.0 293.87h2.2M273.85 293.87h-2.2M52.0 316.74h2.2M273.85 316.74h-2.2M52.0 339.61h2.2M273.85 339.61h-2.2M52.0 362.48h2.2M273.85 362.48h-2.2M52.0 385.35h2.2M273.85 385.35h-2.2M52.0 408.22h2.2M273.85 408.22h-2.2" stroke="#000" stroke-width="1.15" fill="none"/>
<text x="50.70" y="428.95" font-size="9.9" text-anchor="middle">0</text>
<text x="96.45" y="428.95" font-size="9.9" text-anchor="middle">50</text>
<text x="140.80" y="428.95" font-size="9.9" text-anchor="middle">100</text>
<text x="185.35" y="428.95" font-size="9.9" text-anchor="middle">150</text>
<text x="229.70" y="428.95" font-size="9.9" text-anchor="middle">200</text>
<text x="274.15" y="428.95" font-size="9.9" text-anchor="middle">250</text>
<text x="47.9" y="273.90000000000003" font-size="9.9" text-anchor="end">0.0243</text>
<text x="47.9" y="296.6" font-size="9.9" text-anchor="end">0.0242</text>
<text x="47.9" y="319.3" font-size="9.9" text-anchor="end">0.0242</text>
<text x="47.9" y="342.0" font-size="9.9" text-anchor="end">0.0241</text>
<text x="47.9" y="364.70000000000005" font-size="9.9" text-anchor="end">0.0241</text>
<text x="47.9" y="387.40000000000003" font-size="9.9" text-anchor="end">0.024</text>
<text x="47.9" y="410.1" font-size="9.9" text-anchor="end">0.024</text>
<path d="M98.7 254.5L98.9 255.2L99.2 256.0L99.4 256.7L99.7 257.4L99.9 258.2L100.2 258.9L100.4 259.7L100.7 260.4L100.9 261.1L101.2 261.9L101.4 262.6L101.7 263.3L101.9 264.1L102.2 264.8L102.4 265.6L102.7 266.3L102.9 267.0L103.2 267.8L103.4 268.5L103.6 269.2L103.9 270.0L104.1 270.7L104.4 271.5L104.6 272.2L104.8 272.9L105.1 273.7L105.3 274.4L105.6 275.2L105.8 275.9L106.1 276.6L106.4 277.4L106.6 278.1L106.9 278.8L107.2 279.5L107.5 280.3L107.8 281.0L108.1 281.7L108.4 282.4L108.7 283.1L109.0 283.8L109.3 284.5L109.7 285.2L110.0 285.9L110.3 286.6L110.7 287.3L111.0 288.0L111.3 288.7L111.7 289.4L112.0 290.1L112.3 290.8L112.7 291.6L113.0 292.3L113.3 293.0L113.7 293.7L114.0 294.4L114.3 295.1L114.7 295.8L115.0 296.5L115.4 297.1L115.8 297.8L116.1 298.5L116.5 299.2L116.9 299.8L117.3 300.5L117.8 301.2L118.2 301.8L118.6 302.5L119.1 303.1L119.5 303.7L119.9 304.4L120.4 305.0L120.8 305.6L121.3 306.3L121.8 306.9L122.2 307.5L122.7 308.1L123.2 308.8L123.7 309.4L124.1 310.0L124.6 310.6L125.1 311.2L125.6 311.8L126.1 312.4L126.6 313.0L127.1 313.6L127.6 314.2L128.1 314.8L128.6 315.4L129.1 316.0L129.6 316.6L130.1 317.2L130.6 317.8L131.1 318.4L131.6 318.9L132.1 319.5L132.6 320.1L133.1 320.7L133.6 321.3L134.1 321.9L134.6 322.5L135.2 323.1L135.7 323.6L136.2 324.2L136.7 324.8L137.3 325.3L137.8 325.9L138.4 326.4L138.9 327.0L139.5 327.5L140.1 328.0L140.7 328.6L141.2 329.1L141.8 329.6L142.4 330.1L143.0 330.6L143.6 331.1L144.2 331.6L144.8 332.1L145.4 332.6L146.0 333.1L146.6 333.6L147.2 334.1L147.8 334.6L148.4 335.1L149.0 335.6L149.6 336.1L150.2 336.6L150.8 337.1L151.4 337.6L152.0 338.1L152.6 338.6L153.2 339.0L153.8 339.5L154.4 340.0L155.0 340.5L155.6 340.9L156.2 341.4L156.9 341.9L157.5 342.4L158.1 342.8L158.7 343.3L159.4 343.7L160.0 344.2L160.6 344.7L161.2 345.1L161.8 345.6L162.5 346.1L163.0 346.6L163.6 347.1L164.2 347.6L164.8 348.2L165.3 348.7L165.9 349.2L166.5 349.7L167.1 350.2L167.7 350.7L168.3 351.2L168.9 351.7L169.5 352.2L170.1 352.7L170.7 353.1L171.4 353.6L172.0 354.1L172.6 354.5L173.2 355.0L173.9 355.5L174.5 355.9L175.1 356.4L175.7 356.8L176.4 357.3L177.0 357.7L177.6 358.2L178.3 358.6L178.9 359.1L179.5 359.6L180.2 360.0L180.8 360.4L181.5 360.9L182.1 361.3L182.8 361.6L183.5 362.0L184.2 362.3L184.9 362.6L185.6 362.9L186.3 363.3L187.1 363.6L187.7 363.9L188.4 364.3L189.1 364.6L189.8 365.0L190.5 365.4L191.2 365.7L191.9 366.1L192.6 366.4L193.3 366.8L194.0 367.1L194.7 367.4L195.4 367.8L196.1 368.1L196.8 368.4L197.5 368.7L198.3 369.0L199.0 369.2L199.7 369.5L200.4 369.8L201.2 370.0L201.9 370.3L202.6 370.6L203.4 370.8L204.1 371.1L204.8 371.4L205.5 371.7L206.3 372.0L207.0 372.3L207.7 372.5L208.4 372.8L209.2 373.0L209.9 373.2L210.7 373.4L211.4 373.7L212.2 373.9L212.9 374.1L213.7 374.3L214.4 374.6L215.1 374.9L215.8 375.1L216.6 375.4L217.3 375.7L218.0 376.0L218.8 376.2L219.5 376.5L220.2 376.7L221.0 377.0L221.7 377.2L222.4 377.5L223.2 377.7L223.9 378.0L224.7 378.2L225.4 378.4L226.2 378.6L226.9 378.7L227.7 378.9L228.5 379.0L229.2 379.2L230.0 379.4L230.7 379.5L231.5 379.7L232.3 379.9L233.0 380.0L233.8 380.2L234.5 380.3L235.3 380.4L236.1 380.5L236.9 380.7L237.6 380.8L238.4 380.9L239.2 381.0L239.9 381.1L240.7 381.2L241.5 381.3L242.2 381.5L243.0 381.6L243.8 381.8L244.5 381.9L245.3 382.0L246.1 382.1L246.8 382.2L247.6 382.3L248.4 382.4L249.2 382.4L249.9 382.5L250.7 382.6L251.5 382.7L252.2 382.8L253.0 382.9L253.8 382.9L254.6 383.0L255.3 383.1L256.1 383.2L256.9 383.3L257.7 383.3L258.4 383.4L259.2 383.5L260.0 383.6L260.8 383.7L261.5 383.8L262.3 383.8L263.1 383.9L263.8 384.0L264.6 384.0L265.4 384.1L266.2 384.1L266.9 384.2L267.7 384.2L268.5 384.3L269.3 384.3L270.0 384.4L270.8 384.4L271.6 384.5" fill="none" stroke="#0a32fa" stroke-width="0.75"/>
<g fill="none" stroke="#0a32fa" stroke-width="0.85">
<circle cx="102.50" cy="265.80" r="2.10"/>
<circle cx="107.20" cy="279.60" r="2.10"/>
<circle cx="111.80" cy="289.70" r="2.10"/>
<circle cx="116.20" cy="298.60" r="2.10"/>
<circle cx="121.10" cy="306.00" r="2.10"/>
<circle cx="126.00" cy="312.30" r="2.10"/>
<circle cx="130.80" cy="318.00" r="2.10"/>
<circle cx="135.00" cy="322.90" r="2.10"/>
<circle cx="139.50" cy="327.50" r="2.10"/>
<circle cx="144.10" cy="331.50" r="2.10"/>
<circle cx="148.60" cy="335.30" r="2.10"/>
<circle cx="153.00" cy="338.90" r="2.10"/>
<circle cx="157.40" cy="342.30" r="2.10"/>
<circle cx="162.10" cy="345.80" r="2.10"/>
<circle cx="167.40" cy="350.50" r="2.10"/>
<circle cx="172.30" cy="354.30" r="2.10"/>
<circle cx="177.50" cy="358.10" r="2.10"/>
<circle cx="182.20" cy="361.30" r="2.10"/>
<circle cx="187.50" cy="363.80" r="2.10"/>
<circle cx="192.30" cy="366.30" r="2.10"/>
<circle cx="197.60" cy="368.70" r="2.10"/>
<circle cx="203.30" cy="370.80" r="2.10"/>
<circle cx="208.20" cy="372.70" r="2.10"/>
<circle cx="213.90" cy="374.40" r="2.10"/>
<circle cx="217.50" cy="375.80" r="2.10"/>
<circle cx="221.30" cy="377.10" r="2.10"/>
<circle cx="225.50" cy="378.40" r="2.10"/>
<circle cx="229.30" cy="379.20" r="2.10"/>
<circle cx="233.30" cy="380.10" r="2.10"/>
<circle cx="237.10" cy="380.70" r="2.10"/>
<circle cx="241.30" cy="381.30" r="2.10"/>
<circle cx="245.10" cy="382.00" r="2.10"/>
<circle cx="248.70" cy="382.40" r="2.10"/>
<circle cx="252.50" cy="382.80" r="2.10"/>
<circle cx="256.10" cy="383.20" r="2.10"/>
<circle cx="259.30" cy="383.50" r="2.10"/>
<circle cx="262.90" cy="383.90" r="2.10"/>
<circle cx="265.60" cy="384.10" r="2.10"/>
<circle cx="268.80" cy="384.30" r="2.10"/>
<circle cx="271.60" cy="384.50" r="2.10"/>
</g>
<path d="M62.4 254.5L62.4 255.5L62.5 256.5L62.5 257.5L62.6 258.5L62.6 259.5L62.7 260.5L62.7 261.5L62.8 262.5L62.9 263.5L63.0 264.5L63.0 265.5L63.1 266.5L63.2 267.5L63.3 268.5L63.4 269.4L63.5 270.4L63.6 271.4L63.7 272.4L63.8 273.4L63.9 274.4L64.0 275.4L64.1 276.4L64.2 277.4L64.3 278.3L64.5 279.3L64.6 280.3L64.7 281.3L64.9 282.3L65.1 283.3L65.2 284.3L65.4 285.2L65.6 286.2L65.7 287.2L65.9 288.2L66.1 289.2L66.3 290.2L66.5 291.1L66.7 292.1L66.9 293.1L67.1 294.1L67.3 295.1L67.5 296.0L67.7 297.0L67.9 298.0L68.2 299.0L68.4 299.9L68.6 300.9L68.8 301.9L69.0 302.9L69.2 303.8L69.5 304.8L69.7 305.8L69.9 306.7L70.1 307.7L70.4 308.7L70.6 309.6L70.9 310.6L71.1 311.6L71.4 312.5L71.6 313.5L71.9 314.5L72.2 315.4L72.5 316.4L72.7 317.4L73.0 318.3L73.3 319.3L73.6 320.2L73.9 321.2L74.2 322.1L74.5 323.1L74.8 324.0L75.1 325.0L75.4 325.9L75.8 326.9L76.1 327.8L76.4 328.7L76.8 329.7L77.1 330.6L77.5 331.6L77.8 332.5L78.2 333.4L78.6 334.3L78.9 335.3L79.3 336.2L79.7 337.1L80.1 338.0L80.5 338.9L81.0 339.8L81.4 340.7L81.8 341.6L82.3 342.5L82.7 343.4L83.2 344.3L83.7 345.1L84.2 346.0L84.7 346.9L85.2 347.7L85.8 348.6L86.3 349.4L86.8 350.2L87.4 351.1L87.9 351.9L88.5 352.8L89.0 353.6L89.6 354.4L90.1 355.2L90.7 356.1L91.3 356.9L91.9 357.7L92.5 358.5L93.1 359.3L93.7 360.1L94.3 360.8L94.9 361.6L95.6 362.4L96.3 363.1L97.0 363.8L97.7 364.6L98.4 365.2L99.1 365.9L99.9 366.5L100.6 367.2L101.5 367.8L102.3 368.3L103.1 368.9L103.9 369.5L104.8 370.0L105.6 370.5L106.5 371.0L107.4 371.5L108.2 372.0L109.1 372.5L110.0 373.0L110.8 373.5L111.7 374.0L112.6 374.4L113.5 374.8L114.4 375.2L115.4 375.5L116.3 375.8L117.3 376.0L118.3 376.3L119.2 376.6L120.2 376.9L121.1 377.2L122.1 377.6L123.0 377.9L124.0 378.2L124.9 378.4L125.9 378.7L126.8 379.0L127.8 379.3L128.7 379.6L129.7 379.8L130.7 380.0L131.7 380.2L132.7 380.3L133.6 380.5L134.6 380.7L135.6 380.9L136.5 381.2L137.5 381.5L138.5 381.7L139.4 381.9L140.4 382.1L141.4 382.3L142.4 382.5L143.4 382.7L144.3 382.8L145.3 383.0L146.3 383.2L147.3 383.4L148.3 383.6L149.2 383.8L150.2 384.0L151.2 384.1L152.2 384.3L153.2 384.5L154.2 384.6L155.1 384.8L156.1 385.0L157.1 385.3L158.0 385.7L159.0 386.0L159.9 386.2L160.9 386.3L161.9 386.4L162.8 386.5L163.8 386.7L164.8 386.8L165.8 386.9L166.8 387.0L167.8 387.0L168.7 387.1L169.7 387.2L170.7 387.3L171.7 387.4L172.7 387.4L173.7 387.5L174.7 387.6L175.7 387.6L176.7 387.7L177.7 387.8L178.7 387.8L179.7 387.9L180.7 387.9L181.7 388.0L182.7 388.0L183.7 388.1L184.7 388.1L185.7 388.2L186.7 388.2L187.7 388.2L188.7 388.3L189.7 388.3L190.7 388.4L191.7 388.4L192.7 388.5L193.7 388.5L194.7 388.6L195.7 388.6L196.7 388.6L197.7 388.7L198.7 388.7L199.7 388.8L200.7 388.8L201.7 388.9L202.7 388.9L203.7 389.0L204.7 389.0L205.7 389.1L206.7 389.1L207.7 389.2L208.7 389.2L209.7 389.3L210.7 389.3L211.7 389.4L212.7 389.4L213.7 389.5L214.7 389.5L215.7 389.6L216.7 389.6L217.7 389.7L218.7 389.7L219.7 389.7L220.7 389.8L221.7 389.8L222.7 389.9L223.7 389.9L224.6 390.0L225.6 390.0L226.6 390.0L227.6 390.1L228.6 390.1L229.6 390.1L230.6 390.2L231.6 390.2L232.6 390.3L233.6 390.3L234.6 390.3L235.6 390.4L236.6 390.4L237.6 390.4L238.6 390.5L239.6 390.5L240.6 390.5L241.6 390.5L242.6 390.6L243.6 390.6L244.6 390.6L245.6 390.7L246.6 390.7L247.6 390.7L248.6 390.7L249.6 390.8L250.6 390.8L251.6 390.8L252.6 390.9L253.6 390.9L254.6 390.9L255.5 390.9L256.5 391.0L257.5 391.0L258.5 391.0L259.5 391.0L260.5 391.1L261.5 391.1L262.5 391.1L263.5 391.1L264.5 391.1L265.5 391.2L266.5 391.2L267.5 391.2L268.5 391.2L269.5 391.2L270.5 391.3L271.5 391.3L272.5 391.3L273.5 391.3" fill="none" stroke="#aa28fa" stroke-width="0.75"/>
<g fill="none" stroke="#aa28fa" stroke-width="0.85">
<path d="M61.38 275.36L66.22 275.36L63.80 271.43Z"/>
<path d="M67.18 306.86L72.02 306.86L69.60 302.93Z"/>
<path d="M73.08 327.56L77.92 327.56L75.50 323.63Z"/>
<path d="M79.38 343.06L84.22 343.06L81.80 339.13Z"/>
<path d="M85.68 353.66L90.52 353.66L88.10 349.73Z"/>
<path d="M91.68 362.06L96.52 362.06L94.10 358.13Z"/>
<path d="M96.68 367.36L101.52 367.36L99.10 363.43Z"/>
<path d="M101.58 370.96L106.42 370.96L104.00 367.03Z"/>
<path d="M106.38 373.76L111.22 373.76L108.80 369.83Z"/>
<path d="M111.08 376.26L115.92 376.26L113.50 372.33Z"/>
<path d="M116.38 377.96L121.22 377.96L118.80 374.03Z"/>
<path d="M121.68 379.66L126.52 379.66L124.10 375.73Z"/>
<path d="M126.89 381.16L131.72 381.16L129.30 377.23Z"/>
<path d="M132.19 382.16L137.01 382.16L134.60 378.23Z"/>
<path d="M136.39 383.26L141.22 383.26L138.80 379.33Z"/>
<path d="M140.69 384.06L145.51 384.06L143.10 380.13Z"/>
<path d="M144.91 384.86L149.74 384.86L147.33 380.94Z"/>
<path d="M147.92 385.44L152.75 385.44L150.33 381.52Z"/>
<path d="M150.93 385.95L155.76 385.95L153.35 382.02Z"/>
<path d="M153.93 386.53L158.76 386.53L156.35 382.60Z"/>
<path d="M156.92 387.53L161.75 387.53L159.33 383.60Z"/>
<path d="M159.89 387.94L164.72 387.94L162.31 384.02Z"/>
<path d="M162.89 388.27L167.72 388.27L165.31 384.34Z"/>
<path d="M165.91 388.56L170.74 388.56L168.32 384.63Z"/>
<path d="M168.94 388.81L173.77 388.81L171.36 384.88Z"/>
<path d="M171.92 389.02L176.75 389.02L174.33 385.09Z"/>
<path d="M174.90 389.20L179.73 389.20L177.32 385.27Z"/>
<path d="M177.90 389.36L182.73 389.36L180.31 385.44Z"/>
<path d="M180.90 389.51L185.73 389.51L183.31 385.58Z"/>
<path d="M183.90 389.65L188.73 389.65L186.31 385.72Z"/>
<path d="M186.90 389.78L191.73 389.78L189.32 385.85Z"/>
<path d="M189.90 389.90L194.73 389.90L192.32 385.98Z"/>
<path d="M192.90 390.03L197.73 390.03L195.31 386.11Z"/>
<path d="M195.89 390.17L200.72 390.17L198.30 386.25Z"/>
<path d="M198.94 390.33L203.77 390.33L201.36 386.40Z"/>
<path d="M201.92 390.48L206.75 390.48L204.34 386.55Z"/>
<path d="M204.90 390.63L209.73 390.63L207.31 386.70Z"/>
<path d="M207.95 390.77L212.78 390.77L210.37 386.85Z"/>
<path d="M210.93 390.91L215.76 390.91L213.35 386.99Z"/>
<path d="M213.91 391.05L218.74 391.05L216.33 387.12Z"/>
<path d="M216.89 391.18L221.72 391.18L219.31 387.26Z"/>
<path d="M219.95 391.31L224.78 391.31L222.36 387.39Z"/>
<path d="M222.93 391.44L227.76 391.44L225.34 387.51Z"/>
<path d="M225.91 391.55L230.74 391.55L228.33 387.63Z"/>
<path d="M228.89 391.67L233.72 391.67L231.31 387.74Z"/>
<path d="M231.95 391.78L236.78 391.78L234.36 387.85Z"/>
<path d="M234.93 391.87L239.76 391.87L237.34 387.95Z"/>
<path d="M237.91 391.97L242.74 391.97L240.32 388.04Z"/>
<path d="M240.89 392.06L245.72 392.06L243.31 388.13Z"/>
<path d="M243.95 392.15L248.78 392.15L246.36 388.22Z"/>
<path d="M246.93 392.23L251.76 392.23L249.34 388.30Z"/>
<path d="M249.91 392.31L254.74 392.31L252.32 388.38Z"/>
<path d="M252.89 392.39L257.72 392.39L255.31 388.46Z"/>
<path d="M255.95 392.46L260.78 392.46L258.36 388.53Z"/>
<path d="M258.93 392.53L263.76 392.53L261.35 388.60Z"/>
<path d="M261.91 392.59L266.74 392.59L264.33 388.66Z"/>
<path d="M264.90 392.65L269.73 392.65L267.31 388.72Z"/>
<path d="M267.95 392.71L272.78 392.71L270.37 388.78Z"/>
<path d="M270.94 392.76L275.77 392.76L273.35 388.83Z"/>
</g>
<path d="M53.3 256.8L53.3 257.9L53.3 259.0L53.3 260.0L53.3 261.1L53.3 262.2L53.4 263.3L53.4 264.4L53.4 265.4L53.5 266.5L53.5 267.6L53.5 268.7L53.6 269.7L53.6 270.8L53.6 271.9L53.7 273.0L53.7 274.1L53.8 275.1L53.8 276.2L53.9 277.3L53.9 278.4L54.0 279.4L54.0 280.5L54.1 281.6L54.2 282.7L54.3 283.7L54.4 284.8L54.5 285.9L54.6 287.0L54.7 288.0L54.8 289.1L54.9 290.2L54.9 291.3L55.0 292.3L55.0 293.4L55.1 294.5L55.1 295.6L55.2 296.6L55.2 297.7L55.3 298.8L55.3 299.9L55.4 301.0L55.4 302.0L55.5 303.1L55.5 304.2L55.5 305.3L55.6 306.4L55.6 307.4L55.7 308.5L55.7 309.6L55.7 310.7L55.8 311.8L55.8 312.8L55.8 313.9L55.9 315.0L55.9 316.1L55.9 317.2L56.0 318.2L56.0 319.3L56.1 320.4L56.1 321.5L56.2 322.6L56.2 323.6L56.3 324.7L56.3 325.8L56.4 326.9L56.4 327.9L56.5 329.0L56.5 330.1L56.6 331.2L56.7 332.2L56.7 333.3L56.8 334.4L56.9 335.4L57.0 336.5L57.0 337.6L57.1 338.7L57.2 339.7L57.4 340.8L57.5 341.9L57.7 342.9L57.8 344.0L58.0 345.1L58.2 346.1L58.4 347.2L58.6 348.2L58.9 349.3L59.1 350.4L59.3 351.4L59.6 352.5L59.8 353.5L60.1 354.6L60.3 355.6L60.6 356.7L60.8 357.7L61.1 358.8L61.4 359.8L61.8 360.8L62.1 361.9L62.5 362.9L62.8 363.9L63.2 364.9L63.7 365.8L64.2 366.8L64.7 367.7L65.2 368.7L65.7 369.6L66.3 370.6L66.8 371.5L67.3 372.5L67.9 373.4L68.4 374.3L69.0 375.2L69.5 376.2L70.1 377.1L70.6 378.0L71.2 379.0L71.7 379.9L72.3 380.8L73.0 381.6L73.7 382.5L74.4 383.3L75.1 384.1L75.9 384.8L76.7 385.6L77.5 386.3L78.3 386.9L79.2 387.6L80.1 388.2L81.0 388.9L81.8 389.5L82.8 390.0L83.7 390.6L84.7 391.1L85.6 391.5L86.6 392.0L87.6 392.3L88.6 392.7L89.7 393.0L90.7 393.3L91.7 393.6L92.8 393.9L93.8 394.3L94.8 394.6L95.9 394.9L96.9 395.2L98.0 395.4L99.0 395.6L100.1 395.7L101.1 395.9L102.2 396.1L103.3 396.2L104.4 396.3L105.4 396.5L106.5 396.6L107.6 396.7L108.7 396.8L109.7 397.0L110.8 397.1L111.9 397.2L112.9 397.3L114.0 397.4L115.1 397.5L116.2 397.6L117.2 397.7L118.3 397.8L119.4 397.9L120.5 398.0L121.5 398.1L122.6 398.2L123.7 398.3L124.8 398.4L125.8 398.5L126.9 398.5L128.0 398.6L129.1 398.7L130.1 398.8L131.2 398.9L132.3 399.0L133.4 399.1L134.4 399.2L135.5 399.2L136.6 399.3L137.7 399.4L138.7 399.5L139.8 399.6L140.9 399.7L142.0 399.7L143.0 399.8L144.1 399.9L145.2 400.0L146.3 400.0L147.3 400.1L148.4 400.2L149.5 400.3L150.6 400.4L151.6 400.4L152.7 400.5L153.8 400.6L154.9 400.7L155.9 400.7L157.0 400.8L158.1 400.9L159.2 401.0L160.2 401.1L161.3 401.1L162.4 401.2L163.5 401.3L164.5 401.4L165.6 401.5L166.7 401.5L167.8 401.6L168.8 401.7L169.9 401.8L171.0 401.9L172.1 402.0L173.1 402.1L174.2 402.1L175.3 402.2L176.4 402.3L177.4 402.4L178.5 402.5L179.6 402.6L180.7 402.7L181.7 402.8L182.8 402.9L183.9 403.0L185.0 403.0L186.0 403.1L187.1 403.2L188.2 403.3L189.3 403.4L190.3 403.5L191.4 403.6L192.5 403.6L193.6 403.7L194.6 403.8L195.7 403.9L196.8 404.0L197.9 404.1L198.9 404.1L200.0 404.2L201.1 404.3L202.2 404.4L203.2 404.4L204.3 404.5L205.4 404.6L206.5 404.7L207.5 404.7L208.6 404.8L209.7 404.9L210.8 405.0L211.9 405.0L212.9 405.1L214.0 405.2L215.1 405.3L216.2 405.3L217.2 405.4L218.3 405.5L219.4 405.5L220.5 405.6L221.5 405.6L222.6 405.7L223.7 405.8L224.8 405.8L225.8 405.9L226.9 405.9L228.0 405.9L229.1 406.0L230.2 406.0L231.2 406.0L232.3 406.1L233.4 406.1L234.5 406.1L235.5 406.2L236.6 406.2L237.7 406.2L238.8 406.2L239.9 406.3L240.9 406.3L242.0 406.3L243.1 406.3L244.2 406.4L245.2 406.4L246.3 406.4L247.4 406.4L248.5 406.5L249.6 406.5L250.6 406.5L251.7 406.5L252.8 406.5L253.9 406.5L254.9 406.6L256.0 406.6L257.1 406.6L258.2 406.6L259.3 406.6L260.3 406.6L261.4 406.6L262.5 406.6" fill="none" stroke="#3cfa1e" stroke-width="0.75"/>
<g fill="none" stroke="#3cfa1e" stroke-width="0.85">
<path d="M50.88 255.34L55.71 255.34L53.30 259.27Z"/>
<path d="M51.48 276.84L56.31 276.84L53.90 280.77Z"/>
<path d="M52.38 287.84L57.21 287.84L54.80 291.77Z"/>
<path d="M54.69 336.84L59.52 336.84L57.10 340.77Z"/>
<path d="M57.59 352.84L62.41 352.84L60.00 356.77Z"/>
<path d="M60.38 362.34L65.22 362.34L62.80 366.27Z"/>
<path d="M63.59 368.64L68.42 368.64L66.00 372.57Z"/>
<path d="M66.68 373.94L71.52 373.94L69.10 377.87Z"/>
<path d="M69.88 379.24L74.72 379.24L72.30 383.17Z"/>
<path d="M73.08 383.04L77.92 383.04L75.50 386.97Z"/>
<path d="M76.68 386.04L81.52 386.04L79.10 389.97Z"/>
<path d="M79.98 388.34L84.82 388.34L82.40 392.27Z"/>
<path d="M83.58 390.24L88.42 390.24L86.00 394.17Z"/>
<path d="M87.18 391.54L92.02 391.54L89.60 395.47Z"/>
<path d="M90.58 392.54L95.42 392.54L93.00 396.47Z"/>
<path d="M94.18 393.64L99.02 393.64L96.60 397.57Z"/>
<path d="M97.23 394.21L102.06 394.21L99.64 398.14Z"/>
<path d="M100.18 394.66L105.01 394.66L102.59 398.59Z"/>
<path d="M103.15 395.04L107.98 395.04L105.56 398.96Z"/>
<path d="M106.20 395.39L111.03 395.39L108.62 399.32Z"/>
<path d="M109.17 395.71L114.00 395.71L111.58 399.64Z"/>
<path d="M112.13 396.02L116.96 396.02L114.55 399.94Z"/>
<path d="M115.10 396.30L119.93 396.30L117.52 400.22Z"/>
<path d="M118.08 396.56L122.91 396.56L120.49 400.48Z"/>
<path d="M121.05 396.81L125.88 396.81L123.46 400.73Z"/>
<path d="M124.02 397.05L128.85 397.05L126.44 400.98Z"/>
<path d="M127.00 397.29L131.83 397.29L129.41 401.22Z"/>
<path d="M129.97 397.54L134.80 397.54L132.39 401.46Z"/>
<path d="M133.03 397.78L137.86 397.78L135.44 401.71Z"/>
<path d="M136.00 398.01L140.83 398.01L138.41 401.93Z"/>
<path d="M138.97 398.23L143.80 398.23L141.39 402.16Z"/>
<path d="M141.95 398.45L146.78 398.45L144.36 402.38Z"/>
<path d="M144.92 398.67L149.75 398.67L147.34 402.60Z"/>
<path d="M147.90 398.88L152.73 398.88L150.32 402.81Z"/>
<path d="M150.88 399.10L155.71 399.10L153.29 403.03Z"/>
<path d="M153.85 399.31L158.68 399.31L156.27 403.24Z"/>
<path d="M156.83 399.53L161.66 399.53L159.24 403.46Z"/>
<path d="M159.80 399.75L164.63 399.75L162.22 403.68Z"/>
<path d="M162.78 399.97L167.61 399.97L165.19 403.90Z"/>
<path d="M165.75 400.20L170.58 400.20L168.17 404.13Z"/>
<path d="M168.72 400.44L173.55 400.44L171.14 404.36Z"/>
<path d="M171.70 400.68L176.53 400.68L174.11 404.61Z"/>
<path d="M174.67 400.93L179.50 400.93L177.09 404.85Z"/>
<path d="M177.73 401.18L182.56 401.18L180.14 405.11Z"/>
<path d="M180.70 401.43L185.53 401.43L183.11 405.36Z"/>
<path d="M183.67 401.68L188.50 401.68L186.09 405.60Z"/>
<path d="M186.64 401.92L191.47 401.92L189.06 405.85Z"/>
<path d="M189.62 402.15L194.45 402.15L192.03 406.08Z"/>
<path d="M192.59 402.38L197.42 402.38L195.01 406.31Z"/>
<path d="M195.57 402.60L200.40 402.60L197.98 406.53Z"/>
<path d="M198.54 402.81L203.37 402.81L200.96 406.74Z"/>
<path d="M201.52 403.02L206.35 403.02L203.93 406.94Z"/>
<path d="M204.50 403.23L209.33 403.23L206.91 407.16Z"/>
<path d="M207.47 403.44L212.30 403.44L209.89 407.37Z"/>
<path d="M210.45 403.65L215.28 403.65L212.86 407.58Z"/>
<path d="M213.43 403.85L218.26 403.85L215.84 407.77Z"/>
<path d="M216.41 404.03L221.24 404.03L218.82 407.96Z"/>
<path d="M219.38 404.20L224.21 404.20L221.80 408.13Z"/>
<path d="M222.36 404.35L227.19 404.35L224.78 408.28Z"/>
<path d="M225.34 404.47L230.17 404.47L227.76 408.40Z"/>
<path d="M228.32 404.56L233.15 404.56L230.74 408.49Z"/>
<path d="M231.30 404.65L236.13 404.65L233.72 408.57Z"/>
<path d="M234.28 404.73L239.11 404.73L236.70 408.66Z"/>
<path d="M237.27 404.81L242.10 404.81L239.68 408.73Z"/>
<path d="M240.25 404.88L245.08 404.88L242.66 408.81Z"/>
<path d="M243.23 404.94L248.06 404.94L245.65 408.87Z"/>
<path d="M246.21 405.00L251.04 405.00L248.63 408.93Z"/>
<path d="M249.20 405.05L254.03 405.05L251.61 408.98Z"/>
<path d="M252.18 405.09L257.01 405.09L254.59 409.02Z"/>
<path d="M255.16 405.12L259.99 405.12L257.58 409.05Z"/>
<path d="M258.15 405.14L262.98 405.14L260.56 409.07Z"/>
</g>
<rect x="151" y="266.5" width="111.39999999999998" height="40.19999999999999" fill="#fff" stroke="#000" stroke-width="1.15"/>
<path d="M158 274.1H190.6" stroke="#0a32fa" stroke-width="0.7"/>
<g fill="none" stroke="#0a32fa" stroke-width="0.7"><circle cx="174.20" cy="274.10" r="3.35"/></g>
<text transform="translate(196.3 278.10) scale(1 1)" font-size="10.0">Recompute</text>
<path d="M158 286.6H190.6" stroke="#aa28fa" stroke-width="0.7"/>
<g fill="none" stroke="#aa28fa" stroke-width="0.7"><path d="M170.35 288.93L178.05 288.93L174.20 282.66Z"/></g>
<text transform="translate(196.3 290.60) scale(1 1)" font-size="10.0">Warm−restart</text>
<path d="M158 299.1H190.6" stroke="#3cfa1e" stroke-width="0.7"/>
<g fill="none" stroke="#3cfa1e" stroke-width="0.7"><path d="M170.35 296.77L178.05 296.77L174.20 303.04Z"/></g>
<text transform="translate(196.3 303.10) scale(1 1)" font-size="10.0">Our method</text>
<text transform="translate(10.0 330.3) rotate(-90)" font-size="11.65" text-anchor="middle">Relative error</text>
<text x="165.1" y="443.8" font-size="11.65" text-anchor="middle">Execution time</text>
<text x="170.7" y="461.6" font-size="16" font-weight="bold" style="font-family:'Liberation Serif',serif;stroke-width:0.1px" text-anchor="middle">(c)</text>
<rect x="332.7" y="254.4" width="221.90000000000003" height="162.54999999999998" fill="none" stroke="#000" stroke-width="1.5"/>
<path d="M332.9 416.95v-2.2M332.9 254.4v2.2M377.23 416.95v-2.2M377.23 254.4v2.2M421.56 416.95v-2.2M421.56 254.4v2.2M465.89 416.95v-2.2M465.89 254.4v2.2M510.22 416.95v-2.2M510.22 254.4v2.2M554.55 416.95v-2.2M554.55 254.4v2.2M332.7 262.2h2.2M554.6 262.2h-2.2M332.7 276.93h2.2M554.6 276.93h-2.2M332.7 291.66h2.2M554.6 291.66h-2.2M332.7 306.39h2.2M554.6 306.39h-2.2M332.7 321.12h2.2M554.6 321.12h-2.2M332.7 335.85h2.2M554.6 335.85h-2.2M332.7 350.58h2.2M554.6 350.58h-2.2M332.7 365.31h2.2M554.6 365.31h-2.2M332.7 380.04h2.2M554.6 380.04h-2.2M332.7 394.77h2.2M554.6 394.77h-2.2M332.7 409.5h2.2M554.6 409.5h-2.2" stroke="#000" stroke-width="1.15" fill="none"/>
<text x="330.50" y="428.95" font-size="9.9" text-anchor="middle">0</text>
<text x="377.23" y="428.95" font-size="9.9" text-anchor="middle">200</text>
<text x="421.76" y="428.95" font-size="9.9" text-anchor="middle">400</text>
<text x="466.39" y="428.95" font-size="9.9" text-anchor="middle">600</text>
<text x="511.02" y="428.95" font-size="9.9" text-anchor="middle">800</text>
<text x="555.85" y="428.95" font-size="9.9" text-anchor="middle">1000</text>
<text x="327.8" y="265.5" font-size="9.9" text-anchor="end">6.48</text>
<text x="327.8" y="280.23" font-size="9.9" text-anchor="end">6.47</text>
<text x="327.8" y="294.96000000000004" font-size="9.9" text-anchor="end">6.46</text>
<text x="327.8" y="309.69" font-size="9.9" text-anchor="end">6.45</text>
<text x="327.8" y="324.42" font-size="9.9" text-anchor="end">6.44</text>
<text x="327.8" y="339.15000000000003" font-size="9.9" text-anchor="end">6.43</text>
<text x="327.8" y="353.88" font-size="9.9" text-anchor="end">6.42</text>
<text x="327.8" y="368.61" font-size="9.9" text-anchor="end">6.41</text>
<text x="327.8" y="383.34000000000003" font-size="9.9" text-anchor="end">6.4</text>
<text x="327.8" y="398.07" font-size="9.9" text-anchor="end">6.39</text>
<text x="327.8" y="412.8" font-size="9.9" text-anchor="end">6.38</text>
<text x="332.0" y="250.8" font-size="9.9">x 10<tspan dx="1.2" dy="-6.5" font-size="7">−3</tspan></text>
<path d="M469.6 254.2L469.9 254.4L470.1 254.6L470.4 254.8L470.7 255.1L471.0 255.3L471.3 255.5L471.5 255.7L471.8 255.9L472.1 256.1L472.4 256.3L472.6 256.5L472.9 256.7L473.2 256.9L473.5 257.1L473.8 257.3L474.1 257.5L474.3 257.7L474.6 257.9L474.9 258.1L475.2 258.3L475.5 258.5L475.8 258.7L476.0 258.9L476.3 259.1L476.6 259.3L476.9 259.5L477.2 259.7L477.5 259.9L477.8 260.1L478.1 260.3L478.4 260.5L478.6 260.7L478.9 260.9L479.2 261.0L479.5 261.2L479.8 261.4L480.1 261.6L480.4 261.8L480.7 262.0L481.0 262.2L481.3 262.3L481.6 262.5L481.9 262.7L482.2 262.9L482.5 263.1L482.8 263.2L483.1 263.4L483.4 263.6L483.7 263.8L484.0 263.9L484.3 264.1L484.6 264.3L484.9 264.4L485.2 264.6L485.5 264.8L485.8 264.9L486.1 265.1L486.4 265.3L486.7 265.4L487.0 265.6L487.4 265.7L487.7 265.9L488.0 266.1L488.3 266.2L488.6 266.4L488.9 266.5L489.2 266.7L489.5 266.9L489.8 267.0L490.1 267.2L490.4 267.4L490.7 267.5L491.0 267.7L491.4 267.8L491.7 268.0L492.0 268.2L492.3 268.3L492.6 268.5L492.9 268.7L493.2 268.8L493.5 269.0L493.8 269.2L494.1 269.3L494.4 269.5L494.7 269.6L495.0 269.8L495.3 270.0L495.7 270.1L496.0 270.3L496.3 270.4L496.6 270.6L496.9 270.8L497.2 270.9L497.5 271.1L497.8 271.2L498.1 271.4L498.4 271.6L498.7 271.7L499.1 271.9L499.4 272.0L499.7 272.2L500.0 272.4L500.3 272.5L500.6 272.7L500.9 272.8L501.2 273.0L501.5 273.1L501.8 273.3L502.2 273.4L502.5 273.6L502.8 273.7L503.1 273.9L503.4 274.1L503.7 274.2L504.0 274.4L504.3 274.5L504.7 274.7L505.0 274.8L505.3 275.0L505.6 275.1L505.9 275.3L506.2 275.5L506.5 275.6L506.8 275.8L507.1 275.9L507.4 276.1L507.8 276.2L508.1 276.4L508.4 276.5L508.7 276.7L509.0 276.9L509.3 277.0L509.6 277.2L509.9 277.3L510.2 277.5L510.6 277.6L510.9 277.8L511.2 278.0L511.5 278.1L511.8 278.3L512.1 278.4L512.4 278.6L512.7 278.8L513.0 278.9L513.3 279.1L513.6 279.3L513.9 279.4L514.2 279.6L514.5 279.8L514.8 280.0L515.1 280.1L515.4 280.3L515.7 280.5L516.0 280.7L516.3 280.9L516.6 281.0L516.9 281.2L517.2 281.4L517.5 281.6L517.8 281.8L518.1 282.0L518.4 282.2L518.7 282.3L519.0 282.5L519.2 282.7L519.5 282.9L519.8 283.1L520.1 283.3L520.4 283.5L520.7 283.7L521.0 283.9L521.2 284.1L521.5 284.3L521.8 284.6L522.1 284.8L522.3 285.0L522.6 285.2L522.9 285.4L523.2 285.6L523.4 285.8L523.7 286.1L524.0 286.3L524.2 286.5L524.5 286.7L524.7 287.0L525.0 287.2L525.3 287.5L525.5 287.7L525.8 287.9L526.0 288.2L526.3 288.4L526.5 288.6L526.8 288.9L527.0 289.1L527.3 289.4L527.5 289.6L527.8 289.8L528.0 290.1L528.3 290.3L528.5 290.5L528.8 290.8L529.1 291.0L529.3 291.3L529.6 291.5L529.8 291.7L530.1 292.0L530.3 292.2L530.6 292.5L530.8 292.7L531.1 292.9L531.3 293.2L531.6 293.4L531.8 293.7L532.1 293.9L532.3 294.1L532.6 294.4L532.8 294.6L533.1 294.9L533.3 295.1L533.6 295.4L533.8 295.6L534.1 295.9L534.3 296.1L534.5 296.4L534.8 296.6L535.0 296.9L535.2 297.1L535.5 297.4L535.7 297.6L536.0 297.9L536.2 298.1L536.5 298.4L536.7 298.6L537.0 298.8L537.2 299.1L537.5 299.3L537.7 299.6L538.0 299.8L538.2 300.0L538.5 300.3L538.7 300.5L539.0 300.8L539.2 301.0L539.5 301.3L539.7 301.5L540.0 301.8L540.2 302.0L540.4 302.2L540.7 302.5L540.9 302.7L541.2 303.0L541.4 303.2L541.7 303.5L541.9 303.7L542.2 303.9L542.4 304.2L542.7 304.4L543.0 304.7L543.2 304.9L543.5 305.1L543.7 305.4L544.0 305.6L544.2 305.8L544.5 306.1L544.7 306.3L545.0 306.5L545.2 306.8L545.5 307.0L545.8 307.2L546.0 307.5L546.3 307.7L546.5 307.9L546.8 308.2L547.1 308.4L547.3 308.6L547.6 308.9L547.8 309.1L548.1 309.3L548.4 309.5L548.6 309.7L548.9 310.0L549.2 310.2L549.5 310.4L549.7 310.6L550.0 310.8L550.3 311.0L550.6 311.3L550.8 311.5L551.1 311.7L551.4 311.9L551.6 312.1L551.9 312.4L552.2 312.6L552.4 312.8L552.7 313.0L552.9 313.3L553.2 313.5L553.4 313.8L553.7 314.0" fill="none" stroke="#0a32fa" stroke-width="0.75"/>
<g fill="none" stroke="#0a32fa" stroke-width="0.85">
<circle cx="469.60" cy="254.20" r="2.10"/>
<circle cx="476.30" cy="259.10" r="2.10"/>
<circle cx="482.90" cy="263.30" r="2.10"/>
<circle cx="490.70" cy="267.50" r="2.10"/>
<circle cx="498.50" cy="271.60" r="2.10"/>
<circle cx="506.10" cy="275.40" r="2.10"/>
<circle cx="513.50" cy="279.20" r="2.10"/>
<circle cx="519.20" cy="282.70" r="2.10"/>
<circle cx="523.50" cy="285.90" r="2.10"/>
<circle cx="527.00" cy="289.10" r="2.10"/>
<circle cx="530.40" cy="292.30" r="2.10"/>
<circle cx="533.60" cy="295.40" r="2.10"/>
<circle cx="536.30" cy="298.20" r="2.10"/>
<circle cx="538.90" cy="300.70" r="2.10"/>
<circle cx="541.40" cy="303.20" r="2.10"/>
<circle cx="544.20" cy="305.80" r="2.10"/>
<circle cx="546.70" cy="308.10" r="2.10"/>
<circle cx="549.20" cy="310.20" r="2.10"/>
<circle cx="551.60" cy="312.10" r="2.10"/>
<circle cx="553.70" cy="314.00" r="2.10"/>
</g>
<path d="M339.6 254.2L339.7 255.2L339.7 256.3L339.8 257.3L339.8 258.4L339.9 259.4L339.9 260.5L340.0 261.5L340.1 262.5L340.1 263.6L340.2 264.6L340.3 265.7L340.3 266.7L340.4 267.7L340.5 268.8L340.5 269.8L340.6 270.9L340.7 271.9L340.7 273.0L340.8 274.0L340.9 275.0L341.0 276.1L341.0 277.1L341.1 278.2L341.2 279.2L341.3 280.2L341.3 281.3L341.4 282.3L341.5 283.4L341.6 284.4L341.7 285.4L341.7 286.5L341.8 287.5L341.9 288.6L342.0 289.6L342.1 290.6L342.2 291.7L342.2 292.7L342.3 293.8L342.4 294.8L342.5 295.9L342.6 296.9L342.7 297.9L342.7 299.0L342.8 300.0L342.9 301.1L343.0 302.1L343.1 303.1L343.2 304.2L343.3 305.2L343.4 306.3L343.5 307.3L343.6 308.3L343.7 309.4L343.9 310.4L344.0 311.4L344.1 312.5L344.2 313.5L344.3 314.5L344.5 315.6L344.6 316.6L344.7 317.6L344.9 318.7L345.0 319.7L345.2 320.7L345.4 321.8L345.6 322.8L345.8 323.8L346.0 324.8L346.2 325.9L346.4 326.9L346.6 327.9L346.8 328.9L347.0 330.0L347.2 331.0L347.4 332.0L347.6 333.0L347.8 334.1L348.0 335.1L348.3 336.1L348.5 337.1L348.7 338.2L348.9 339.2L349.2 340.2L349.5 341.2L349.7 342.2L350.0 343.2L350.4 344.2L350.7 345.1L351.1 346.1L351.5 347.1L352.0 348.0L352.5 349.0L352.9 349.9L353.4 350.8L354.0 351.7L354.5 352.6L355.0 353.5L355.6 354.4L356.1 355.3L356.7 356.1L357.4 357.0L358.0 357.8L358.6 358.7L359.3 359.5L359.9 360.3L360.6 361.1L361.3 361.9L362.0 362.6L362.7 363.4L363.5 364.1L364.2 364.9L365.0 365.6L365.7 366.3L366.5 366.9L367.3 367.6L368.2 368.2L369.0 368.8L369.9 369.4L370.8 370.0L371.7 370.6L372.6 371.1L373.5 371.6L374.4 372.1L375.3 372.6L376.2 373.1L377.1 373.6L378.1 374.1L379.0 374.5L380.0 375.0L380.9 375.4L381.9 375.7L382.9 376.1L383.8 376.5L384.8 376.8L385.8 377.2L386.8 377.5L387.8 377.8L388.8 378.1L389.8 378.4L390.8 378.7L391.8 378.9L392.8 379.2L393.9 379.4L394.9 379.6L395.9 379.8L396.9 380.0L398.0 380.2L399.0 380.4L400.0 380.6L401.0 380.8L402.1 381.0L403.1 381.2L404.1 381.4L405.1 381.6L406.2 381.8L407.2 381.9L408.2 382.1L409.3 382.3L410.3 382.4L411.3 382.6L412.3 382.8L413.4 382.9L414.4 383.1L415.4 383.3L416.5 383.4L417.5 383.6L418.5 383.7L419.6 383.9L420.6 384.0L421.6 384.2L422.7 384.3L423.7 384.5L424.7 384.6L425.8 384.8L426.8 385.0L427.8 385.1L428.9 385.3L429.9 385.4L430.9 385.6L432.0 385.7L433.0 385.9L434.0 386.1L435.0 386.2L436.1 386.4L437.1 386.5L438.1 386.7L439.2 386.9L440.2 387.0L441.2 387.2L442.3 387.3L443.3 387.5L444.3 387.6L445.4 387.8L446.4 388.0L447.4 388.1L448.5 388.3L449.5 388.4L450.5 388.6L451.6 388.7L452.6 388.9L453.6 389.0L454.7 389.2L455.7 389.3L456.7 389.5L457.8 389.6L458.8 389.8L459.8 390.0L460.9 390.1L461.9 390.3L462.9 390.4L463.9 390.6L465.0 390.7L466.0 390.9L467.0 391.0L468.1 391.2L469.1 391.3L470.1 391.5L471.2 391.6L472.2 391.8L473.2 391.9L474.3 392.1L475.3 392.2L476.3 392.4L477.4 392.5L478.4 392.7L479.4 392.8L480.5 393.0L481.5 393.1L482.5 393.3L483.6 393.4L484.6 393.5L485.6 393.7L486.7 393.8L487.7 394.0L488.8 394.1L489.8 394.2L490.8 394.4L491.9 394.5L492.9 394.6L493.9 394.7L495.0 394.9L496.0 395.0L497.0 395.1L498.1 395.2L499.1 395.3L500.1 395.5L501.2 395.6L502.2 395.7L503.3 395.8L504.3 395.9L505.3 396.1L506.4 396.2L507.4 396.3L508.4 396.4L509.5 396.5L510.5 396.6L511.5 396.7L512.6 396.8L513.6 397.0L514.7 397.1L515.7 397.2L516.7 397.3L517.8 397.4L518.8 397.5L519.8 397.6L520.9 397.7L521.9 397.8L523.0 397.9L524.0 398.0L525.0 398.1L526.1 398.2L527.1 398.4L528.2 398.5L529.2 398.6L530.2 398.7L531.3 398.8L532.3 398.9L533.4 399.0L534.4 399.0L535.4 399.1L536.5 399.2L537.5 399.3L538.5 399.4L539.6 399.5L540.6 399.6L541.7 399.7L542.7 399.8L543.7 399.9L544.8 400.0L545.8 400.1L546.9 400.1L547.9 400.2L549.0 400.3L550.0 400.4L551.0 400.5L552.1 400.6L553.1 400.6L554.2 400.7L555.2 400.8" fill="none" stroke="#aa28fa" stroke-width="0.75"/>
<g fill="none" stroke="#aa28fa" stroke-width="0.85">
<path d="M339.28 287.36L344.12 287.36L341.70 283.43Z"/>
<path d="M342.08 317.36L346.92 317.36L344.50 313.43Z"/>
<path d="M344.98 333.46L349.81 333.46L347.40 329.53Z"/>
<path d="M347.81 345.22L352.64 345.22L350.22 341.30Z"/>
<path d="M351.14 352.47L355.97 352.47L353.55 348.54Z"/>
<path d="M354.53 357.89L359.36 357.89L356.94 353.96Z"/>
<path d="M357.85 362.13L362.68 362.13L360.26 358.20Z"/>
<path d="M361.19 365.76L366.02 365.76L363.61 361.83Z"/>
<path d="M364.56 368.75L369.39 368.75L366.97 364.83Z"/>
<path d="M367.93 371.17L372.76 371.17L370.35 367.25Z"/>
<path d="M371.26 373.21L376.09 373.21L373.67 369.28Z"/>
<path d="M374.63 375.04L379.46 375.04L377.05 371.11Z"/>
<path d="M377.96 376.58L382.79 376.58L380.37 372.65Z"/>
<path d="M381.29 377.88L386.12 377.88L383.71 373.95Z"/>
<path d="M384.70 379.04L389.53 379.04L387.12 375.11Z"/>
<path d="M388.01 380.00L392.84 380.00L390.42 376.07Z"/>
<path d="M391.41 380.84L396.24 380.84L393.82 376.91Z"/>
<path d="M394.69 381.53L399.52 381.53L397.11 377.60Z"/>
<path d="M398.07 382.17L402.90 382.17L400.49 378.25Z"/>
<path d="M401.45 382.80L406.28 382.80L403.86 378.87Z"/>
<path d="M404.75 383.38L409.58 383.38L407.17 379.45Z"/>
<path d="M408.14 383.94L412.97 383.94L410.55 380.02Z"/>
<path d="M411.45 384.47L416.28 384.47L413.87 380.55Z"/>
<path d="M414.85 384.99L419.68 384.99L417.26 381.06Z"/>
<path d="M418.17 385.48L423.00 385.48L420.58 381.55Z"/>
<path d="M421.56 385.99L426.39 385.99L423.98 382.06Z"/>
<path d="M424.88 386.50L429.71 386.50L427.29 382.57Z"/>
<path d="M428.20 387.00L433.03 387.00L430.61 383.07Z"/>
<path d="M431.59 387.52L436.42 387.52L434.00 383.59Z"/>
<path d="M434.91 388.03L439.74 388.03L437.32 384.10Z"/>
<path d="M438.30 388.55L443.13 388.55L440.72 384.62Z"/>
<path d="M441.62 389.05L446.45 389.05L444.03 385.13Z"/>
<path d="M444.94 389.55L449.77 389.55L447.35 385.62Z"/>
<path d="M448.33 390.05L453.16 390.05L450.75 386.13Z"/>
<path d="M451.65 390.55L456.48 390.55L454.07 386.62Z"/>
<path d="M455.05 391.06L459.88 391.06L457.46 387.13Z"/>
<path d="M458.37 391.56L463.20 391.56L460.78 387.63Z"/>
<path d="M461.69 392.06L466.52 392.06L464.10 388.13Z"/>
<path d="M465.08 392.56L469.91 392.56L467.50 388.63Z"/>
<path d="M468.40 393.05L473.23 393.05L470.82 389.12Z"/>
<path d="M471.80 393.55L476.63 393.55L474.22 389.62Z"/>
<path d="M475.12 394.02L479.95 394.02L477.54 390.09Z"/>
<path d="M478.45 394.49L483.28 394.49L480.86 390.56Z"/>
<path d="M481.85 394.95L486.68 394.95L484.26 391.02Z"/>
<path d="M485.17 395.39L490.00 395.39L487.59 391.47Z"/>
<path d="M488.50 395.82L493.33 395.82L490.92 391.89Z"/>
<path d="M491.91 396.24L496.74 396.24L494.32 392.31Z"/>
<path d="M495.24 396.63L500.07 396.63L497.65 392.71Z"/>
<path d="M498.57 397.02L503.40 397.02L500.98 393.09Z"/>
<path d="M501.90 397.40L506.73 397.40L504.32 393.47Z"/>
<path d="M505.31 397.78L510.14 397.78L507.73 393.85Z"/>
<path d="M508.65 398.14L513.48 398.14L511.06 394.21Z"/>
<path d="M511.98 398.50L516.81 398.50L514.40 394.57Z"/>
<path d="M515.32 398.86L520.15 398.86L517.73 394.93Z"/>
<path d="M518.65 399.20L523.48 399.20L521.07 395.27Z"/>
<path d="M521.99 399.54L526.82 399.54L524.41 395.61Z"/>
<path d="M525.41 399.88L530.24 399.88L527.82 395.95Z"/>
<path d="M528.75 400.20L533.58 400.20L531.17 396.27Z"/>
<path d="M532.09 400.52L536.92 400.52L534.51 396.59Z"/>
<path d="M535.43 400.82L540.26 400.82L537.85 396.89Z"/>
<path d="M538.78 401.12L543.61 401.12L541.19 397.19Z"/>
<path d="M542.12 401.41L546.95 401.41L544.54 397.48Z"/>
<path d="M545.47 401.69L550.30 401.69L547.88 397.76Z"/>
<path d="M548.81 401.95L553.64 401.95L551.23 398.03Z"/>
<path d="M552.16 402.21L556.99 402.21L554.58 398.28Z"/>
</g>
<path d="M333.7 254.6L333.7 255.7L333.7 256.7L333.7 257.8L333.7 258.8L333.7 259.9L333.7 260.9L333.7 262.0L333.7 263.0L333.7 264.1L333.7 265.1L333.7 266.2L333.7 267.2L333.7 268.3L333.7 269.3L333.7 270.4L333.7 271.4L333.8 272.5L333.8 273.5L333.8 274.6L333.8 275.6L333.8 276.7L333.8 277.7L333.8 278.8L333.8 279.8L333.8 280.9L333.8 281.9L333.9 283.0L333.9 284.0L334.0 285.1L334.0 286.1L334.1 287.2L334.2 288.2L334.3 289.3L334.4 290.3L334.5 291.4L334.6 292.4L334.7 293.4L334.8 294.5L334.9 295.5L335.0 296.6L335.2 297.6L335.3 298.7L335.4 299.7L335.6 300.8L335.7 301.8L335.9 302.9L336.0 303.9L336.2 304.9L336.3 306.0L336.5 307.0L336.6 308.0L336.8 309.1L336.9 310.1L337.1 311.1L337.3 312.2L337.5 313.2L337.7 314.3L337.9 315.3L338.1 316.3L338.4 317.3L338.6 318.4L338.9 319.4L339.2 320.4L339.4 321.4L339.7 322.4L340.0 323.4L340.4 324.4L340.8 325.4L341.2 326.3L341.6 327.3L342.0 328.3L342.5 329.2L343.0 330.2L343.4 331.1L343.8 332.1L344.3 333.0L344.8 334.0L345.2 334.9L345.7 335.8L346.2 336.8L346.7 337.7L347.1 338.7L347.6 339.6L348.1 340.5L348.6 341.4L349.1 342.4L349.6 343.3L350.2 344.2L350.7 345.1L351.3 346.0L351.9 346.8L352.4 347.7L353.0 348.6L353.6 349.4L354.3 350.3L354.9 351.1L355.5 351.9L356.2 352.8L356.8 353.6L357.5 354.4L358.2 355.2L358.9 356.0L359.6 356.8L360.3 357.6L361.0 358.3L361.7 359.1L362.4 359.9L363.2 360.6L363.9 361.3L364.7 362.1L365.5 362.8L366.3 363.5L367.1 364.2L367.9 364.8L368.7 365.5L369.5 366.2L370.3 366.8L371.2 367.4L372.0 368.1L372.8 368.7L373.7 369.3L374.6 369.9L375.5 370.5L376.3 371.0L377.2 371.6L378.1 372.2L379.0 372.7L379.9 373.2L380.8 373.7L381.8 374.3L382.7 374.8L383.6 375.2L384.6 375.7L385.5 376.2L386.4 376.6L387.4 377.1L388.3 377.5L389.3 377.9L390.3 378.3L391.2 378.7L392.2 379.1L393.2 379.5L394.2 379.9L395.2 380.3L396.2 380.6L397.1 381.0L398.1 381.4L399.1 381.7L400.1 382.0L401.1 382.4L402.1 382.7L403.1 383.0L404.1 383.3L405.1 383.6L406.1 383.9L407.1 384.3L408.1 384.6L409.1 384.8L410.2 385.1L411.2 385.4L412.2 385.7L413.2 386.0L414.2 386.3L415.2 386.5L416.2 386.8L417.2 387.1L418.3 387.3L419.3 387.6L420.3 387.9L421.3 388.1L422.3 388.4L423.4 388.6L424.4 388.8L425.4 389.1L426.4 389.3L427.5 389.6L428.5 389.8L429.5 390.0L430.5 390.3L431.6 390.5L432.6 390.7L433.6 390.9L434.6 391.1L435.7 391.4L436.7 391.6L437.7 391.8L438.7 392.0L439.8 392.2L440.8 392.5L441.8 392.7L442.8 393.0L443.9 393.2L444.9 393.5L445.9 393.7L446.9 393.9L448.0 394.1L449.0 394.3L450.0 394.5L451.1 394.7L452.1 394.9L453.1 395.1L454.2 395.2L455.2 395.4L456.2 395.6L457.3 395.8L458.3 396.0L459.3 396.1L460.4 396.3L461.4 396.5L462.4 396.6L463.5 396.8L464.5 397.0L465.6 397.1L466.6 397.3L467.6 397.4L468.7 397.6L469.7 397.7L470.7 397.9L471.8 398.1L472.8 398.2L473.9 398.4L474.9 398.5L476.0 398.7L477.0 398.8L478.0 398.9L479.1 399.1L480.1 399.2L481.2 399.4L482.2 399.5L483.2 399.7L484.3 399.8L485.3 399.9L486.4 400.1L487.4 400.2L488.5 400.4L489.5 400.5L490.5 400.6L491.6 400.8L492.6 400.9L493.7 401.1L494.7 401.2L495.7 401.3L496.8 401.5L497.8 401.6L498.9 401.7L499.9 401.9L500.9 402.0L502.0 402.2L503.0 402.3L504.1 402.4L505.1 402.6L506.2 402.7L507.2 402.8L508.2 403.0L509.3 403.1L510.3 403.2L511.4 403.4L512.4 403.5L513.4 403.6L514.5 403.8L515.5 403.9L516.6 404.0L517.6 404.2L518.7 404.3L519.7 404.4L520.7 404.5L521.8 404.7L522.8 404.8L523.9 404.9L524.9 405.0L526.0 405.2L527.0 405.3L528.0 405.4L529.1 405.5L530.1 405.7L531.2 405.8L532.2 405.9L533.3 406.0L534.3 406.1L535.4 406.3L536.4 406.4L537.4 406.5L538.5 406.6L539.5 406.7L540.6 406.8L541.6 407.0L542.7 407.1L543.7 407.2L544.7 407.3L545.8 407.4L546.8 407.5L547.9 407.6L548.9 407.8L550.0 407.9L551.0 408.0L552.1 408.1L553.1 408.2L554.2 408.3L555.2 408.4" fill="none" stroke="#3cfa1e" stroke-width="0.75"/>
<g fill="none" stroke="#3cfa1e" stroke-width="0.85">
<path d="M331.28 253.14L336.12 253.14L333.70 257.07Z"/>
<path d="M330.98 270.34L335.81 270.34L333.40 274.27Z"/>
<path d="M331.28 278.14L336.12 278.14L333.70 282.07Z"/>
<path d="M334.48 308.34L339.31 308.34L336.90 312.27Z"/>
<path d="M337.58 321.84L342.42 321.84L340.00 325.77Z"/>
<path d="M340.78 329.24L345.62 329.24L343.20 333.17Z"/>
<path d="M344.19 334.14L349.02 334.14L346.60 338.07Z"/>
<path d="M347.02 341.50L351.85 341.50L349.43 345.43Z"/>
<path d="M350.36 346.73L355.19 346.73L352.77 350.66Z"/>
<path d="M353.69 351.21L358.52 351.21L356.11 355.14Z"/>
<path d="M357.07 355.24L361.90 355.24L359.49 359.16Z"/>
<path d="M360.42 358.79L365.25 358.79L362.83 362.72Z"/>
<path d="M363.79 361.96L368.62 361.96L366.20 365.89Z"/>
<path d="M367.11 364.74L371.94 364.74L369.52 368.67Z"/>
<path d="M370.44 367.22L375.27 367.22L372.85 371.15Z"/>
<path d="M373.83 369.52L378.66 369.52L376.24 373.45Z"/>
<path d="M377.17 371.57L382.00 371.57L379.59 375.49Z"/>
<path d="M380.54 373.44L385.37 373.44L382.96 377.37Z"/>
<path d="M383.84 375.10L388.67 375.10L386.26 379.03Z"/>
<path d="M387.20 376.61L392.03 376.61L389.62 380.54Z"/>
<path d="M390.55 377.98L395.38 377.98L392.97 381.91Z"/>
<path d="M393.94 379.26L398.77 379.26L396.35 383.18Z"/>
<path d="M397.27 380.43L402.10 380.43L399.68 384.36Z"/>
<path d="M400.62 381.53L405.45 381.53L403.04 385.46Z"/>
<path d="M404.00 382.58L408.83 382.58L406.42 386.51Z"/>
<path d="M407.32 383.56L412.15 383.56L409.73 387.49Z"/>
<path d="M410.64 384.50L415.47 384.50L413.06 388.43Z"/>
<path d="M414.06 385.41L418.89 385.41L416.47 389.34Z"/>
<path d="M417.40 386.27L422.23 386.27L419.82 390.20Z"/>
<path d="M420.76 387.10L425.59 387.10L423.18 391.02Z"/>
<path d="M424.05 387.87L428.88 387.87L426.46 391.80Z"/>
<path d="M427.42 388.64L432.25 388.64L429.83 392.57Z"/>
<path d="M430.79 389.38L435.62 389.38L433.21 393.31Z"/>
<path d="M434.10 390.08L438.93 390.08L436.51 394.01Z"/>
<path d="M437.47 390.82L442.30 390.82L439.89 394.74Z"/>
<path d="M440.84 391.61L445.67 391.61L443.25 395.54Z"/>
<path d="M444.21 392.39L449.04 392.39L446.62 396.31Z"/>
<path d="M447.52 393.02L452.35 393.02L449.93 396.95Z"/>
<path d="M450.84 393.62L455.67 393.62L453.25 397.55Z"/>
<path d="M454.24 394.22L459.07 394.22L456.65 398.14Z"/>
<path d="M457.57 394.77L462.40 394.77L459.98 398.70Z"/>
<path d="M460.90 395.31L465.73 395.31L463.32 399.24Z"/>
<path d="M464.24 395.83L469.07 395.83L466.65 399.76Z"/>
<path d="M467.66 396.34L472.49 396.34L470.07 400.27Z"/>
<path d="M471.00 396.83L475.83 396.83L473.42 400.76Z"/>
<path d="M474.35 397.31L479.18 397.31L476.77 401.24Z"/>
<path d="M477.70 397.77L482.53 397.77L480.11 401.70Z"/>
<path d="M481.05 398.23L485.88 398.23L483.46 402.16Z"/>
<path d="M484.40 398.68L489.23 398.68L486.81 402.61Z"/>
<path d="M487.75 399.13L492.58 399.13L490.16 403.06Z"/>
<path d="M491.10 399.58L495.93 399.58L493.51 403.51Z"/>
<path d="M494.44 400.02L499.27 400.02L496.86 403.95Z"/>
<path d="M497.79 400.47L502.62 400.47L500.21 404.40Z"/>
<path d="M501.14 400.91L505.97 400.91L503.55 404.83Z"/>
<path d="M504.49 401.34L509.32 401.34L506.90 405.27Z"/>
<path d="M507.84 401.77L512.67 401.77L510.25 405.70Z"/>
<path d="M511.19 402.19L516.02 402.19L513.60 406.12Z"/>
<path d="M514.54 402.61L519.37 402.61L516.95 406.54Z"/>
<path d="M517.89 403.03L522.72 403.03L520.30 406.95Z"/>
<path d="M521.24 403.43L526.07 403.43L523.66 407.36Z"/>
<path d="M524.60 403.84L529.43 403.84L527.01 407.76Z"/>
<path d="M527.95 404.23L532.78 404.23L530.36 408.16Z"/>
<path d="M531.31 404.62L536.14 404.62L533.72 408.55Z"/>
<path d="M534.66 405.00L539.49 405.00L537.08 408.93Z"/>
<path d="M537.94 405.37L542.77 405.37L540.36 409.30Z"/>
<path d="M541.30 405.74L546.13 405.74L543.71 409.66Z"/>
<path d="M544.66 406.10L549.49 406.10L547.07 410.03Z"/>
<path d="M548.02 406.45L552.85 406.45L550.43 410.38Z"/>
<path d="M551.38 406.80L556.21 406.80L553.79 410.73Z"/>
</g>
<rect x="381.8" y="285.3" width="111.39999999999998" height="45.39999999999998" fill="#fff" stroke="#000" stroke-width="1.15"/>
<path d="M388.9 294.2H421.6" stroke="#0a32fa" stroke-width="0.7"/>
<g fill="none" stroke="#0a32fa" stroke-width="0.7"><circle cx="405.10" cy="294.20" r="3.50"/></g>
<text transform="translate(427.6 298.19) scale(1 1.14)" font-size="10.0">Recompute</text>
<path d="M388.9 307.9H421.6" stroke="#aa28fa" stroke-width="0.7"/>
<g fill="none" stroke="#aa28fa" stroke-width="0.7"><path d="M401.08 310.33L409.12 310.33L405.10 303.78Z"/></g>
<text transform="translate(427.6 311.89) scale(1 1.14)" font-size="10.0">Warm−restart</text>
<path d="M388.9 321.7H421.6" stroke="#3cfa1e" stroke-width="0.7"/>
<g fill="none" stroke="#3cfa1e" stroke-width="0.7"><path d="M401.08 319.27L409.12 319.27L405.10 325.82Z"/></g>
<text transform="translate(427.6 325.69) scale(1 1.14)" font-size="10.0">Our method</text>
<text transform="translate(301.7 332) rotate(-90)" font-size="11.65" text-anchor="middle">Relative error</text>
<text x="443.2" y="443.8" font-size="11.65" text-anchor="middle">Execution time</text>
<text x="448.7" y="461.6" font-size="16" font-weight="bold" style="font-family:'Liberation Serif',serif;stroke-width:0.1px" text-anchor="middle">(d)</text>
</g>
</svg>
</body></html>
